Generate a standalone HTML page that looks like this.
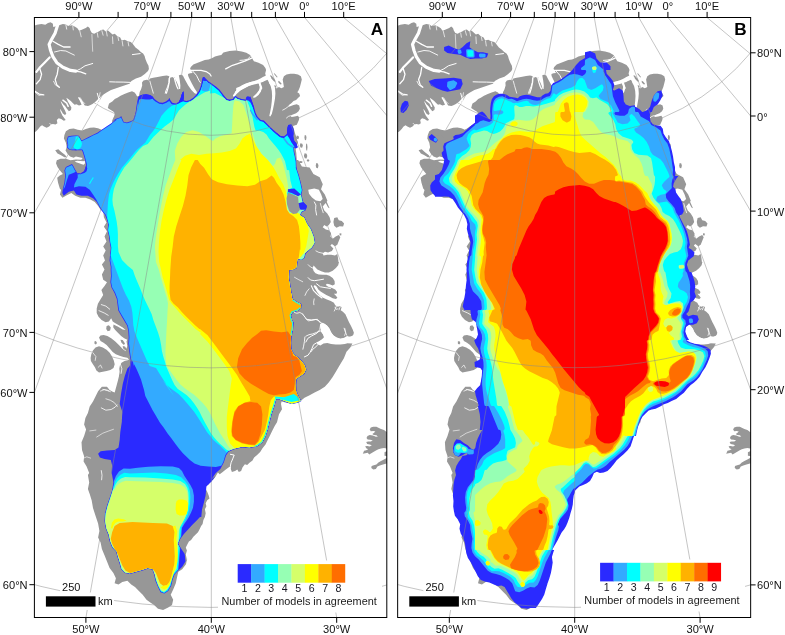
<!DOCTYPE html><html><head><meta charset="utf-8"><title>Number of models in agreement</title>
<style>html,body{margin:0;padding:0;background:#fff}svg{display:block}text{font-family:"Liberation Sans",Arial,sans-serif}</style></head><body>
<svg width="785" height="635" viewBox="0 0 785 635">
<rect width="785" height="635" fill="#fff"/>
<clipPath id="clipA"><rect x="34.4" y="17.5" width="352.40000000000003" height="600.0"/></clipPath>
<g clip-path="url(#clipA)">
<path d="M209.1,-93.2L-990.0,118.2M209.2,-92.8L-935.0,323.6M209.3,-92.5L-845.1,516.3M209.6,-92.1L-723.2,690.5M209.8,-91.9L-572.8,840.9M210.2,-91.6L-398.6,962.8M210.5,-91.5L-205.9,1052.7M210.9,-91.4L-0.5,1107.7M211.3,-91.3L211.3,1126.3M211.7,-91.4L423.1,1107.7M212.1,-91.5L628.5,1052.7M212.4,-91.6L821.2,962.8M212.8,-91.9L995.4,840.9M213.0,-92.1L1145.8,690.5M213.3,-92.5L1267.7,516.3M213.4,-92.8L1357.6,323.6M213.5,-93.2L1412.6,118.2M-740.8,-93.6A952.1,952.1 0 1 0 1163.4,-93.6M-489.7,-93.6A701.0,701.0 0 1 0 912.3,-93.6M-250.0,-93.6A461.3,461.3 0 1 0 672.6,-93.6M-17.6,-93.6A228.9,228.9 0 1 0 440.2,-93.6" fill="none" stroke="#8a8a8a" stroke-width="0.5"/>
<path d="M275,73.8 273.8,72.9 274.4,74.6 276.9,77.6 277.6,76.9ZM40.2,126.5 42.1,125.2 44,126.5 46.6,127.8 49.1,126.5 51,124.6 52.9,123.9 55.5,124.6 57.4,123.3 56.8,120.1 58.7,118.2 61.2,118.9 63.8,120.8 65.7,120.1 64.4,118.2 62.5,115.7 60.6,111.8 59.9,108.7 61.2,110.6 62.9,113.4 65,115 66.3,113.8 65,110.6 63.4,107.4 61.8,104.2 60.6,101 61.8,102.3 63.1,104.2 65,106.1 66.9,108.7 68.9,111.2 71,109.9 71.4,107.4 69.5,104.2 67.6,101 66.3,97.8 68.2,99.1 70.8,101 72.7,102.9 74.6,104.8 76.5,104.2 79,105.5 81.6,104.8 80.3,101.7 79,98.5 81,99.7 82.9,102.9 84.8,105.5 88,106.1 90,105.3 92.5,104 95.7,101.5 98.9,98.3 102.7,95.1 106.6,92.6 111,90 115.5,88.4 120.6,86.8 125.7,84.9 129.5,83.7 130.5,82.4 131.4,81.1 135.9,78.6 141,76.7 144.8,74.1 148,70.9 148.9,68.9 148.5,65.8 146.9,62.7 145.4,58.9 144.6,55.9 143.1,53.6 140.8,52 138.5,49.7 135.5,47.5 133.2,44.4 130.9,42.1 127.8,41.3 124.8,39.8 121.7,40.6 120.2,37.5 117.1,36 114.8,33.7 112.5,34.5 110.3,32.6 108,30.6 105.7,31.4 103.4,29.6 101.1,29.9 98.8,31.4 96.5,32.6 94.2,33.7 91.9,32.9 90.4,30.6 89.6,28 87.8,26.5 85.8,28 83.5,29.1 81.2,29.9 78.9,30.6 77.4,28.3 75.1,26.8 72,25.3 68.2,26.1 65.9,24.5 62.9,24.1 59,25.3 55.2,26.5 53.2,27.1 52.9,23.8 50.6,22.2 48,23 45.3,24.7 41.5,24.1 36.9,24.7 33.1,26.2 28.5,26.5 26.2,133.5 35.1,132 36.4,131 38.3,129ZM274.4,78.9 271.8,75.9 270.3,75 270.3,76.9 271.8,78.9 274.1,81.4 275.7,81.4ZM278.2,80.8 278.5,82.7 280.5,84.6 281.8,83.9 279.7,81.4ZM273.9,86.5 269.6,83.9 268.3,81 266.5,78.2 265.2,73.4 266.1,69.9 265.4,68 263.1,65 258.5,62.7 253.9,61.2 251.7,57.4 250.1,55.1 246.3,52.8 241.7,51.6 235.6,50.5 229.5,51 223.4,52.5 221.3,55 218.8,55.6 215,56.5 211.8,58.2 208.6,59.5 204.8,60.1 201,61.4 197.1,62.9 193.3,64.6 190.8,67.1 190.1,68.8 191.4,70.9 192.7,73.1 190.1,73.2 188,74.1 188.2,76 189.7,79.2 192,83.7 194.6,88.4 196.9,91.9 196.5,93.9 194.6,93.2 191.4,90 188.2,85.6 185.7,81.1 184.1,77.9 182.9,75.4 180.6,74.7 178.3,75.4 176.1,76.7 173.9,77.9 172.3,77 170.4,77.7 168.7,76 166.6,75.4 162.7,76 157.6,76.9 153.2,77.7 150,78.6 148.6,80.5 146.7,79.8 143.5,80.5 142,82.4 142.2,85.6 141,89.4 139.7,91.9 139,95.8 137.1,96.4 136.1,94.5 134.6,92.6 132,91.3 128.2,92.6 124.4,93.9 120.6,95.8 117.4,97.7 114.8,98.9 112.3,101.5 109.1,103.4 108.5,105.3 107.8,107.9 110.4,109.8 113.6,111.7 114.8,113.6 114.2,116.1 112.9,118.7 111.9,121.2 112.5,122.8 106.4,127.4 101.5,129.7 98,128.3 93.9,127.4 89.9,127.7 85.8,128.9 82,130.5 77.7,129.7 73.6,128.5 69.4,128.9 65.9,131.2 64.4,135 63.9,138.4 65.9,142.7 66.7,147.3 65.5,150.6 67.5,153.7 70.1,156.4 73.6,157.7 75.9,156.4 82.7,158 81.2,159.8 75.9,159.5 70.5,160.3 65.9,158.7 60.6,158.7 56.8,160.3 56,163.3 57.5,167.1 59.8,170.2 62.9,174 59.8,175.6 57.2,177.8 58,182.4 59.8,188.5 61.1,190.1 59.9,194.4 62.4,197.7 66.8,195.2 71.3,193.1 75.2,195.7 80.3,197.7 85.4,197.7 90.4,199.5 94.8,202 98.1,205.9 100.6,209.7 103.2,211 103.9,217.3 106.5,222.4 103.9,226.8 107,231.3 104.5,236.4 106.5,241.5 103.2,246.6 105.7,250.4 103.2,255.5 105,260.6 101.9,264.5 104.5,269.6 101.9,274.6 103.2,279.7 107,282.3 104.5,286.1 101.4,289.9 103.2,295 100.1,300 97.9,303.8 96.7,308.4 96.7,313 98.5,316.8 101.6,319.9 105.6,322.2 108.9,321.4 111.2,318.3 112.7,321.4 115,322.9 118.9,325.2 122.7,327.5 125.7,330.1 122.7,329.4 118.1,326.8 113.5,324.5 113.2,327.2 115,329.8 118.1,332.9 121.1,335.9 124.2,338.2 127.3,339.7 126.5,341.3 127.3,345.9 126.4,348.8 125,346.6 122.7,345.9 123,348.2 125.4,350.4 126,350.1 125.7,351.2 122.7,348.9 118.9,345.1 115,341.3 111.2,338.2 107.4,335.9 103.6,334.9 100.5,335.5 99,337.5 100.5,341 103.6,342.8 106.6,345.1 109.7,348.6 112.7,352 115.8,354.3 119.6,355.8 123.4,356.9 127.3,357.8 129.1,359.6 127.3,360.4 124.5,361.1 121.5,362.7 119.9,365.4 119.3,368.8 119.6,371.8 118.9,376.4 117.8,381 116.6,385.6 115.3,390.2 114.7,392.6 112.7,391.7 109.6,390.1 107,386.8 101.9,386.8 98.1,391.3 95.5,396.4 93,401.5 89.7,406.6 87.9,413 85.4,418.1 84.1,424.5 86.1,429.6 84.1,435.9 81.5,442.3 82,449.9 84.1,456.3 83.6,461.4 86.6,466.5 89.2,472.9 87.9,475 89.2,482.6 87.9,489 89.7,494.1 91.7,500.5 93,508.1 95.5,515.8 98.1,523.4 99.4,531.1 98.1,537.4 100.6,542.5 101.9,548.9 104.5,555.3 107,561.6 109.6,568 113.4,573.1 115.9,578.2 114.6,583.3 118.5,584.6 122.3,582 127.4,580.7 131.2,584.6 135,587.1 138.9,590.9 142.7,594.7 146.5,599.8 150.3,602.4 154.1,604.9 158,608.8 163.1,610 168.2,607.5 172,604.9 173.2,599.8 170.7,594.7 173.2,589.6 175.8,583.3 177.1,576.9 178.3,571.8 182.2,569.3 186,564.2 186.8,560.2 186.6,558.2 185.8,554.4 186.9,550.6 185.8,547.5 187.3,544.5 188.9,541.4 191.1,539.9 193.4,536.8 195.7,534.6 198,532.3 199.6,529.2 201.1,526.1 202.6,523.9 203.4,520 204.9,517 205.7,513.2 204.9,509.3 206.4,506.3 205.7,503.2 207.2,500.2 209.5,498.6 208.7,495.6 207.2,491.8 205.2,487.9 203.1,484.9 205.7,484.1 208,484.9 210.3,481.8 213.3,479.5 215.6,476.5 217.9,472.6 219.7,474.2 222.7,471.9 225.8,469.6 228.9,467.3 231.1,465.8 230.8,468.9 231.9,471.9 235,471.1 237.3,469.6 238.8,471.9 241.1,471.1 242.6,467.3 244.9,464.3 247.2,465 249.5,462.7 252.5,460.4 254.1,457.4 257.1,455.1 260.2,452 262.5,448.2 265.5,444.4 267.8,439.8 270.1,435.2 272.4,430.6 274.7,426.1 277,422.2 279,414.3 282,409.2 281,404.1 281.5,401.5 286.6,402.8 291.7,404.1 296.8,402.8 300.6,401 304.5,397.7 309.6,395.2 314.6,392.6 319.7,390.1 324.8,386.8 328.7,382.4 332.5,377.3 336.3,371 340.1,364.6 343.9,358.2 346.5,351.8 350.3,347.5 352.4,343.4 319,342 321.8,340.3 324.1,338.2 323.4,334.9 321.6,331.4 320.3,327.6 320.6,324.4 323.1,323.4 326.3,325.1 328.9,328 330.8,331.8 333.3,335.2 336.5,337.4 340.3,338.7 344.1,337.8 347.1,336.1 350.1,336.9 353.1,335.6 353.9,332.7 352.7,329.5 350.9,325.7 348.9,321.9 347.1,318.1 345.4,314.2 342.9,311.7 340.7,310.2 341.6,307.2 340.3,305.9 337.8,306.8 335.2,305.3 333.9,302.8 330.8,300.9 326.9,299.6 323.1,297.7 319.9,295.4 317.4,292.6 315.5,289.4 313.6,286.2 314.8,284.9 316.8,286.8 318.3,289.4 320.6,291.6 323.4,293.2 326.3,294.9 329.5,296.6 332.7,298.3 335.9,298.9 337.4,297.7 335.9,295.8 333.9,293.8 336.5,293.8 337.1,291.9 335.2,289.4 332,288.1 328.2,286.8 325.7,284.9 326.9,283.7 329.5,284.3 332.7,285.6 334.8,284.3 334.6,281.1 332.7,277.9 329.5,275.8 326.3,274.7 322.5,274.7 318.7,274.5 315.5,273.2 313.6,270.9 312.7,267.7 313.6,265.6 314.8,266.8 317.4,269.4 321.2,271.2 325,272.4 328.9,272.4 332.7,270.7 335.9,268.1 338.2,265.2 339,262 338.5,261.9 338,257.8 337.3,254 335,255.5 331.1,254.7 327.3,254.7 323.5,255.5 322.7,253.2 325,251.7 328.1,252.4 331.9,250.9 333.4,248.6 330.4,245.6 331.9,244 335,246.3 337.3,244.8 338.8,241 340.3,237.2 338.8,234.9 335.7,236.4 332.7,238.7 330.4,236.4 331.1,233.3 328.9,230.3 325.8,229.5 322.7,227.2 324.3,224.9 326.6,226.5 328.9,224.9 330.8,221.9 329.6,217.3 327.3,213.5 324.3,210.4 322.7,206.6 325.7,202.9 328.1,207.4 329.6,208.2 326.7,201.7 327.4,200.8 324.8,194.4 321,189.3 322.8,184.2 319.7,177.3 313.4,174 309.6,167.6 301.9,166.4 299.7,162.7 300,163 301.8,163.1 302.7,162 302,161.2 299.8,161 299.2,161.8 298.1,160 296.8,160 296.3,152.9 295.5,147.8 298.1,142.7 296.8,138.9 296.4,137.7 297,139.1 298.4,139.2 299,137.4 298.5,135.9 296.8,135.6 296.3,137.3 294.8,132.5 293,126.1 296.8,124.8 298.9,120 299.2,117.7 298,115.8 294.8,116.4 291.6,117.1 290.3,115.8 292.9,114.5 296.1,113.2 298.6,111.3 299.9,108.8 299.2,105.6 296.7,104.3 293.5,105 290.3,106.2 287.8,106.9 289,105 291.6,103.1 293.5,101.1 296.1,99.9 298,98 300.1,96.1 299.2,93.5 297.3,92.2 298.6,90.3 299.9,87.1 300.9,83.3 301.8,79.5 300.9,76.3 298,74.4 294.1,73.8 290.3,73.8 286.5,74.6 283.9,76.3 282.7,79.5 283.3,83.3 283.9,87.1 281.4,88.2 278.9,87.1 276.9,88.4 275,87.2 276.3,87.4 275.7,85.6 273.4,85.2ZM65.2,154.9 61.3,151.9 58.3,149.3 55.2,150.3 57.5,153.4 60.6,154.9 64.4,157.2 66.7,157.2ZM110.8,327.5 108.9,325.2 106.6,326 106.2,329 107.7,331.3 110.1,330.6ZM120.4,339.7 121.5,342.8 123.9,345.1 125,343.6 122.7,340.1ZM94.4,341.6 94.5,343.7 95.9,344.6 97,343.1 95.9,341ZM99,372.6 102.8,371.8 106.6,371.1 110.4,370 113.5,368 114.7,364.2 113.8,360.4 112,356.6 109.7,352.7 106.6,349.7 102.8,347.4 99,346.2 95.5,347.4 92.9,350.4 91.3,354.3 90.6,358.1 90.9,361.1 92.9,364.2 94.9,367.3 96.4,370.6ZM186.9,561 187.3,557.8 186.8,560.2ZM306.1,135.5 304.8,135 304.4,137.6 304.9,139.9 306,140.2 306.5,137.6ZM300.4,143.2 299.8,145.5 300.6,147.6 302.1,147.8 302.9,145.5 302.3,143.7ZM306.2,143.4 305.9,147 306.3,150.3 307.1,150.7 307.5,147 307.1,144.1ZM304.6,153.3 303.9,155.9 304.8,158.2 306.5,158.5 307.3,155.9 306.6,153.8ZM307.2,159.4 306.7,160.5 307.4,161.5 308.8,161.6 309.4,160.5 308.9,159.6ZM316.3,163.1 315.7,165.7 316.4,168 317.8,168.3 318.5,165.7 317.9,163.6ZM344.1,223.4 341.8,221.1 338.8,220.3 337.3,217.3 334.2,218.1 333.4,221.9 334.2,225.7 336.5,227.7 339.6,226.2 343.1,226.5ZM339.6,235.3 341.2,235.6 341.5,233.6 339.6,233.3ZM376.4,426.8 373.3,426.8 370.8,427.5 369.7,429.4 370.8,431.2 373.3,430.9 375.4,431.4 373.8,432.9 372.3,433.9 373.8,435 376.4,435.3 377.9,436.5 375.9,436.7 372.8,435.5 369.7,435 367.5,436 366.5,438 367.7,439.6 370.3,439.8 372.8,440.4 370.8,441.6 368.2,441.4 366.2,442.1 367.2,444.1 369.7,444.6 371.8,445.2 369.7,446.5 367.2,445.9 365.2,446.2 366.2,448.2 368.2,449.2 366.2,450.3 364.1,450.8 362.8,453.8 365.2,453.3 367.7,452.8 369.2,454.6 371.3,453.3 373.8,451.8 376.4,450.3 378.4,449.2 381,448.5 384,447.9 386.6,448.5 391.1,448.5 391.1,431.9 386.6,431.9 384,429.9 381,428.9 378.4,427.8ZM386.6,451.3 384.5,452.3 384.5,455.7 386.6,455.9 391.1,455.9 391.1,451.3ZM376.4,464.5 373.8,465.2 371.6,466.1 371.3,468.1 373.3,469.6 375.9,468.9 377.4,466.6 379.9,465.5 383,464.5 386.6,463.5 391.1,463.5 391.1,457.9 386.6,457.9 384,459.4 381,461 378.4,462.5Z" fill="#979797"/>
<path d="M57.8,24.5 55.2,32.9 51.4,39.8 49.1,44.4 50.6,50.5 52.9,56.6 56.8,62.7 62.9,67.3 70.5,70.4 75.9,71.1" fill="none" stroke="#fff" stroke-width="3.2" stroke-linecap="round" stroke-linejoin="round"/>
<path d="M75.9,71.1 80.4,68.9 85,65.8 92.7,63.5" fill="none" stroke="#fff" stroke-width="1.0" stroke-linecap="round" stroke-linejoin="round"/>
<path d="M74.3,71.1 80.4,71.9 85.8,73.9" fill="none" stroke="#fff" stroke-width="1.2" stroke-linecap="round" stroke-linejoin="round"/>
<path d="M52.9,41.3 58.3,44.4 63.6,47 70.1,47" fill="none" stroke="#fff" stroke-width="1.3" stroke-linecap="round" stroke-linejoin="round"/>
<path d="M54.5,52 60.6,50.5 65.9,51 74.3,55.1" fill="none" stroke="#fff" stroke-width="0.9" stroke-linecap="round" stroke-linejoin="round"/>
<path d="M58.3,67.3 57.2,74.2 55.2,79.6 56.8,84.9 59.4,87.2" fill="none" stroke="#fff" stroke-width="1.3" stroke-linecap="round" stroke-linejoin="round"/>
<path d="M49.6,57.4 44.5,62.7 39.5,67.8 36.4,71.9" fill="none" stroke="#fff" stroke-width="2.2" stroke-linecap="round" stroke-linejoin="round"/>
<path d="M39.5,67.8 41.6,74.2 40.1,79.6 36.4,83.7" fill="none" stroke="#fff" stroke-width="1.3" stroke-linecap="round" stroke-linejoin="round"/>
<path d="M112.5,36.8 112.9,43.6" fill="none" stroke="#fff" stroke-width="0.7" stroke-linecap="round" stroke-linejoin="round"/>
<path d="M91.9,34.5 92.7,51.3" fill="none" stroke="#fff" stroke-width="0.6" stroke-linecap="round" stroke-linejoin="round"/>
<path d="M132.4,54.6 140.1,53.6" fill="none" stroke="#fff" stroke-width="1.0" stroke-linecap="round" stroke-linejoin="round"/>
<path d="M130.8,82.4 123.1,82.1 115.5,82 109.7,81.8" fill="none" stroke="#fff" stroke-width="1.0" stroke-linecap="round" stroke-linejoin="round"/>
<path d="M34.6,91 39.2,94.1 43.8,94.8" fill="none" stroke="#fff" stroke-width="1.2" stroke-linecap="round" stroke-linejoin="round"/>
<path d="M62.9,100.2 66.7,103.2 68.2,106.3" fill="none" stroke="#fff" stroke-width="1.5" stroke-linecap="round" stroke-linejoin="round"/>
<path d="M78.9,97.9 82.7,103.2 83.5,106.3" fill="none" stroke="#fff" stroke-width="1.5" stroke-linecap="round" stroke-linejoin="round"/>
<path d="M97.3,93.3 99.6,101.7 95.7,104.8" fill="none" stroke="#fff" stroke-width="1.0" stroke-linecap="round" stroke-linejoin="round"/>
<path d="M149.9,81.1 151.1,85.6 152.4,90 153.3,93.2" fill="none" stroke="#fff" stroke-width="0.8" stroke-linecap="round" stroke-linejoin="round"/>
<path d="M169.6,77.3 169.2,82.4 168,88.1 166.4,93.2" fill="none" stroke="#fff" stroke-width="1.2" stroke-linecap="round" stroke-linejoin="round"/>
<path d="M169.1,78.3 168.9,82.4 167.6,86.8 165.9,90.7 165.3,93.2" fill="none" stroke="#fff" stroke-width="1.0" stroke-linecap="round" stroke-linejoin="round"/>
<path d="M174.5,78.3 175.5,82.4 176.8,86.2 178,88.8" fill="none" stroke="#fff" stroke-width="1.3" stroke-linecap="round" stroke-linejoin="round"/>
<path d="M192.9,71.3 196.5,75.4 199,80.5 200.3,82.4" fill="none" stroke="#fff" stroke-width="1.0" stroke-linecap="round" stroke-linejoin="round"/>
<path d="M186.9,70.3 193.3,70.3 201,70.3 206.1,71.6 209.9,74.1 211.1,76" fill="none" stroke="#fff" stroke-width="1.2" stroke-linecap="round" stroke-linejoin="round"/>
<path d="M251.7,58.2 244.8,61.2 237.1,63.8 232.5,65.3 225.7,68.9" fill="none" stroke="#fff" stroke-width="1.3" stroke-linecap="round" stroke-linejoin="round"/>
<path d="M270,77.6 263.1,80.6 257,82.6 247.8,84.9 241.7,88 235.6,93.3 234.1,95.6" fill="none" stroke="#fff" stroke-width="2.2" stroke-linecap="round" stroke-linejoin="round"/>
<path d="M259.3,83.4 261.6,88 257,94.1 253.9,97.1" fill="none" stroke="#fff" stroke-width="1.5" stroke-linecap="round" stroke-linejoin="round"/>
<path d="M266.8,76.4 261.1,81 251,82.8 242,86.6 235.7,92.2" fill="none" stroke="#fff" stroke-width="1.6" stroke-linecap="round" stroke-linejoin="round"/>
<path d="M316.3,343.1 313.6,344.6 312,348.4 310.1,352.3 307.9,355.3 304.4,356.9" fill="none" stroke="#fff" stroke-width="1.0" stroke-linecap="round" stroke-linejoin="round"/>
<path d="M317.8,344.6 315.9,346.9 312.8,349.2 311.3,351.5" fill="none" stroke="#fff" stroke-width="0.9" stroke-linecap="round" stroke-linejoin="round"/>
<path d="M305.9,318.6 308.2,320.9 312,320.2 315.9,319.4 318.9,320.9 321.2,322.8" fill="none" stroke="#fff" stroke-width="0.9" stroke-linecap="round" stroke-linejoin="round"/>
<path d="M302.9,314.1 299.8,312.5 296.8,313.3 294.5,312.5" fill="none" stroke="#fff" stroke-width="0.8" stroke-linecap="round" stroke-linejoin="round"/>
<path d="M304.9,337 304.4,341.6 303.6,346.2 302.9,349.2" fill="none" stroke="#fff" stroke-width="0.9" stroke-linecap="round" stroke-linejoin="round"/>
<path d="M320.4,330.9 316.6,332.4 312.8,333.9 309,334.7 305.9,336.2" fill="none" stroke="#fff" stroke-width="0.9" stroke-linecap="round" stroke-linejoin="round"/>
<path d="M335,307.2 336.5,309.5 338,308.7" fill="none" stroke="#fff" stroke-width="0.8" stroke-linecap="round" stroke-linejoin="round"/>
<path d="M344.9,328.6 345.7,332.4 344.6,335.5" fill="none" stroke="#fff" stroke-width="0.7" stroke-linecap="round" stroke-linejoin="round"/>
<path d="M309.1,288.8 306.6,291.9 305,295.4" fill="none" stroke="#fff" stroke-width="0.8" stroke-linecap="round" stroke-linejoin="round"/>
<path d="M314.2,298.9 313.6,302.1 313.9,304.7" fill="none" stroke="#fff" stroke-width="0.8" stroke-linecap="round" stroke-linejoin="round"/>
<path d="M294.5,277.3 298.9,279.8 302.7,281.7" fill="none" stroke="#fff" stroke-width="0.7" stroke-linecap="round" stroke-linejoin="round"/>
<path d="M302.7,314.2 306.6,319.3 311.7,320 317.4,319.3 320.6,323.1" fill="none" stroke="#fff" stroke-width="1.0" stroke-linecap="round" stroke-linejoin="round"/>
<path d="M320.6,324.4 319.9,329.5 316.8,333.3 311.7,335.9 307.8,338.4 305.9,342" fill="none" stroke="#fff" stroke-width="1.0" stroke-linecap="round" stroke-linejoin="round"/>
<path d="M336.5,305.9 335.2,309.1 334.3,311" fill="none" stroke="#fff" stroke-width="0.8" stroke-linecap="round" stroke-linejoin="round"/>
<path d="M340.3,306.6 339,309.8" fill="none" stroke="#fff" stroke-width="0.8" stroke-linecap="round" stroke-linejoin="round"/>
<path d="M344.1,328.2 345.4,332.1 346.7,335.2" fill="none" stroke="#fff" stroke-width="0.8" stroke-linecap="round" stroke-linejoin="round"/>
<path d="M311.3,285.8 313.6,290.7 317.4,294.5 322,298" fill="none" stroke="#fff" stroke-width="1.1" stroke-linecap="round" stroke-linejoin="round"/>
<path d="M315.9,271.6 320.4,272.3 325,273.8" fill="none" stroke="#fff" stroke-width="1.0" stroke-linecap="round" stroke-linejoin="round"/>
<path d="M308.2,277.7 310.5,280 314.3,280.7 318.9,280 323.5,279.2" fill="none" stroke="#fff" stroke-width="1.0" stroke-linecap="round" stroke-linejoin="round"/>
<path d="M316.6,283.8 320.4,286.8 325,287.6 330.4,288.4" fill="none" stroke="#fff" stroke-width="1.0" stroke-linecap="round" stroke-linejoin="round"/>
<path d="M314.3,202 315.9,205.1 315.6,209.6 316.6,215" fill="none" stroke="#fff" stroke-width="0.9" stroke-linecap="round" stroke-linejoin="round"/>
<path d="M320.4,203.5 321.7,208.1 323.2,212.7" fill="none" stroke="#fff" stroke-width="0.8" stroke-linecap="round" stroke-linejoin="round"/>
<path d="M322.7,253.2 318.9,252.4 315.9,250.9" fill="none" stroke="#fff" stroke-width="0.8" stroke-linecap="round" stroke-linejoin="round"/>
<path d="M313.6,268.5 310.5,267 308.2,264.7" fill="none" stroke="#fff" stroke-width="0.8" stroke-linecap="round" stroke-linejoin="round"/>
<path d="M250.2,56.6 247.6,59.1 243.8,60.1 240,60.4" fill="none" stroke="#fff" stroke-width="0.9" stroke-linecap="round" stroke-linejoin="round"/>
<path d="M287.8,106.9 285.2,108.8 282.7,110.1" fill="none" stroke="#fff" stroke-width="0.8" stroke-linecap="round" stroke-linejoin="round"/>
<path d="M290.3,115.8 288.4,116.4 286.5,118" fill="none" stroke="#fff" stroke-width="0.8" stroke-linecap="round" stroke-linejoin="round"/>
<path d="M230.4,454.3 234.2,455.1 232.7,458.9 231.1,462.7 230.4,465.8" fill="none" stroke="#fff" stroke-width="1.0" stroke-linecap="round" stroke-linejoin="round"/>
<path d="M101.3,304.6 105.9,306.1 109.7,309.2" fill="none" stroke="#fff" stroke-width="0.8" stroke-linecap="round" stroke-linejoin="round"/>
<path d="M99,310.7 104.3,313 108.2,315.3" fill="none" stroke="#fff" stroke-width="0.8" stroke-linecap="round" stroke-linejoin="round"/>
<path d="M92.9,352.7 95.9,356.6 95.2,360.4" fill="none" stroke="#fff" stroke-width="0.7" stroke-linecap="round" stroke-linejoin="round"/>
<path d="M98.2,367.3 100.5,365 102,368" fill="none" stroke="#fff" stroke-width="0.7" stroke-linecap="round" stroke-linejoin="round"/>
<path d="M120.4,364.2 121.9,368.8 121.1,373.4" fill="none" stroke="#fff" stroke-width="0.8" stroke-linecap="round" stroke-linejoin="round"/>
<path d="M102.8,389.4 107.4,390.2 110.4,391.7" fill="none" stroke="#fff" stroke-width="0.8" stroke-linecap="round" stroke-linejoin="round"/>
<path d="M79.7,30.6 81.2,36.8" fill="none" stroke="#fff" stroke-width="0.7" stroke-linecap="round" stroke-linejoin="round"/>
<path d="M97.3,32.9 98,37.2" fill="none" stroke="#fff" stroke-width="0.7" stroke-linecap="round" stroke-linejoin="round"/>
<path d="M101.8,30.6 103.1,35.2" fill="none" stroke="#fff" stroke-width="0.7" stroke-linecap="round" stroke-linejoin="round"/>
<path d="M106.4,31.4 107.2,36" fill="none" stroke="#fff" stroke-width="0.7" stroke-linecap="round" stroke-linejoin="round"/>
<path d="M117.9,36.8 118.7,40.6" fill="none" stroke="#fff" stroke-width="0.7" stroke-linecap="round" stroke-linejoin="round"/>
<path d="M122.2,41.3 122.9,45.9" fill="none" stroke="#fff" stroke-width="0.7" stroke-linecap="round" stroke-linejoin="round"/>
<path d="M128.1,42.1 128.8,45.9" fill="none" stroke="#fff" stroke-width="0.7" stroke-linecap="round" stroke-linejoin="round"/>
<path d="M65.9,25 66.7,29.1" fill="none" stroke="#fff" stroke-width="0.8" stroke-linecap="round" stroke-linejoin="round"/>
<path d="M72.8,26.1 73.3,29.9" fill="none" stroke="#fff" stroke-width="0.7" stroke-linecap="round" stroke-linejoin="round"/>
<path d="M53.6,81.3 55.5,85.1 58.7,87" fill="none" stroke="#fff" stroke-width="0.8" stroke-linecap="round" stroke-linejoin="round"/>
<path d="M35.1,92.1 38.9,95.3 42.7,94.6" fill="none" stroke="#fff" stroke-width="0.8" stroke-linecap="round" stroke-linejoin="round"/>
<path d="M80.3,97.8 82.2,101 84.8,103.6" fill="none" stroke="#fff" stroke-width="0.7" stroke-linecap="round" stroke-linejoin="round"/>
<path d="M100.1,92.7 99.4,96.6" fill="none" stroke="#fff" stroke-width="0.7" stroke-linecap="round" stroke-linejoin="round"/>
<path d="M49.7,123.3 52.3,125.9" fill="none" stroke="#fff" stroke-width="0.7" stroke-linecap="round" stroke-linejoin="round"/>
<path d="M101.3,407.9 105.9,410.2 111.2,409.5 115,407.2 117.3,404.9" fill="none" stroke="#fff" stroke-width="0.8" stroke-linecap="round" stroke-linejoin="round"/>
<path d="M105.9,398.8 110.4,400.3 114.3,402.6 117.3,406.4" fill="none" stroke="#fff" stroke-width="0.7" stroke-linecap="round" stroke-linejoin="round"/>
<path d="M89.8,430.9 95.9,430.1" fill="none" stroke="#fff" stroke-width="0.6" stroke-linecap="round" stroke-linejoin="round"/>
<path d="M96.7,437 102.8,433.2 108.9,430.9 113.5,429.3" fill="none" stroke="#fff" stroke-width="0.6" stroke-linecap="round" stroke-linejoin="round"/>
<path d="M100.5,391.1 104.3,389.6 108.9,391.1" fill="none" stroke="#fff" stroke-width="0.7" stroke-linecap="round" stroke-linejoin="round"/>
<path d="M101.3,470.6 102,475.2 101.6,479.8" fill="none" stroke="#fff" stroke-width="0.8" stroke-linecap="round" stroke-linejoin="round"/>
<path d="M82.9,458.4 86.8,456.8 90.6,458.1" fill="none" stroke="#fff" stroke-width="0.6" stroke-linecap="round" stroke-linejoin="round"/>
<path d="M174.7,78.6 175.6,74.1 177.9,72.8 178.9,75.4 179.8,80.5 180.4,85.6 180.2,89.1 179.2,89.1 178.2,85.6 176.6,81.8ZM353.8,334.7 351.8,336.2 348,337.1 344.1,338.2 340.3,338.7 336.5,337.6 333.4,335.6 331.1,332.5 329.6,328.7 327.3,325.7 324.3,323.4 321.5,322.5 320.4,326.3 322,329.3 320.4,330.9 322.7,333.9 324.3,337 322,339.3 318.9,341.3 316.3,342.6 317.8,344.6 320.4,345.4 323.5,343.6 327.3,343.1 331.1,343.9 335.7,344.6 340.3,344.6 344.9,343.9 348.7,342.6 352.5,341.9 355.6,339.3ZM266.1,75.4 262.9,76.9 260.4,78.5 257.2,80 253.4,81.3 249.6,82.3 245.7,83.6 242.5,85.1 240,86.4 236.2,88 236.2,91 240,90.4 241.9,89.7 245.1,87.9 248.9,85.9 252.7,84.3 256.6,83.1 260.4,81.5 263.6,79.9 267,78.6ZM258.5,82.7 260.4,82 261.9,87.1 261,91.6 258.5,95 255.3,97.6 254.3,96.7 256.8,94.1 259.1,91 259.7,87.1ZM268.3,78.2 270.6,78 273.4,82.7 275,87.8 275.4,93.5 275,98.6 274.1,103.7 273.1,108.8 271.8,113.9 270.3,116.4 269.3,115.9 270.3,111.3 271.2,106.2 271.8,101.1 272.1,96.1 271.8,91 270.8,86.5 269,82.3ZM74.6,161.6 77.2,160.8 80.3,161 83.3,161.3 84.8,160.8 85,163.3 83.8,164.8 81.8,164.3 79.2,163.3 76.2,162.3ZM308.2,189.8 314.3,188.6 318.9,189.8 321.2,194.4 322.7,199 320.4,201.3 315.9,200.5 312,197.5 309,193.7Z" fill="#fff"/>
<path d="M296.4,166.4 296.2,161.3 295.2,156.2 294.1,151.1 293.9,147.3 295.8,148.6 297.7,147.3 296.4,143.5 293.9,140.3 293.2,135.9 293.9,132 293.2,128.2 291.3,124.4 288.2,125 287.3,128.2 286.9,133.9 283.7,136.5 280.5,135.9 277.3,133.3 273.5,130.1 270.3,126.9 267.1,123.8 263.9,120.6 260.8,119.9 257.6,116.8 255.7,112.9 254.4,108.5 253.8,106.6 252.5,102.7 251.2,98.9 249.9,96.1 250,97 247.5,96.4 246.6,97 245.5,99.6 241.7,98.9 237.9,97.7 235.4,95.8 234.1,97 232.8,98.9 229.6,99.6 227.1,98.9 225.2,97 223.2,94.5 221.3,91.9 219.4,89.4 216.2,86.8 213.7,84.9 211.1,83 208.6,81.5 206.1,79.2 204.1,76.9 202.9,77.3 202,80.5 201,85.6 199,90.7 196.5,94.5 193.3,97.7 189.5,100.2 186.3,100.9 183.4,100.2 183.8,95.8 183.4,91.3 182.1,93.2 180.6,98.3 178.7,102.1 175.5,103.4 172.3,102.8 170.4,100.2 169.4,97.7 168.5,99.6 165.9,101.5 162.7,102.8 159.6,102.4 157,100.9 154.5,98.9 152.5,96.4 150,95.1 149.9,95.1 146.1,94.2 142.2,94.7 140.3,95.5 138.4,97 137.4,100.9 136.5,106 135.9,111.1 134.6,116.1 133.3,120 130.8,121.2 126.9,122.5 123.8,121.9 122.5,119.3 121.2,116.1 119.9,117.4 116.1,118.7 112.3,121.2 115.6,119.8 111,123.6 106.4,126.6 101.1,130.2 97.3,132.8 92.7,135 88.1,137.3 84.3,139.2 81.7,140.4 78.9,135.8 75.9,135.4 71.3,135.8 67.9,136.6 66.7,140.4 67.5,145 66.7,147.3 69,149.6 72,150.3 75.9,150.3 82,150.3 83.2,153.4 84.3,157.2 85.3,161 86.3,164.9 85,168.7 83.5,171.7 80.4,173.6 77.4,173.3 75.1,169.4 73.6,166.4 72,164.1 69,165.6 65.9,167.1 64.4,170.2 65.2,175.6 64.4,182.4 62.9,188.5 62.1,194.7 62.4,193.1 63.7,195.7 68.8,191.8 73.9,190.6 76.4,194.4 81.5,195.7 87.9,195.7 93,198.2 96.8,202 99.4,207.1 101.9,211 105,214.8 107,219.9 108.3,225 107.5,230.1 109,236.4 109.6,241.5 110.8,247.9 110.1,254.3 109.6,260.6 110.8,267 110.7,270 111,276.1 110.4,282.2 111.5,287.6 114.5,292.9 116.8,299 117.6,305.2 118.3,310.5 121.4,315.9 124.5,321.2 127.2,325.8 128.3,331.1 128.7,337.3 128.3,343.4 129,349.5 129.8,355.6 130.6,360.2 129.8,366 127.4,368.4 124.8,376.1 122.8,383.7 121,393.9 119.7,404.1 122.3,411.7 121.8,421.9 120.3,432.1 119.7,439.7 118.5,447.4 114.6,449.9 107,450.4 100.6,451.2 98.1,453.8 99.9,457.6 104.5,458.9 110.8,460.1 112.1,465.2 111.6,472.9 112.1,475 113.4,482.6 112.1,490.3 109.6,497.9 107,505.6 105,513.2 104.5,520.9 105.7,528.5 108.3,534.9 109.6,541.2 112.1,547.6 115.9,551.4 117.7,557.8 119.7,564.2 121,569.3 124.8,573.1 129.9,573.9 136.3,572.3 142.7,570.5 147.8,568.8 152.4,569.8 154.1,574.4 155.4,580.7 158,587.1 160.5,592.2 164.3,593.5 168.2,590.9 171.2,585.8 172.7,579.5 174.5,574.4 178.3,570.5 182.2,566.7 185.5,561.6 184.7,554 181.4,548.9 178.3,543.8 180.4,538.7 183.9,534.1 188.5,529 192.4,524.7 196.2,520.9 200,517 201.3,517 202,509.4 203.8,503 205.6,495.4 206.4,486.5 211.5,481.4 215.3,476.3 211.5,479.2 215.8,472.9 220.4,469 223.9,462.2 226,455.5 228.5,451.7 234.4,449.2 242,447.4 249.7,447.9 257.3,446.6 262.4,442.8 265.5,437.2 268,429.6 269.8,421.9 271.8,414.3 274.4,406.6 276.4,399.5 279.5,399.5 285.4,402 291.7,404.1 298.1,402.8 301.4,401 298.9,396.4 296.8,391.3 296.3,385 296.8,379.1 300.6,376.6 304.5,374 306.5,369.7 305,364.6 301.9,360.8 298.1,356.9 294.3,354.4 291.7,349.3 291.2,342.9 291.7,336.6 293,330.2 293.8,322.5 292.2,320 291.2,315.4 293,312.4 298.1,310.8 301.9,307.8 301.4,303.9 296.8,301.4 293,298.9 291.7,292.5 290.4,284.8 289.2,277.2 289.7,270.6 293,270.1 296.8,268.3 298.1,259.4 301.4,260.1 304.5,258.1 305.7,253.5 308.3,251 312.1,247.9 315.2,242.8 314.1,236.4 311.1,228.8 307.5,223.7 304.5,217.3 300.6,214.8 301.9,212.2 305.7,210.2 307,205.9 303.2,202 301.4,194.4 302.4,190.1 300.9,182.9 298.9,175.3 297.1,169.9ZM297.1,170 296.3,167.6 297.1,169.9Z" fill="#2a2aff"/>
<path d="M97.3,201.5 97.3,201.6 97.4,201.6 97.4,201.7 100,206.8 102.5,210.6 105.5,214.4 105.6,214.4 105.6,214.5 105.7,214.5 107.7,219.6 107.7,219.7 109,224.8 109,224.9 109,225 109,225 109,225.1 108.2,230.1 109.7,236.2 109.7,236.3 110.3,241.4 111.5,247.8 111.5,247.8 111.5,247.9 111.5,248 110.8,254.4 110.3,260.6 111.5,266.9 111.5,266.9 111.5,267 111.4,270 111.7,276.1 111.7,276.2 111.1,282.2 112.2,287.4 115.1,292.6 115.1,292.6 115.2,292.7 117.5,298.8 117.5,298.8 117.5,298.9 118.3,305.1 119,310.3 122,315.5 125.1,320.8 127.8,325.4 127.8,325.5 127.9,325.6 127.9,325.7 129,331 129,331.1 129.4,337.3 129.4,337.3 129,343.4 129.7,349.4 130.5,355.5 131.2,359.5 132.9,361.7 133.9,366 134.1,364.2 136.4,368.8 138.7,374.1 141,379.5 142.5,384.8 144.1,390.2 145.3,396 152.5,410 160,422.7 163.8,427.8 167.6,433.5 171.5,438.6 175.3,443.7 179.1,448.8 182.9,453.2 186.8,457.1 189.9,460 194.5,463.5 200.6,465.8 208.2,466.6 215.9,466.9 221.2,465.8 221.3,465.7 223.3,461.9 225.3,455.3 225.4,455.2 225.4,455.2 225.4,455.1 227.9,451.3 228,451.3 228,451.2 228.1,451.2 228.1,451.1 228.2,451.1 228.2,451.1 234.1,448.6 234.2,448.5 234.2,448.5 241.8,446.7 241.9,446.7 242,446.7 242,446.7 249.7,447.2 257,445.9 261.9,442.3 264.9,436.9 267.3,429.4 269.1,421.7 269.1,421.7 271.1,414.1 271.1,414.1 273.7,406.4 275.7,399.3 275.7,399.2 275.8,399.2 275.8,399.1 275.9,399.1 275.9,399 276,399 276,398.9 276.1,398.9 276.1,398.9 276.2,398.8 276.3,398.8 276.3,398.8 276.4,398.8 279.5,398.8 279.6,398.8 279.6,398.8 279.7,398.8 279.8,398.9 285.6,401.3 291.7,403.4 297.9,402.1 300.5,400.7 298.3,396.7 298.3,396.7 296.2,391.6 296.1,391.5 296.1,391.4 296.1,391.4 295.6,385.1 295.6,385 295.6,384.9 296.1,379 296.1,379 296.1,378.9 296.2,378.8 296.2,378.8 296.2,378.7 296.3,378.7 296.3,378.6 296.4,378.6 296.4,378.5 300.2,376 303.9,373.5 305.8,369.6 304.4,364.9 301.4,361.3 297.7,357.4 293.9,355 293.9,354.9 293.8,354.9 293.8,354.8 293.7,354.8 293.7,354.7 291.1,349.6 291,349.6 291,349.5 291,349.4 291,349.4 290.5,343 290.5,342.9 290.5,342.8 291,336.5 291,336.5 292.3,330.1 293.1,322.7 291.6,320.4 291.6,320.3 291.6,320.3 291.5,320.2 291.5,320.1 290.5,315.5 290.5,315.5 290.5,315.4 290.5,315.4 290.5,315.3 290.5,315.2 290.5,315.2 290.6,315.1 290.6,315 292.4,312 292.4,312 292.5,311.9 292.5,311.9 292.6,311.8 292.7,311.8 292.7,311.8 292.8,311.7 297.8,310.2 301.2,307.5 300.8,304.3 296.5,302 296.4,302 292.6,299.5 292.6,299.4 292.5,299.4 292.5,299.3 292.4,299.3 292.4,299.2 292.4,299.2 292.3,299.1 292.3,299 291,292.6 291,292.6 289.7,284.9 289.7,284.9 288.5,277.3 288.5,277.2 288.5,277.1 289,270.5 289,270.5 289,270.4 289,270.4 289.1,270.3 289.1,270.2 289.1,270.2 289.2,270.1 289.2,270.1 289.3,270 289.3,270 289.4,270 289.5,269.9 289.5,269.9 289.6,269.9 292.8,269.4 296.2,267.8 297.4,259.3 297.4,259.2 297.4,259.2 297.5,259.1 297.5,259 297.5,259 297.6,258.9 297.6,258.9 297.7,258.8 297.7,258.8 297.8,258.8 297.8,258.7 297.9,258.7 298,258.7 298,258.7 298.1,258.7 298.2,258.7 298.2,258.7 301.3,259.4 303.9,257.7 305,253.3 305,253.3 305.1,253.2 305.1,253.1 305.1,253.1 305.2,253 305.2,253 307.8,250.5 307.9,250.5 311.6,247.4 314.5,242.7 313.4,236.6 310.5,229.1 306.9,224.1 306.9,224.1 306.9,224 304,217.8 300.2,215.4 300.2,215.3 300.1,215.3 300.1,215.3 300,215.2 300,215.1 300,215.1 299.9,215 299.9,215 299.9,214.9 299.9,214.8 299.9,214.7 299.9,214.7 299.9,214.6 299.9,214.5 300,214.5 301.3,211.9 301.3,211.8 301.4,211.8 301.4,211.7 301.5,211.7 301.5,211.6 301.6,211.6 305.1,209.7 306.2,206.1 302.7,202.5 302.6,202.4 302.6,202.4 302.6,202.3 302.5,202.2 302.5,202.2 300.7,194.6 300.7,194.5 300.7,194.4 300.7,194.4 300.7,194.3 300.7,194.2 301.7,190.1 300.2,183.1 298.2,175.5 296.5,170.3 296.5,170.3 296.4,170.2 295.6,167.8 295.6,167.8 295.6,167.7 295.6,167.6 295.6,167.6 295.6,167.5 295.6,167.4 295.6,167.4 295.7,167.3 295.7,167.2 295.7,167.2 295.8,167.1 295.8,167.1 295.7,166.5 295.7,166.5 295.7,166.4 295.5,161.4 294.5,156.3 293.4,151.2 293.4,151.2 293.4,151.1 293.2,147.3 293.2,147.3 293.2,147.2 293.2,147.1 293.2,147.1 293.3,147 293.3,146.9 293.3,146.9 293.4,146.8 293.4,146.8 293.5,146.7 293.5,146.7 293.6,146.7 293.6,146.6 293.7,146.6 293.8,146.6 293.8,146.6 293.9,146.6 294,146.6 294,146.6 294.1,146.6 294.2,146.7 294.2,146.7 294.3,146.7 295.8,147.8 296.9,147 295.8,143.8 293.3,140.7 293.3,140.7 293.3,140.6 293.2,140.5 293.2,140.5 293.2,140.4 293.1,140 292.4,140 291.8,136.1 291.8,136 291.8,135.8 291.8,135.7 292.5,132 291.9,128.6 290.5,126 289.3,126.2 288.7,128.4 288.3,134 288.3,134.1 288.2,134.3 288.2,134.4 288.1,134.5 288.1,134.7 288,134.8 287.9,134.9 287.8,135 284.6,137.6 284.5,137.7 284.4,137.7 284.2,137.8 284.1,137.8 284,137.9 283.8,137.9 283.7,137.9 283.6,137.9 283.4,137.9 280.2,137.3 280.1,137.2 280,137.2 279.8,137.1 279.7,137.1 279.6,137 276.4,134.4 276.4,134.4 272.6,131.2 272.5,131.1 269.3,127.9 266.1,124.8 266.1,124.8 263.2,121.9 260.5,121.3 260.4,121.2 260.2,121.2 260.1,121.1 260,121.1 259.9,121 259.8,120.9 256.6,117.8 256.5,117.7 256.5,117.6 256.4,117.5 256.3,117.4 254.4,113.5 254.4,113.4 254.4,113.3 253.1,108.9 252.5,107 251.2,103.1 249.9,99.4 249.4,98.3 247.8,97.9 247.7,97.9 246.8,100.1 246.7,100.3 246.7,100.4 246.6,100.5 246.5,100.6 246.4,100.7 246.3,100.8 246.2,100.8 246,100.9 245.9,100.9 245.8,101 245.7,101 245.5,101 245.4,101 245.2,101 241.4,100.3 241.3,100.2 237.5,99 237.4,99 237.3,98.9 237.2,98.9 237.1,98.8 235.5,97.6 235.2,97.9 234,99.7 233.9,99.8 233.8,99.9 233.7,100 233.6,100.1 233.5,100.1 233.4,100.2 233.2,100.2 233.1,100.3 229.9,101 229.8,101 229.6,101 229.5,101 229.4,101 229.2,100.9 226.7,100.2 226.6,100.2 226.5,100.1 226.3,100.1 226.2,100 226.1,99.9 224.2,98 224.1,97.9 222.1,95.4 222.1,95.3 220.2,92.7 218.4,90.4 215.3,87.9 212.9,86 210.3,84.2 207.9,82.7 207.8,82.6 207.7,82.5 205.2,80.2 205,80.1 203.9,78.8 203.4,80.8 202.4,85.9 202.3,86 202.3,86.1 200.3,91.2 200.2,91.3 200.2,91.5 197.7,95.3 197.6,95.4 197.5,95.5 194.3,98.7 194.2,98.8 194.1,98.9 190.3,101.4 190.2,101.4 190,101.5 189.9,101.5 189.8,101.6 186.6,102.3 186.5,102.3 186.3,102.3 186.2,102.3 186.1,102.3 186,102.3 183.1,101.6 182.9,101.5 182.8,101.5 182.7,101.4 182.6,101.3 182.5,101.3 182.4,101.2 182.3,101.1 182.2,101 182.2,100.8 182.1,100.7 182.1,100.6 182,100.5 182,100.3 182,100.2 182,100.1 182.2,97.8 181.9,98.7 181.9,98.8 181.9,98.9 180,102.7 179.9,102.9 179.8,103 179.7,103.1 179.6,103.2 179.5,103.3 179.4,103.3 179.2,103.4 176,104.7 175.9,104.7 175.8,104.8 175.6,104.8 175.5,104.8 175.4,104.8 175.2,104.8 172,104.2 171.9,104.1 171.8,104.1 171.7,104 171.6,104 171.4,103.9 171.3,103.8 171.3,103.7 171.2,103.6 169.3,101 169.2,100.9 169.2,100.9 166.7,102.6 166.6,102.7 166.4,102.8 163.2,104.1 163.1,104.1 163,104.2 162.8,104.2 162.7,104.2 162.5,104.2 159.4,103.8 159.3,103.8 159.2,103.7 159,103.7 158.9,103.6 156.3,102.1 156.2,102.1 156.1,102 153.6,100 153.5,99.9 153.4,99.8 151.6,97.5 149.6,96.5 149.6,96.5 146,95.6 142.6,96.1 141,96.7 139.6,97.8 138.8,101.2 138,105.6 138,101.5 137.2,106.1 136.6,111.2 136.6,111.3 135.3,116.3 135.3,116.3 134,120.2 133.9,120.3 133.9,120.3 133.9,120.4 133.8,120.5 133.8,120.5 133.7,120.6 133.7,120.6 133.6,120.6 131.1,121.8 131,121.9 127.1,123.2 127.1,123.2 127,123.2 126.9,123.2 126.8,123.2 126.8,123.2 123.7,122.6 123.6,122.6 123.5,122.5 123.5,122.5 123.4,122.5 123.3,122.4 123.3,122.4 123.3,122.3 123.2,122.3 123.2,122.2 121.9,119.6 121.9,119.6 120.9,117.3 120.4,117.9 120.3,117.9 120.3,118 120.2,118 120.2,118 120.1,118.1 116.4,119.3 116.2,119.5 116.2,119.5 116.2,119.5 116.3,119.6 116.3,119.7 116.3,119.7 116.3,119.8 116.3,119.9 116.3,119.9 116.3,120 116.2,120.1 116.2,120.1 116.2,120.2 116.1,120.2 116.1,120.3 116,120.3 111.4,124.1 111.4,124.2 106.8,127.2 101.5,130.8 97.7,133.4 97.6,133.4 97.6,133.4 93,135.6 88.4,137.9 84.6,139.8 84.6,139.8 82,141 81.9,141.1 81.9,141.1 81.8,141.1 81.7,141.1 81.7,141.1 81.6,141.1 81.5,141.1 81.5,141.1 81.4,141 81.3,141 81.3,141 81.2,140.9 81.2,140.9 81.1,140.8 81.1,140.8 78.5,136.4 75.9,136.1 71.4,136.5 68.4,137.2 67.4,140.4 68.2,144.9 68.2,145 68.2,145 68.2,145.1 68.2,145.2 68.2,145.2 67.5,147.1 69.4,149 72.1,149.6 82,149.6 82.1,149.6 82.1,149.6 82.2,149.6 82.3,149.7 82.3,149.7 82.4,149.7 82.5,149.8 82.5,149.8 82.5,149.9 82.6,149.9 82.6,150 82.7,150 83.9,153.1 83.9,153.2 85,157 85,157 86,160.8 86,160.8 87,164.7 87,164.8 87,164.9 87,164.9 87,165 87,165.1 87,165.1 85.7,168.9 85.6,169 84.1,172 84.1,172.1 84.1,172.1 84,172.2 84,172.2 83.9,172.3 83.9,172.3 80.8,174.2 80.7,174.2 80.6,174.3 80.6,174.3 80.5,174.3 80.5,174.3 80.4,174.3 80.3,174.3 77.7,174 77.7,177.8 74.4,184.2 73.9,187.5 79,186.2 85.4,186.8 89.7,189.8 93,194.4 96.3,199.5 97.2,201.4ZM74.5,169.8 74.5,169.7 73,166.8 71.8,165 69.3,166.2 69.3,166.2 66.4,167.6 65.1,170.3 65.9,175.5 65.9,175.6 65.9,175.6 65.9,175.7 65.1,182.5 65.1,182.6 63.6,188.6 63.4,189.8 65,186.8 66.8,180.4 68.8,174.8 73.9,172.7 75.7,171.8Z" fill="#33aaff"/>
<path d="M164.5,112.3 161.3,116.1 158.8,121.2 156.2,126.3 153.7,130.2 149.9,135 145.2,142.7 136.6,150 133.5,153.8 129.7,158.4 125.9,163 122,167.6 118.5,172.9 115.5,178.3 112.9,183.6 110.6,189 109,194.3 108.3,199.7 107.8,205 107.5,210.4 107.2,215.7 107.4,218.9 107.7,219.6 107.7,219.7 109,224.8 109,224.9 109,225 109,225 109,225.1 108.2,230.1 109.7,236.2 109.7,236.3 110.3,241.4 111.5,247.8 111.5,247.8 111.5,247.9 111.5,248 110.8,254.4 110.7,255.5 113.5,263 116.1,270 118.3,276.1 120.6,282.2 122.9,288.3 125.7,294.5 129,300.6 131.3,306.7 132.4,312.8 132.9,318.9 133.3,325 134.4,331.1 136.7,337.3 139.4,343.4 142,349.5 144.6,355.6 147.4,361.7 149.7,366 156,368 159.4,373.4 162.7,378.7 166.2,384.1 166.6,384.7 169.6,387.6 174,390.8 178.5,394 182.9,398.5 186.8,402.9 190.6,407.4 194.1,411.8 197.6,416.9 200.8,422 203.9,427.1 207.1,432.2 210.3,436.1 213.5,439.9 216.7,443.1 219.9,445.6 223.1,448.8 225.6,451.3 227,452.7 227.9,451.3 228,451.3 228,451.2 228.1,451.2 228.1,451.1 228.2,451.1 228.2,451.1 234.1,448.6 234.2,448.5 234.2,448.5 241.8,446.7 241.9,446.7 242,446.7 242,446.7 249.7,447.2 257,445.9 261.9,442.3 264.9,436.9 267.3,429.4 269.1,421.7 269.1,421.7 271.1,414.1 271.1,414.1 273.7,406.4 275.7,399.3 275.7,399.2 275.8,399.2 275.8,399.1 275.9,399.1 275.9,399 276,399 276,398.9 276.1,398.9 276.1,398.9 276.2,398.8 276.3,398.8 276.3,398.8 276.4,398.8 279.5,398.8 279.6,398.8 279.6,398.8 279.7,398.8 279.8,398.9 285.6,401.3 291.7,403.4 297.9,402.1 300.5,400.7 298.3,396.7 298.3,396.7 296.2,391.6 296.1,391.5 296.1,391.4 296.1,391.4 295.6,385.1 295.6,385 295.6,384.9 296.1,379 296.1,379 296.1,378.9 296.2,378.8 296.2,378.8 296.2,378.7 296.3,378.7 296.3,378.6 296.4,378.6 296.4,378.5 300.2,376 303.9,373.5 305.8,369.6 304.4,364.9 301.4,361.3 297.7,357.4 293.9,355 293.9,354.9 293.8,354.9 293.8,354.8 293.7,354.8 293.7,354.7 291.1,349.6 291,349.6 291,349.5 291,349.4 291,349.4 290.5,343 290.5,342.9 290.5,342.8 291,336.5 291,336.5 292.3,330.1 293.1,322.7 291.6,320.4 291.6,320.3 291.6,320.3 291.5,320.2 291.5,320.1 290.5,315.5 290.5,315.5 290.5,315.4 290.5,315.4 290.5,315.3 290.5,315.2 290.5,315.2 290.6,315.1 290.6,315 292.4,312 292.4,312 292.5,311.9 292.5,311.9 292.6,311.8 292.7,311.8 292.7,311.8 292.8,311.7 297.8,310.2 301.2,307.5 300.8,304.3 296.5,302 296.4,302 292.6,299.5 292.6,299.4 292.5,299.4 292.5,299.3 292.4,299.3 292.4,299.2 292.4,299.2 292.3,299.1 292.3,299 291,292.6 291,292.6 289.7,284.9 289.7,284.9 288.5,277.3 288.5,277.2 288.5,277.1 289,270.5 289,270.5 289,270.4 289,270.4 289.1,270.3 289.1,270.2 289.1,270.2 289.2,270.1 289.2,270.1 289.3,270 289.3,270 289.4,270 289.5,269.9 289.5,269.9 289.6,269.9 292.8,269.4 296.2,267.8 297.4,259.3 297.4,259.2 297.4,259.2 297.5,259.1 297.5,259 297.5,259 297.6,258.9 297.6,258.9 297.7,258.8 297.7,258.8 297.8,258.8 297.8,258.7 297.9,258.7 298,258.7 298,258.7 298.1,258.7 298.2,258.7 298.2,258.7 301.3,259.4 303.9,257.7 305,253.3 305,253.3 305.1,253.2 305.1,253.1 305.1,253.1 305.2,253 305.2,253 307.8,250.5 307.9,250.5 311.6,247.4 314.5,242.7 313.4,236.6 310.5,229.1 306.9,224.1 306.9,224.1 306.9,224 304,217.8 300.2,215.4 300.2,215.3 300.1,215.3 300.1,215.3 300,215.2 300,215.1 300,215.1 299.9,215 299.9,215 299.9,214.9 299.9,214.8 299.9,214.7 299.9,214.7 299.9,214.6 299.9,214.5 300,214.5 301.3,211.9 301.3,211.8 301.4,211.8 301.4,211.7 301.5,211.7 301.5,211.6 301.6,211.6 305.1,209.7 306.2,206.1 302.7,202.5 302.6,202.4 302.6,202.4 302.6,202.3 302.5,202.2 302.5,202.2 300.7,194.6 300.7,194.5 300.7,194.4 300.7,194.4 300.7,194.3 300.7,194.2 301.7,190.1 300.2,183.1 298.2,175.5 296.5,170.3 296.5,170.3 296.4,170.2 295.6,167.8 295.6,167.8 295.6,167.7 295.6,167.6 295.6,167.6 295.6,167.5 295.6,167.4 295.6,167.4 295.7,167.3 295.7,167.2 295.7,167.2 295.8,167.1 295.8,167.1 295.7,166.5 295.7,166.5 295.7,166.4 295.5,161.4 294.5,156.3 293.4,151.2 293.4,151.2 293.4,151.1 293.2,147.3 293.2,147.3 293.2,147.2 293.2,147.1 293.2,147.1 293.3,147 293.3,146.9 293.3,146.9 293.4,146.8 293.4,146.8 293.5,146.7 293.5,146.7 293.6,146.7 293.6,146.6 293.7,146.6 293.8,146.6 293.8,146.6 293.9,146.6 294,146.6 294,146.6 294.1,146.6 294.2,146.7 294.2,146.7 294.3,146.7 295.8,147.8 296.9,147 295.8,143.8 293.3,140.7 293.3,140.7 293.3,140.6 293.2,140.5 293.2,140.5 293.2,140.4 293.1,140 292.4,140 291.8,136.1 291.8,136 291.8,135.8 291.8,135.7 292.5,132 291.9,128.6 290.5,126 289.3,126.2 288.7,128.4 288.3,134 288.3,134.1 288.2,134.3 288.2,134.4 288.1,134.5 288.1,134.7 288,134.8 287.9,134.9 287.8,135 284.6,137.6 284.5,137.7 284.4,137.7 284.2,137.8 284.1,137.8 284,137.9 283.8,137.9 283.7,137.9 283.6,137.9 283.4,137.9 280.2,137.3 280.1,137.2 280,137.2 279.8,137.1 279.7,137.1 279.6,137 276.4,134.4 276.4,134.4 272.6,131.2 272.5,131.1 269.3,127.9 266.1,124.8 266.1,124.8 263.2,121.9 260.5,121.3 260.4,121.2 260.2,121.2 260.1,121.1 260,121.1 259.9,121 259.8,120.9 256.6,117.8 256.5,117.7 256.5,117.6 256.4,117.5 256.3,117.4 254.4,113.5 254.4,113.4 254.4,113.3 253.1,108.9 252.5,107 251.2,103.1 249.9,99.4 249.4,98.3 247.8,97.9 247.7,97.9 246.8,100.1 246.7,100.3 246.7,100.4 246.6,100.5 246.5,100.6 246.4,100.7 246.3,100.8 246.2,100.8 246,100.9 245.9,100.9 245.8,101 245.7,101 245.5,101 245.4,101 245.2,101 241.4,100.3 241.3,100.2 237.5,99 237.4,99 237.3,98.9 237.2,98.9 237.1,98.8 235.5,97.6 235.2,97.9 234,99.7 233.9,99.8 233.8,99.9 233.7,100 233.6,100.1 233.5,100.1 233.4,100.2 233.2,100.2 233.1,100.3 229.9,101 229.8,101 229.6,101 229.5,101 229.4,101 229.2,100.9 226.7,100.2 226.6,100.2 226.5,100.1 226.3,100.1 226.2,100 226.1,99.9 224.2,98 224.1,97.9 222.1,95.4 222.1,95.3 220.2,92.7 218.4,90.4 215.3,87.9 212.9,86 210.3,84.2 207.9,82.7 207.8,82.6 207.7,82.5 205.2,80.2 205,80.1 203.9,78.8 203.4,80.8 202.4,85.9 202.3,86 202.3,86.1 200.3,91.2 200.2,91.3 200.2,91.5 197.7,95.3 197.6,95.4 197.5,95.5 194.3,98.7 194.2,98.8 194.1,98.9 190.3,101.4 190.2,101.4 190,101.5 189.9,101.5 189.8,101.6 186.6,102.3 186.5,102.3 186.3,102.3 186.2,102.3 186.1,102.3 186,102.3 183.1,101.6 182.9,101.5 182.8,101.5 182.7,101.4 182.6,101.3 182.5,101.3 182.4,101.2 182.3,101.1 182.2,101 182.2,100.8 182.1,100.7 182.1,100.6 182,100.5 182,100.3 182,100.2 182,100.1 182.2,97.8 181.9,98.7 181.9,98.8 181.9,98.9 180,102.7 179.9,102.9 179.8,103 179.7,103.1 179.6,103.2 179.5,103.3 179.4,103.3 179.2,103.4 176,104.7 175.9,104.7 175.8,104.8 175.6,104.8 175.5,104.8 175.4,104.8 175.2,104.8 174.7,104.7 174.7,104.7 171.5,106 167.7,109.1ZM173.9,396 169.8,389.4 166.6,384.7 165.7,383.8 162.5,380Z" fill="#00ffff"/>
<path d="M189.1,101.9 185.5,104.5 182,107.5 178.9,110.6 176.4,114.6 173.8,119.2 169.7,122.8 164.6,126.4 159.6,131 153.4,137.1 147.8,144 143,146 138.9,150 135.8,153.8 132,158.4 128.2,163 124.3,167.6 121,172.9 118.2,178.3 115.9,183.6 113.9,189 112.9,194.3 112.4,199.7 112.9,205 114.4,210.4 115.5,215.7 116.7,221.8 117.5,228 117.9,234.1 117.9,240.2 117.9,246 118.5,252 122,260 128,266 132.9,270 134.9,276.1 137.5,282.2 140.1,288.3 142,292.9 145.1,300.6 148.9,308.2 151.7,314.3 153.5,320.4 155.8,326.6 158.1,332.7 159.9,338.8 161.1,344.9 161.9,351 163.4,357.1 165.4,363.2 166,366 172.1,380 174.6,385.1 177.8,388.9 182.3,392.1 186.8,395.3 190.6,399.1 193.8,402.9 196.9,407.4 199.5,411.8 202,416.9 204.6,422 207.4,427.1 210.3,432.2 213.5,436.7 216.7,440.5 219.9,443.7 223.1,446.5 226.2,449.4 228.8,450.7 228.9,450.8 234.1,448.6 234.2,448.5 234.2,448.5 241.8,446.7 241.9,446.7 242,446.7 242,446.7 249.7,447.2 257,445.9 261.9,442.3 264.9,436.9 267.3,429.4 269.1,421.7 269.1,421.7 271.1,414.1 271.1,414.1 273.7,406.4 275.7,399.3 275.7,399.2 275.8,399.2 275.8,399.1 275.9,399.1 275.9,399 276,399 276,398.9 276.1,398.9 276.1,398.9 276.2,398.8 276.3,398.8 276.3,398.8 276.4,398.8 279.5,398.8 279.6,398.8 279.6,398.8 279.7,398.8 279.8,398.9 285.6,401.3 291.7,403.4 297.9,402.1 300.5,400.7 298.3,396.7 298.3,396.7 296.2,391.6 296.1,391.5 296.1,391.4 296.1,391.4 295.6,385.1 295.6,385 295.6,384.9 296.1,379 296.1,379 296.1,378.9 296.2,378.8 296.2,378.8 296.2,378.7 296.3,378.7 296.3,378.6 296.4,378.6 296.4,378.5 300.2,376 303.9,373.5 305.8,369.6 304.4,364.9 301.4,361.3 297.7,357.4 293.9,355 293.9,354.9 293.8,354.9 293.8,354.8 293.7,354.8 293.7,354.7 291.1,349.6 291,349.6 291,349.5 291,349.4 291,349.4 290.5,343 290.5,342.9 290.5,342.8 291,336.5 291,336.5 292.3,330.1 293.1,322.7 291.6,320.4 291.6,320.3 291.6,320.3 291.5,320.2 291.5,320.1 290.5,315.5 290.5,315.5 290.5,315.4 290.5,315.4 290.5,315.3 290.5,315.2 290.5,315.2 290.6,315.1 290.6,315 292.4,312 292.4,312 292.5,311.9 292.5,311.9 292.6,311.8 292.7,311.8 292.7,311.8 292.8,311.7 297.8,310.2 301.2,307.5 300.8,304.3 296.5,302 296.4,302 292.6,299.5 292.6,299.4 292.5,299.4 292.5,299.3 292.4,299.3 292.4,299.2 292.4,299.2 292.3,299.1 292.3,299 291,292.6 291,292.6 289.7,284.9 289.7,284.9 288.5,277.3 288.5,277.2 288.5,277.1 289,270.5 289,270.5 289,270.4 289,270.4 289.1,270.3 289.1,270.2 289.1,270.2 289.2,270.1 289.2,270.1 289.3,270 289.3,270 289.4,270 289.5,269.9 289.5,269.9 289.6,269.9 292.8,269.4 296.2,267.8 297.4,259.3 297.4,259.2 297.4,259.2 297.5,259.1 297.5,259 297.5,259 297.6,258.9 297.6,258.9 297.7,258.8 297.7,258.8 297.8,258.8 297.8,258.7 297.9,258.7 298,258.7 298,258.7 298.1,258.7 298.2,258.7 298.2,258.7 301.3,259.4 303.9,257.7 305,253.3 305,253.3 305.1,253.2 305.1,253.1 305.1,253.1 305.2,253 305.2,253 307.8,250.5 307.9,250.5 311.6,247.4 314.5,242.7 313.4,236.6 310.5,229.1 306.9,224.1 306.9,224.1 306.9,224 304,217.8 300.2,215.4 300.2,215.3 300.1,215.3 300.1,215.3 300,215.2 300,215.1 300,215.1 299.9,215 299.9,215 299.9,214.9 299.9,214.8 299.9,214.7 299.9,214.7 299.9,214.6 299.9,214.5 300,214.5 301.3,211.9 301.3,211.8 301.4,211.8 301.4,211.7 301.5,211.7 301.5,211.6 301.6,211.6 305.1,209.7 306.2,206.1 302.7,202.5 302.6,202.4 302.6,202.4 302.6,202.3 302.5,202.2 302.5,202.2 300.8,195 286.6,194.4 287.9,190.1 292.2,187.5 290.4,180.4 289.2,170.2 286.9,170 286.2,166.4 285,161.3 283.1,157.5 281.1,153.7 278.6,149.9 275.4,146.1 272.2,142.2 269,138.4 266.5,134.6 263.3,132 259.5,130.8 255.7,130.8 254.4,126.9 253.4,121.8 252.5,116.8 251.2,111.7 249.3,106.6 247.4,101.5 247.2,99.3 246.8,100.1 246.7,100.3 246.7,100.4 246.6,100.5 246.5,100.6 246.4,100.7 246.3,100.8 246.2,100.8 246,100.9 245.9,100.9 245.8,101 245.7,101 245.5,101 245.4,101 245.2,101 241.4,100.3 241.3,100.2 237.5,99 237.4,99 237.3,98.9 237.2,98.9 237.1,98.8 235.5,97.6 235.2,97.9 234,99.7 233.9,99.8 233.8,99.9 233.7,100 233.6,100.1 233.5,100.1 233.4,100.2 233.2,100.2 233.1,100.3 229.9,101 229.8,101 229.6,101 229.5,101 229.4,101 229.2,100.9 226.7,100.2 226.6,100.2 226.5,100.1 226.3,100.1 226.2,100 226.1,99.9 224.6,98.3 222.6,97 218.8,94.9 215,93 209.9,93.6 210,90.7 205.4,92 201.3,94.3 197.3,96.8 195,98 194.3,98.7 194.2,98.8 194.1,98.9 190.3,101.4 190.2,101.4 190,101.5 189.9,101.5 189.8,101.6 189.4,101.6Z" fill="#96ffb4"/>
<path d="M288.2,186.8 286.9,179.2 285.1,171.5 283.1,163.9 280.5,157.5 276.7,158.8 274.9,163.9 272.9,165.9 267.8,160.1 261.4,153.7 256.3,146.1 252.5,132.8 251.2,128.2 248.7,120.6 246.1,112.9 243.6,105.3 239.7,101.5 234.6,100.2 233.4,105.3 232.6,115.5 232.1,125.7 231.6,133.3 227,134.6 220.6,135.9 215.5,138.4 213,141 210.4,139.7 205.4,135.9 199,132 192.6,130.3 186.2,132 181.1,137.1 177.3,143.5 174.8,151.1 175.3,160 173.2,165.1 169.4,175.3 165.6,185.5 163.1,195.7 161,205.9 159.2,216.1 157.5,226.2 155.9,236.4 154.9,246.6 155.9,261.9 158.9,270 160.4,276.1 162.7,283.8 165,291.4 167,298.3 168,303.6 167.6,309.7 167.3,315.9 167,322 166.6,328.1 166.3,334.2 166,340.3 165.7,346.4 165.4,352.5 165.7,358.7 166.6,366 176.6,380 180.4,384.5 184.8,388.3 189.3,391.5 193.8,394.6 198.2,398.5 202.7,402.9 206.5,407.4 209.7,412.5 212.2,417.6 214.5,422.7 217.1,427.8 219.9,432.9 222.7,437.3 225.2,441.1 227.5,445 229.8,448.2 231.1,449.8 234.1,448.6 234.2,448.5 234.2,448.5 241.8,446.7 241.9,446.7 242,446.7 242,446.7 249.7,447.2 257,445.9 261.9,442.3 264.9,436.9 267.3,429.4 269.1,421.7 269.1,421.7 271.1,414.1 271.1,414.1 273.7,406.4 275.7,399.3 275.7,399.2 275.8,399.2 275.8,399.1 275.9,399.1 275.9,399 276,399 276,398.9 276.1,398.9 276.1,398.9 276.2,398.8 276.3,398.8 276.3,398.8 276.4,398.8 279.5,398.8 279.6,398.8 279.6,398.8 279.7,398.8 279.8,398.9 285.6,401.3 291.7,403.4 297.9,402.1 300.5,400.7 298.3,396.7 298.3,396.7 296.2,391.6 296.1,391.5 296.1,391.4 296.1,391.4 295.6,385.1 295.6,385 295.6,384.9 296.1,379 296.1,379 296.1,378.9 296.2,378.8 296.2,378.8 296.2,378.7 296.3,378.7 296.3,378.6 296.4,378.6 296.4,378.5 300.2,376 303.9,373.5 305.8,369.6 304.4,364.9 301.4,361.3 297.7,357.4 293.9,355 293.9,354.9 293.8,354.9 293.8,354.8 293.7,354.8 293.7,354.7 291.1,349.6 291,349.6 291,349.5 291,349.4 291,349.4 290.5,343 290.5,342.9 290.5,342.8 291,336.5 291,336.5 292.3,330.1 293.1,322.7 291.6,320.4 291.6,320.3 291.6,320.3 291.5,320.2 291.5,320.1 290.5,315.5 290.5,315.5 290.5,315.4 290.5,315.4 290.5,315.3 290.5,315.2 290.5,315.2 290.6,315.1 290.6,315 292.4,312 292.4,312 292.5,311.9 292.5,311.9 292.6,311.8 292.7,311.8 292.7,311.8 292.8,311.7 297.8,310.2 301.2,307.5 300.8,304.3 296.5,302 296.4,302 292.6,299.5 292.6,299.4 292.5,299.4 292.5,299.3 292.4,299.3 292.4,299.2 292.4,299.2 292.3,299.1 292.3,299 291,292.6 291,292.6 289.7,284.9 289.7,284.9 288.5,277.3 288.5,277.2 288.5,277.1 289,270.5 289,270.5 289,270.4 289,270.4 289.1,270.3 289.1,270.2 289.1,270.2 289.2,270.1 289.2,270.1 289.3,270 289.3,270 289.4,270 289.5,269.9 289.5,269.9 289.6,269.9 292.8,269.4 296.2,267.8 297.4,259.3 297.4,259.2 297.4,259.2 297.5,259.1 297.5,259 297.5,259 297.6,258.9 297.6,258.9 297.7,258.8 297.7,258.8 297.8,258.8 297.8,258.7 297.9,258.7 298,258.7 298,258.7 298.1,258.7 298.2,258.7 298.2,258.7 300.8,259.3 299.9,258.1 301.9,254.3 304.9,253.7 305,253.3 305,253.3 305.1,253.2 305.1,253.1 305.1,253.1 305.2,253 305.2,253 307.8,250.5 307.9,250.5 311.6,247.4 314.5,242.7 313.4,236.6 310.5,229.1 306.9,224.1 306.9,224.1 306.9,224 304,217.8 300.2,215.4 300.2,215.3 300.1,215.3 300.1,215.3 300,215.2 300,215.1 300,215.1 299.9,215 299.9,215 299.9,214.9 299.9,214.8 299.9,214.8 296.3,217.3 293,215.5 289.2,212.2 286.6,205.9 286.1,198.2 287.2,194.4 286.6,194.4 287.9,190.1Z" fill="#d5ff6a"/>
<path d="M295.8,212.3 289.4,213.6 286.9,209.7 286.1,202.1 286.9,197 285.6,190.6 283.1,184.3 279.2,177.9 275.9,171.5 272.9,166.4 267.8,160.1 261.4,153.7 256.3,146.1 252.5,138.4 249.9,133.8 246.1,135.4 242.3,138.4 239.7,143.5 235.9,148.6 229.6,151.1 221.9,152.4 214.3,153.2 206.6,153.7 199,155 191.3,153.7 185,155.7 179.9,160.1 181.4,160 177.1,170.2 173.2,180.4 169.2,190.6 166.1,200.8 163.6,211 161.5,221.1 160,231.3 159,241.5 158.5,251.7 159.2,261.9 161.1,270 162.7,277.6 165,285.3 167.3,292.9 169.1,299.8 171.1,302.9 175.7,308.2 180.3,313.6 184.8,318.2 190.2,323.5 195.5,328.9 200.9,332.7 200,334 207.6,341.7 215.3,351.8 222.9,362 229.3,371 231.8,378.6 230.6,386.2 229.3,396.4 228,406.6 226.8,416.8 226.8,427 227.5,435.9 230.1,443.6 234.4,447.9 234.7,448.4 241.8,446.7 241.9,446.7 242,446.7 242,446.7 249.7,447.2 257,445.9 261.9,442.3 264.9,436.9 267.3,429.4 269.1,421.7 269.1,421.7 271.1,414.1 271.1,414.1 273.7,406.4 275.7,399.3 275.7,399.2 275.8,399.2 275.8,399.1 275.9,399.1 275.9,399 276,399 276,398.9 276.1,398.9 276.1,398.9 276.2,398.8 276.3,398.8 276.3,398.8 276.4,398.8 279.5,398.8 279.6,398.8 279.6,398.8 279.7,398.8 279.8,398.9 285.6,401.3 291.7,403.4 297.9,402.1 300.5,400.7 298.3,396.7 298.3,396.7 296.2,391.6 296.1,391.5 296.1,391.4 296.1,391.4 295.6,385.1 295.6,385 295.6,384.9 296.1,379 296.1,379 296.1,378.9 296.2,378.8 296.2,378.8 296.2,378.7 296.3,378.7 296.3,378.6 296.4,378.6 296.4,378.5 300.2,376 303.9,373.5 305.8,369.6 304.4,364.9 301.4,361.3 297.7,357.4 293.9,355 293.9,354.9 293.8,354.9 293.8,354.8 293.7,354.8 293.7,354.7 291.1,349.6 291,349.6 291,349.5 291,349.4 291,349.4 290.5,343 290.5,342.9 290.5,342.8 291,336.5 291,336.5 292.3,330.1 293.1,322.7 291.6,320.4 291.6,320.3 291.6,320.3 291.5,320.2 291.5,320.1 290.5,315.5 290.5,315.5 290.5,315.4 290.5,315.4 290.5,315.3 290.5,315.2 290.5,315.2 290.6,315.1 290.6,315 292.4,312 292.4,312 292.5,311.9 292.5,311.9 292.6,311.8 292.7,311.8 292.7,311.8 292.8,311.7 297.8,310.2 301.2,307.5 300.8,304.3 296.5,302 296.4,302 292.6,299.5 292.6,299.4 292.5,299.4 292.5,299.3 292.4,299.3 292.4,299.2 292.4,299.2 292.3,299.1 292.3,299 291,292.6 291,292.6 289.7,284.9 289.7,284.9 288.5,277.3 288.5,277.2 288.5,277.1 289,270.5 289,270.5 289,270.4 289,270.4 289.1,270.3 289.1,270.2 289.1,270.2 289.2,270.1 289.2,270.1 289.3,270 289.3,270 289.4,270 289.5,269.9 289.5,269.9 289.6,269.9 292.8,269.4 296.2,267.8 297.4,259.3 297.4,259.2 297.4,259.2 297.5,259.1 297.5,259 297.5,259 297.6,258.9 297.6,258.9 297.7,258.8 297.7,258.8 297.8,258.8 297.8,258.7 297.9,258.7 298,258.7 298,258.7 298.1,258.7 298.2,258.7 298.2,258.7 298.1,258.6 301.1,256.8 303.7,253 306.2,246.6 307.5,239 308.8,231.3 307.8,225.3 306.9,224.1 306.9,224.1 306.9,224 304,217.8 300.2,215.4 300.2,215.3 300.1,215.3 300.1,215.3 300,215.2 300,215.1 300,215.1 299.9,215 299.9,215 299.9,214.9 299.9,214.8 299.9,214.7 299.9,214.7 299.9,214.6 299.9,214.5 300,214.5 300.2,214.1Z" fill="#ffff00"/>
<path d="M298.9,256.8 299.9,249.2 300.4,250 300.4,242.9 299.9,235.2 298.9,226.3 297.1,219.9 293.2,216.1 289.4,213.6 286.9,209.7 285.6,202.1 283.6,194.5 280.5,188.1 276.7,183 274.1,177.9 271.6,175.4 266.5,179.2 260.1,181.2 255,184.8 247.4,186.3 237.2,185.5 227,184.3 218.1,182.2 211.7,179.2 207.9,174.1 204.1,167.7 200.3,163.9 197.7,160.1 194.9,160 191.1,167.6 188.5,175.3 187.3,185.5 185.5,195.7 182.9,205.9 179.6,216.1 176.3,226.2 173.8,236.4 172.7,246.6 171.2,256.8 170.3,270 170,277.6 169.6,285.3 169.6,292.9 170.6,299.8 173.4,303.6 178,307.5 181.8,312 185.6,315.9 190.2,320.4 194.8,325 199.4,328.9 200,328.9 207.6,335.3 215.3,345.5 222.9,355.7 230.6,365.9 236.9,374.8 241.3,382.4 245.9,390.1 249.7,396.4 250.4,401 244.6,402.8 238.2,406.1 234.4,411.2 232.6,419.4 231.3,429.6 231.8,435.9 235.7,440.3 242,443.6 248.4,444.8 254.8,445.4 258.6,441.8 261.7,435.9 265,429.6 266.8,421.9 268.3,414.3 269.3,406.6 270.8,400.3 273.9,396.4 279,396.4 300,399.9 298.3,396.7 298.3,396.7 296.2,391.6 296.1,391.5 296.1,391.4 296.1,391.4 295.6,385.1 295.6,385 295.6,384.9 296.1,379 296.1,379 296.1,378.9 296.2,378.8 296.2,378.8 296.2,378.7 296.3,378.7 296.3,378.6 296.4,378.6 296.4,378.5 300.2,376 303.9,373.5 305.8,369.6 304.4,364.9 301.4,361.3 297.7,357.4 293.9,355 293.9,354.9 293.8,354.9 293.8,354.8 293.7,354.8 293.7,354.7 291.1,349.6 291,349.6 291,349.5 291,349.4 291,349.4 290.5,343 290.5,342.9 290.5,342.8 291,336.5 291,336.5 292.3,330.1 293.1,322.7 291.6,320.4 291.6,320.3 291.6,320.3 291.5,320.2 291.5,320.1 290.5,315.5 290.5,315.5 290.5,315.4 290.5,315.4 290.5,315.3 290.5,315.2 290.5,315.2 290.6,315.1 290.6,315 292.4,312 292.4,312 292.5,311.9 292.5,311.9 292.6,311.8 292.7,311.8 292.7,311.8 292.8,311.7 297.8,310.2 301.2,307.5 300.8,304.3 296.5,302 296.4,302 292.6,299.5 292.6,299.4 292.5,299.4 292.5,299.3 292.4,299.3 292.4,299.2 292.4,299.2 292.3,299.1 292.3,299 291,292.6 291,292.6 289.7,284.9 289.7,284.9 288.5,277.3 288.5,277.2 288.5,277.1 289,270.5 289,270.5 289,270.4 289,270.4 289.1,270.3 289.1,270.2 289.1,270.2 289.2,270.1 289.2,270.1 289.3,270 289.3,270 289.4,270 289.5,269.9 289.5,269.9 289.6,269.9 292.8,269.4 296.2,267.8 297.4,259.3 297.4,259.2 297.4,259.2 297.5,259.1 297.5,259 297.5,259 297.6,258.9 297.6,258.9 297.7,258.8 297.7,258.8 297.8,258.8 297.8,258.7 297.9,258.7 298,258.7 298,258.7 298.1,258.7 298.2,258.7 298.2,258.7 298.4,258.8Z" fill="#ffb200"/>
<path d="M244.6,379.1 251,383.7 257.3,387.5 263.7,391.3 268.8,393.9 273.9,395.2 279,394.4 285.4,393.9 290.4,392.6 293.8,390.1 294.8,383.7 295.5,377.3 299.4,374.8 301.9,371 300.6,365.9 299.4,360.8 296.8,356.9 293,355.7 292.5,352.4 291.1,349.6 291,349.6 291,349.5 291,349.4 291,349.4 290.5,343 290.5,342.9 290.5,342.8 290.8,339.1 290.4,335.3 287.9,331.5 281.5,332.2 273.9,331.5 266.2,330.2 261.1,330.7 257.3,334 252.2,337.8 247.1,342.9 242,349.3 238.2,358.2 236.9,367.1 239.5,373.5ZM235.7,439.7 242,442.8 248.4,444.3 254.8,444.8 258.1,441 260.6,433.4 261.9,424.5 262.4,414.3 261.1,406.6 257.3,402.8 251,402 244.6,402.8 238.2,406.6 234.4,413 232.6,421.9 231.8,432.1 232.6,435.9Z" fill="#ff6e00"/>
<path d="M182,527.7 184.3,523.9 186.6,520.8 188.9,517 191.1,512.4 193,507.8 193.9,501.7 193.9,495.6 192.7,489.5 190.4,484.9 187.3,480.3 184.3,475.7 182,471.1 178.9,468.1 172.8,466.5 160.6,466.2 148.3,466.8 137.6,467.8 130,468.8 123.6,468.4 119,471.5 115.9,476.1 113.9,481.1 113.9,481.2 114.1,482.5 114.1,482.6 114.1,482.6 114.1,482.7 112.8,490.4 112.8,490.5 112.8,490.5 110.3,498.1 110.3,498.1 107.7,505.8 105.7,513.3 105.2,520.9 106.4,528.3 108.9,534.6 109,534.7 109,534.8 110.3,541 112.7,547.2 116.4,550.9 116.4,551 116.5,551 116.5,551.1 116.6,551.1 116.6,551.2 118.4,557.6 120.4,564 120.4,564 121.6,568.9 125.1,572.4 129.9,573.2 136.1,571.6 142.5,569.8 147.6,568.1 147.7,568.1 147.7,568.1 147.8,568.1 147.9,568.1 147.9,568.1 152.5,569.1 152.6,569.1 152.7,569.2 152.7,569.2 152.8,569.2 152.9,569.3 152.9,569.3 153,569.4 153,569.4 153,569.5 153.1,569.6 154.8,574.2 154.8,574.2 154.8,574.3 156.1,580.5 158.6,586.8 161,591.6 164.2,592.7 167.7,590.4 170.5,585.5 172,579.3 172,579.3 173.8,574.2 173.9,574.1 173.9,574 173.9,574 174,573.9 177.8,570 177.8,570 178.4,569.4 180.2,548.3 177.7,544.2 177.7,544.1 177.6,544 177.6,544 177.6,543.9 177.6,543.9 177.6,543.8 177.6,543.7 177.6,543.7 177.6,543.6 177.7,543.5 179.8,538.4 179.8,538.4 179.8,538.3 179.8,538.3 181.2,536.4Z" fill="#33aaff"/>
<path d="M181.2,527.7 183.5,523.1 185.8,519.3 187.8,514.7 189.3,509.3 190.1,503.2 190.4,497.1 189.9,491 188.1,485.6 185,481.1 181.2,477.2 175.9,474.9 166.7,473.4 154.5,472.6 142.2,472.9 130,473.4 124.3,472.8 120.1,475 117,478.3 114.9,482.6 113.4,487 112.8,490.4 112.8,490.5 112.8,490.5 110.3,498.1 110.3,498.1 107.7,505.8 105.7,513.3 105.2,520.9 106.4,528.3 108.9,534.6 109,534.7 109,534.8 110.3,541 112.7,547.2 116.4,550.9 116.4,551 116.5,551 116.5,551.1 116.6,551.1 116.6,551.2 118.4,557.6 120.4,564 120.4,564 121.6,568.9 125.1,572.4 129.9,573.2 136.1,571.6 142.5,569.8 147.6,568.1 147.7,568.1 147.7,568.1 147.8,568.1 147.9,568.1 147.9,568.1 152.5,569.1 152.6,569.1 152.7,569.2 152.7,569.2 152.8,569.2 152.9,569.3 152.9,569.3 153,569.4 153,569.4 153,569.5 153.1,569.6 154.8,574.2 154.8,574.2 154.8,574.3 156.1,580.5 158.6,586.8 161,591.6 162.8,592.2 164.3,592.7 165.7,591.8 167.6,590.4 168.2,589.4 170.5,585.5 172,579.3 172,579.3 173.8,574.2 173.9,574.1 173.9,574 173.9,574 174,573.9 174,573.9 177.8,569.8 179.6,547.3 177.7,544.2 177.7,544.1 177.6,544 177.6,544 177.6,543.9 177.6,543.9 177.6,543.8 177.6,543.7 177.6,543.7 177.6,543.6 177.7,543.5 179.8,538.4 179.8,538.4 179.8,538.3 179.8,538.3 180.4,537.5Z" fill="#00ffff"/>
<path d="M179.7,527.7 182,523.1 184.4,518.8 186.3,514.7 187.8,510.1 188.4,504.7 188.7,498.6 188.4,492.5 187.3,487.9 185,484.1 180.4,481.1 172.8,479.5 160.6,478.5 145.3,477.5 130,477.2 125.1,477.1 121,478.6 117.9,481.1 115.5,484.5 113.9,488.7 113.1,488.7 112.8,490.4 112.8,490.5 112.8,490.5 110.3,498.1 110.3,498.1 107.7,505.8 105.7,513.3 105.2,520.9 106.4,528.3 108.9,534.6 109,534.7 109,534.8 110.3,541 111.3,543.6 112.6,546.8 113.9,548.4 116.4,550.9 116.4,551 116.5,551 116.5,551.1 116.6,551.1 116.6,551.2 118.4,557.6 120.4,564 120.4,564 121.5,568.6 122.1,569.4 125.1,572.4 129.9,573.2 136.1,571.6 142.5,569.8 147.6,568.1 147.7,568.1 147.7,568.1 147.8,568.1 147.9,568.1 147.9,568.1 152.5,569.1 152.6,569.1 152.7,569.2 152.7,569.2 152.8,569.2 152.9,569.3 152.9,569.3 153,569.4 153,569.4 153,569.5 153.1,569.6 154.5,573.4 154.9,573.9 156.4,580.2 159,586.6 161.3,590.7 164.1,591.7 167.1,589.6 169.9,585.3 171.5,579.5 173.2,573.9 176.8,568.8 178.5,545.4 177.7,544.2 177.7,544.1 177.6,544 177.6,544 177.6,543.9 177.6,543.9 177.6,543.8 177.6,543.7 177.6,543.7 177.6,543.6 177.7,543.5 178.8,540.8Z" fill="#96ffb4"/>
<path d="M178.6,530.7 180.4,526.1 182.7,522.3 185,517.7 186.6,513.2 187.8,507.8 188.1,501.7 187.8,495.6 186.9,491 184.7,487.2 180.4,484.6 172.8,483 160.6,482.1 145.3,481.5 130,481.1 125.9,480.8 122.5,481.7 119,483.5 116.4,486.3 114.4,490.3 112.8,490.3 112.8,490.4 112.8,490.5 112.8,490.5 112.4,491.7 112.9,490.8 110.6,498.4 108,506.1 106,513.7 105.2,521.1 105.8,524.9 106.5,528.5 106.6,528.9 108.9,534.6 109,534.7 109,534.8 110.3,541 110.5,541.7 112.6,546.3 114.7,549.2 116.4,550.9 116.4,551 116.5,551 116.5,551.1 116.6,551.1 116.6,551.2 117.8,555.4 118,556 119.7,561.6 121.8,567.2 124.1,571.4 124.7,572 125.9,572.6 129.9,573.2 136.1,571.6 142.5,569.8 147.6,568.1 147.7,568.1 147.7,568.1 147.8,568.1 147.9,568.1 147.9,568.1 152.5,569.1 152.6,569.1 152.7,569.2 152.7,569.2 152.8,569.2 152.9,569.3 152.9,569.3 153,569.4 153,569.4 153,569.5 153.1,569.6 154.8,574.2 154.8,574.2 154.8,574.3 155.2,576.1 155.9,578.2 158,584.6 160.5,589.6 163.6,591.7 166.9,589.6 169.4,584.6 171.2,578.2 173.2,571.8 176.3,565.4 177.7,544.2 177.7,544.2 177.7,544.1 177.6,544 177.6,544 177.6,543.9 177.6,543.9 177.6,543.8 177.6,543.7 177.6,543.7 177.6,543.6 177.7,543.5 177.8,543.3Z" fill="#d5ff6a"/>
<path d="M112.4,528.8 113.3,525.7 115.2,523 118.2,521.5 122.8,521.5 126.6,520.8 123.6,519.3 118.2,518.5 114.4,519.6 111.8,522.7 111,528Z" fill="#ffff00"/>
<path d="M175.6,509.3 176.6,513.9 179.7,515.4 183.5,515.4 186.6,513.9 187.8,509.3 188.1,503.2 186.6,500.5 182.7,499.4 178.9,499.4 176.6,500.9 175.9,503.2Z" fill="#ffff00"/>
<path d="M174.5,532.3 173.8,540 174.3,547.6 174.8,556.5 174.3,564.2 172.7,570.5 171.2,576.9 169.4,582 166.9,585.1 163.1,585.8 160.5,587.6 164.3,589.6 168.4,587.1 171,581.2 173,574.9 175.5,568.5 177.3,562.1 177.8,554.5 177.1,546.8 176.3,539.2 177.3,531.6 175.3,525.4 171.2,527.2Z" fill="#ffff00"/>
<path d="M152.9,569.3 155.9,573.1 158,578.2 160,583.3 163.1,585.8 166.9,585.1 169.4,582 171.2,576.9 172.7,570.5 174.3,564.2 174.8,556.5 174.3,547.6 173.8,540 174.5,532.3 172.7,526 166.9,523.4 152.9,522.9 132.5,522.1 119.7,522.9 114.6,526 112.1,532.3 110.8,538.7 112.1,543.8 114.6,548.9 114.9,549.4 116.4,550.9 116.4,551 116.5,551 116.5,551.1 116.6,551.1 116.6,551.2 117.1,553 117.7,554 119.7,559.1 122.3,565.4 125.4,570.5 129.9,573.1 130.5,573 136.1,571.6 142.5,569.8 147.6,568.1 147.7,568.1 147.7,568.1 147.8,568.1 147.9,568.1 147.9,568.1 152.5,569.1 152.6,569.1 152.7,569.2 152.7,569.2 152.8,569.2 152.9,569.3 152.9,569.3Z" fill="#ffb200"/>
<path d="M202.2,90.7 204.8,91.6 208.6,90.9 209.9,87.1 210.1,84 207.9,82.7 207.8,82.6 207.7,82.5 206.1,81.1 204.8,81.1 203.3,81.1 202.4,85.9 202.3,86 202.3,86.1 201.2,89Z" fill="#33aaff"/>
<path d="M253.4,113.9 250.3,109.1 249.9,110.4 251.8,114.2 254.4,117.4 256.9,120.6 258.2,119.9 257.1,118.2 256.6,117.8 256.5,117.7 256.5,117.6 256.4,117.5 256.3,117.4 256.1,116.8Z" fill="#33aaff"/>
<path d="M293.2,146.1 288.8,143.5 284.4,137.7 284.4,137.7 284.2,137.8 284.1,137.8 284,137.9 283.8,137.9 283.7,137.9 283.6,137.9 283.4,137.9 282.4,137.7 282.4,137.8 286.9,144.1 291.3,147.3 293.2,147.8 293.2,147.3 293.2,147.3 293.2,147.2 293.2,147.1 293.2,147.1 293.3,147 293.3,146.9 293.3,146.9 293.4,146.8 293.4,146.8 293.4,146.8Z" fill="#33aaff"/>
<path d="M257,445.9 261.9,442.3 264.9,436.9 267.3,429.4 269.1,421.7 269.1,421.7 271.1,414.1 271.1,414.1 273.7,406.4 275.7,399.3 275.7,399.2 275.8,399.2 275.8,399.1 275.9,399.1 275.9,399 276,399 276,398.9 276.1,398.9 276.1,398.9 276.2,398.8 276.3,398.8 276.3,398.8 276.4,398.8 279.5,398.8 279.6,398.8 279.6,398.8 279.7,398.8 279.8,398.9 283,400.2 283,399.2 280.1,398 280,398 279.8,397.9 279.7,397.9 279.5,397.9 276.4,397.9 276.2,397.9 276.1,397.9 275.9,398 275.8,398 275.6,398.1 275.5,398.2 275.4,398.3 275.3,398.4 275.1,398.5 275.1,398.6 275,398.8 274.9,398.9 274.9,399.1 272.9,406.1 270.3,413.8 270.3,413.9 268.3,421.5 268.2,421.5 266.5,429.2 264,436.6 261.2,441.7 256.7,445.1 255,445.4 255,446.3Z" fill="#00ffff"/>
<path d="M292.3,330.1 293.1,322.7 291.6,320.4 291.6,320.3 291.6,320.3 291.5,320.2 291.5,320.1 290.5,315.5 290.5,315.5 290.5,315.4 290.5,315.4 290.5,315.3 290.5,315.2 290.5,315.2 290.6,315.1 290.6,315 292.4,312 292.4,312 292.5,311.9 292.5,311.9 292.6,311.8 292.7,311.8 292.7,311.8 292.8,311.7 297.8,310.2 300,308.4 300,307.3 297.3,309.4 292.5,310.9 292.4,310.9 292.2,311 292.1,311.1 291.9,311.2 291.8,311.3 291.7,311.4 291.6,311.6 289.8,314.6 289.8,314.7 289.7,314.8 289.7,315 289.6,315.1 289.6,315.3 289.6,315.4 289.6,315.6 289.6,315.7 290.6,320.3 290.7,320.5 290.7,320.6 290.8,320.7 290.9,320.9 292.2,322.9 291.4,330 290.4,335 291.3,335ZM296.5,302 296.4,302 293.4,300 291.8,300 291.9,300 292,300.1 292.1,300.2 295.9,302.7 296,302.8 299.9,304.9 300,305.6 300,303.9Z" fill="#00ffff"/>
<path d="M75.7,137.3 75.2,140.4 74.4,143.2 73.4,146.5 74.1,148 76.7,149.4 79.2,149 81.3,146.7 82,143.4 80.8,140.4 80.6,140 78.5,136.4 76.9,136.2Z" fill="#00ffff"/>
<path d="M90.1,184 91.7,181.1 93.7,177.9 93,177.1 91,180.1 88.9,183.4Z" fill="#00ffff"/>
<path d="M275.4,398 279.5,398.5 285.4,400.5 291.7,402 296.3,401 299.9,400.5 298.3,397.5 293.8,393.9 284.1,397.2 274.4,396.4Z" fill="#00ffff"/>
<path d="M180.1,101.9 183.6,101.1 183.7,100.3 183.4,100.2 183.8,95.8 183.4,91.4 183.3,91.5 182.2,93 181.6,94.9 181.2,96.2Z" fill="#2a2aff"/>
<path d="M204.8,81.1 207.6,81 206.7,79.8 206.1,79.2 204.1,76.9 202.9,77.3 202,80.5 202,80.6Z" fill="#2a2aff"/>
<path d="M183.3,91.4 182.1,93.2 180.6,98.3 178.8,102 180.7,102.4 183.1,101.1 183.5,99 183.8,95.8 183.4,91.5Z" fill="#2a2aff"/>
<path d="M138.8,97 139,99.6 141.6,98.9 146.1,99.6 149.9,99.6 153.3,98.6 153.2,97.2 152.5,96.4 150.4,95.3 149.9,95.1 146.1,94.2 142.2,94.7 140.3,95.5Z" fill="#2a2aff"/>
<path d="M287.9,192.1 291.7,193.1 298.1,196.2 300.9,194.4 294.3,188.5 287.9,189.3Z" fill="#2a2aff"/>
<path d="M298.1,203.3 298.1,207.1 300.6,209.7 305.7,209.7 307,205.9 303.2,202Z" fill="#2a2aff"/>
<path d="M246.9,96.8 246.6,97 246.3,97.8 246.8,100.2 248.7,100.8 250.6,102.7 252.5,106.6 254.3,108.2 253.8,106.6 252.5,102.7 251.2,98.9 249.9,96.1 250,97 248,96.5Z" fill="#2a2aff"/>
<path d="M286.6,134.2 289.4,138.4 291.3,142.2 293.9,146.1 295.4,148.3 295.8,148.6 297.7,147.3 296.4,143.5 293.9,140.3 293.2,135.9 293.9,132 293.2,128.2 291.3,124.4 288.2,125 287.3,128.2 286.9,133.9 286.6,134.1Z" fill="#2a2aff"/>
<path d="M276.1,132.4 278,135.2 281.1,137.4 284.6,137.8 283.8,136.4 283.7,136.5 280.5,135.9 277.3,133.3 276.8,132.9Z" fill="#2a2aff"/>
<path d="M76.7,149.8 74.6,149.6 74.7,150.3 75.9,150.3 76.8,150.3Z" fill="#2a2aff"/>
<path d="M82.8,173.4 84.8,172.7 86.5,171.2 87.3,168.4 86.5,165.9 86.1,165.6 85.3,167.9 85.5,168.7 84.6,171 82.8,172.2 82.6,172.2 80.4,173.6ZM77.9,173.4 78.2,174.4 80.3,173.6 80.4,173.6 78,173.4Z" fill="#2a2aff"/>
<clipPath id="iceA"><path d="M296.4,166.4 296.2,161.3 295.2,156.2 294.1,151.1 293.9,147.3 295.8,148.6 297.7,147.3 296.4,143.5 293.9,140.3 293.2,135.9 293.9,132 293.2,128.2 291.3,124.4 288.2,125 287.3,128.2 286.9,133.9 283.7,136.5 280.5,135.9 277.3,133.3 273.5,130.1 270.3,126.9 267.1,123.8 263.9,120.6 260.8,119.9 257.6,116.8 255.7,112.9 254.4,108.5 253.8,106.6 252.5,102.7 251.2,98.9 249.9,96.1 250,97 247.5,96.4 246.6,97 245.5,99.6 241.7,98.9 237.9,97.7 235.4,95.8 234.1,97 232.8,98.9 229.6,99.6 227.1,98.9 225.2,97 223.2,94.5 221.3,91.9 219.4,89.4 216.2,86.8 213.7,84.9 211.1,83 208.6,81.5 206.1,79.2 204.1,76.9 202.9,77.3 202,80.5 201,85.6 199,90.7 196.5,94.5 193.3,97.7 189.5,100.2 186.3,100.9 183.4,100.2 183.8,95.8 183.4,91.3 182.1,93.2 180.6,98.3 178.7,102.1 175.5,103.4 172.3,102.8 170.4,100.2 169.4,97.7 168.5,99.6 165.9,101.5 162.7,102.8 159.6,102.4 157,100.9 154.5,98.9 152.5,96.4 150,95.1 149.9,95.1 146.1,94.2 142.2,94.7 140.3,95.5 138.4,97 137.4,100.9 136.5,106 135.9,111.1 134.6,116.1 133.3,120 130.8,121.2 126.9,122.5 123.8,121.9 122.5,119.3 121.2,116.1 119.9,117.4 116.1,118.7 112.3,121.2 115.6,119.8 111,123.6 106.4,126.6 101.1,130.2 97.3,132.8 92.7,135 88.1,137.3 84.3,139.2 81.7,140.4 78.9,135.8 75.9,135.4 71.3,135.8 67.9,136.6 66.7,140.4 67.5,145 66.7,147.3 69,149.6 72,150.3 75.9,150.3 82,150.3 83.2,153.4 84.3,157.2 85.3,161 86.3,164.9 85,168.7 83.5,171.7 80.4,173.6 77.4,173.3 75.1,169.4 73.6,166.4 72,164.1 69,165.6 65.9,167.1 64.4,170.2 65.2,175.6 64.4,182.4 62.9,188.5 62.1,194.7 62.4,193.1 63.7,195.7 68.8,191.8 73.9,190.6 76.4,194.4 81.5,195.7 87.9,195.7 93,198.2 96.8,202 99.4,207.1 101.9,211 105,214.8 107,219.9 108.3,225 107.5,230.1 109,236.4 109.6,241.5 110.8,247.9 110.1,254.3 109.6,260.6 110.8,267 110.7,270 111,276.1 110.4,282.2 111.5,287.6 114.5,292.9 116.8,299 117.6,305.2 118.3,310.5 121.4,315.9 124.5,321.2 127.2,325.8 128.3,331.1 128.7,337.3 128.3,343.4 129,349.5 129.8,355.6 130.6,360.2 129.8,366 127.4,368.4 124.8,376.1 122.8,383.7 121,393.9 119.7,404.1 122.3,411.7 121.8,421.9 120.3,432.1 119.7,439.7 118.5,447.4 114.6,449.9 107,450.4 100.6,451.2 98.1,453.8 99.9,457.6 104.5,458.9 110.8,460.1 112.1,465.2 111.6,472.9 112.1,475 113.4,482.6 112.1,490.3 109.6,497.9 107,505.6 105,513.2 104.5,520.9 105.7,528.5 108.3,534.9 109.6,541.2 112.1,547.6 115.9,551.4 117.7,557.8 119.7,564.2 121,569.3 124.8,573.1 129.9,573.9 136.3,572.3 142.7,570.5 147.8,568.8 152.4,569.8 154.1,574.4 155.4,580.7 158,587.1 160.5,592.2 164.3,593.5 168.2,590.9 171.2,585.8 172.7,579.5 174.5,574.4 178.3,570.5 182.2,566.7 185.5,561.6 184.7,554 181.4,548.9 178.3,543.8 180.4,538.7 183.9,534.1 188.5,529 192.4,524.7 196.2,520.9 200,517 201.3,517 202,509.4 203.8,503 205.6,495.4 206.4,486.5 211.5,481.4 215.3,476.3 211.5,479.2 215.8,472.9 220.4,469 223.9,462.2 226,455.5 228.5,451.7 234.4,449.2 242,447.4 249.7,447.9 257.3,446.6 262.4,442.8 265.5,437.2 268,429.6 269.8,421.9 271.8,414.3 274.4,406.6 276.4,399.5 279.5,399.5 285.4,402 291.7,404.1 298.1,402.8 301.4,401 298.9,396.4 296.8,391.3 296.3,385 296.8,379.1 300.6,376.6 304.5,374 306.5,369.7 305,364.6 301.9,360.8 298.1,356.9 294.3,354.4 291.7,349.3 291.2,342.9 291.7,336.6 293,330.2 293.8,322.5 292.2,320 291.2,315.4 293,312.4 298.1,310.8 301.9,307.8 301.4,303.9 296.8,301.4 293,298.9 291.7,292.5 290.4,284.8 289.2,277.2 289.7,270.6 293,270.1 296.8,268.3 298.1,259.4 301.4,260.1 304.5,258.1 305.7,253.5 308.3,251 312.1,247.9 315.2,242.8 314.1,236.4 311.1,228.8 307.5,223.7 304.5,217.3 300.6,214.8 301.9,212.2 305.7,210.2 307,205.9 303.2,202 301.4,194.4 302.4,190.1 300.9,182.9 298.9,175.3 297.1,169.9ZM297.1,170 296.3,167.6 297.1,169.9Z"/></clipPath>
<path d="M209.1,-93.2L-990.0,118.2M209.2,-92.8L-935.0,323.6M209.3,-92.5L-845.1,516.3M209.6,-92.1L-723.2,690.5M209.8,-91.9L-572.8,840.9M210.2,-91.6L-398.6,962.8M210.5,-91.5L-205.9,1052.7M210.9,-91.4L-0.5,1107.7M211.3,-91.3L211.3,1126.3M211.7,-91.4L423.1,1107.7M212.1,-91.5L628.5,1052.7M212.4,-91.6L821.2,962.8M212.8,-91.9L995.4,840.9M213.0,-92.1L1145.8,690.5M213.3,-92.5L1267.7,516.3M213.4,-92.8L1357.6,323.6M213.5,-93.2L1412.6,118.2M-740.8,-93.6A952.1,952.1 0 1 0 1163.4,-93.6M-489.7,-93.6A701.0,701.0 0 1 0 912.3,-93.6M-250.0,-93.6A461.3,461.3 0 1 0 672.6,-93.6M-17.6,-93.6A228.9,228.9 0 1 0 440.2,-93.6" fill="none" stroke="#8a8a8a" stroke-width="0.5" clip-path="url(#iceA)"/>
<path d="M287.9,192.4 293,194.4 298.1,196.9 298.6,203.3 299.9,209.7 296.8,213.5 293,214 289.2,211 287.1,204.6 286.6,198.2Z" fill="#979797"/>
</g>
<clipPath id="clipB"><rect x="397.65" y="17.5" width="352.95000000000005" height="600.0"/></clipPath>
<g clip-path="url(#clipB)">
<path d="M572.5,-93.2L-626.6,118.2M572.6,-92.8L-571.6,323.6M572.7,-92.5L-481.7,516.3M573.0,-92.1L-359.8,690.5M573.2,-91.9L-209.4,840.9M573.6,-91.6L-35.2,962.8M573.9,-91.5L157.5,1052.7M574.3,-91.4L362.9,1107.7M574.7,-91.3L574.7,1126.3M575.1,-91.4L786.5,1107.7M575.5,-91.5L991.9,1052.7M575.8,-91.6L1184.6,962.8M576.2,-91.9L1358.8,840.9M576.4,-92.1L1509.2,690.5M576.7,-92.5L1631.1,516.3M576.8,-92.8L1721.0,323.6M576.9,-93.2L1776.0,118.2M-377.4,-93.6A952.1,952.1 0 1 0 1526.8,-93.6M-126.3,-93.6A701.0,701.0 0 1 0 1275.7,-93.6M113.4,-93.6A461.3,461.3 0 1 0 1036.0,-93.6M345.8,-93.6A228.9,228.9 0 1 0 803.6,-93.6" fill="none" stroke="#8a8a8a" stroke-width="0.5"/>
<path d="M638.4,73.8 637.2,72.9 637.8,74.6 640.3,77.6 641,76.9ZM403.6,126.5 405.5,125.2 407.4,126.5 410,127.8 412.5,126.5 414.4,124.6 416.3,123.9 418.9,124.6 420.8,123.3 420.2,120.1 422.1,118.2 424.6,118.9 427.2,120.8 429.1,120.1 427.8,118.2 425.9,115.7 424,111.8 423.3,108.7 424.6,110.6 426.3,113.4 428.4,115 429.7,113.8 428.4,110.6 426.8,107.4 425.2,104.2 424,101 425.2,102.3 426.5,104.2 428.4,106.1 430.3,108.7 432.3,111.2 434.4,109.9 434.8,107.4 432.9,104.2 431,101 429.7,97.8 431.6,99.1 434.2,101 436.1,102.9 438,104.8 439.9,104.2 442.4,105.5 445,104.8 443.7,101.7 442.4,98.5 444.4,99.7 446.3,102.9 448.2,105.5 451.4,106.1 453.4,105.3 455.9,104 459.1,101.5 462.3,98.3 466.1,95.1 470,92.6 474.4,90 478.9,88.4 484,86.8 489.1,84.9 492.9,83.7 493.9,82.4 494.8,81.1 499.3,78.6 504.4,76.7 508.2,74.1 511.4,70.9 512.3,68.9 511.9,65.8 510.3,62.7 508.8,58.9 508,55.9 506.5,53.6 504.2,52 501.9,49.7 498.9,47.5 496.6,44.4 494.3,42.1 491.2,41.3 488.2,39.8 485.1,40.6 483.6,37.5 480.5,36 478.2,33.7 475.9,34.5 473.7,32.6 471.4,30.6 469.1,31.4 466.8,29.6 464.5,29.9 462.2,31.4 459.9,32.6 457.6,33.7 455.3,32.9 453.8,30.6 453,28 451.2,26.5 449.2,28 446.9,29.1 444.6,29.9 442.3,30.6 440.8,28.3 438.5,26.8 435.4,25.3 431.6,26.1 429.3,24.5 426.3,24.1 422.4,25.3 418.6,26.5 416.6,27.1 416.3,23.8 414,22.2 411.4,23 408.7,24.7 404.9,24.1 400.3,24.7 396.5,26.2 391.9,26.5 389.6,133.5 398.5,132 399.8,131 401.7,129ZM637.8,78.9 635.2,75.9 633.7,75 633.7,76.9 635.2,78.9 637.5,81.4 639.1,81.4ZM641.6,80.8 641.9,82.7 643.9,84.6 645.2,83.9 643.1,81.4ZM637.3,86.5 633,83.9 631.7,81 629.9,78.2 628.6,73.4 629.5,69.9 628.8,68 626.5,65 621.9,62.7 617.3,61.2 615.1,57.4 613.5,55.1 609.7,52.8 605.1,51.6 599,50.5 592.9,51 586.8,52.5 584.7,55 582.2,55.6 578.4,56.5 575.2,58.2 572,59.5 568.2,60.1 564.4,61.4 560.5,62.9 556.7,64.6 554.2,67.1 553.5,68.8 554.8,70.9 556.1,73.1 553.5,73.2 551.4,74.1 551.6,76 553.1,79.2 555.4,83.7 558,88.4 560.3,91.9 559.9,93.9 558,93.2 554.8,90 551.6,85.6 549.1,81.1 547.5,77.9 546.3,75.4 544,74.7 541.7,75.4 539.5,76.7 537.3,77.9 535.7,77 533.8,77.7 532.1,76 530,75.4 526.1,76 521,76.9 516.6,77.7 513.4,78.6 512,80.5 510.1,79.8 506.9,80.5 505.4,82.4 505.6,85.6 504.4,89.4 503.1,91.9 502.4,95.8 500.5,96.4 499.5,94.5 498,92.6 495.4,91.3 491.6,92.6 487.8,93.9 484,95.8 480.8,97.7 478.2,98.9 475.7,101.5 472.5,103.4 471.9,105.3 471.2,107.9 473.8,109.8 477,111.7 478.2,113.6 477.6,116.1 476.3,118.7 475.3,121.2 475.9,122.8 469.8,127.4 464.9,129.7 461.4,128.3 457.3,127.4 453.3,127.7 449.2,128.9 445.4,130.5 441.1,129.7 437,128.5 432.8,128.9 429.3,131.2 427.8,135 427.3,138.4 429.3,142.7 430.1,147.3 428.9,150.6 430.9,153.7 433.5,156.4 437,157.7 439.3,156.4 446.1,158 444.6,159.8 439.3,159.5 433.9,160.3 429.3,158.7 424,158.7 420.2,160.3 419.4,163.3 420.9,167.1 423.2,170.2 426.3,174 423.2,175.6 420.6,177.8 421.4,182.4 423.2,188.5 424.5,190.1 423.3,194.4 425.8,197.7 430.2,195.2 434.7,193.1 438.6,195.7 443.7,197.7 448.8,197.7 453.8,199.5 458.2,202 461.5,205.9 464,209.7 466.6,211 467.3,217.3 469.9,222.4 467.3,226.8 470.4,231.3 467.9,236.4 469.9,241.5 466.6,246.6 469.1,250.4 466.6,255.5 468.4,260.6 465.3,264.5 467.9,269.6 465.3,274.6 466.6,279.7 470.4,282.3 467.9,286.1 464.8,289.9 466.6,295 463.5,300 461.3,303.8 460.1,308.4 460.1,313 461.9,316.8 465,319.9 469,322.2 472.3,321.4 474.6,318.3 476.1,321.4 478.4,322.9 482.3,325.2 486.1,327.5 489.1,330.1 486.1,329.4 481.5,326.8 476.9,324.5 476.6,327.2 478.4,329.8 481.5,332.9 484.5,335.9 487.6,338.2 490.7,339.7 489.9,341.3 490.7,345.9 489.8,348.8 488.4,346.6 486.1,345.9 486.4,348.2 488.8,350.4 489.4,350.1 489.1,351.2 486.1,348.9 482.3,345.1 478.4,341.3 474.6,338.2 470.8,335.9 467,334.9 463.9,335.5 462.4,337.5 463.9,341 467,342.8 470,345.1 473.1,348.6 476.1,352 479.2,354.3 483,355.8 486.8,356.9 490.7,357.8 492.5,359.6 490.7,360.4 487.9,361.1 484.9,362.7 483.3,365.4 482.7,368.8 483,371.8 482.3,376.4 481.2,381 480,385.6 478.7,390.2 478.1,392.6 476.1,391.7 473,390.1 470.4,386.8 465.3,386.8 461.5,391.3 458.9,396.4 456.4,401.5 453.1,406.6 451.3,413 448.8,418.1 447.5,424.5 449.5,429.6 447.5,435.9 444.9,442.3 445.4,449.9 447.5,456.3 447,461.4 450,466.5 452.6,472.9 451.3,475 452.6,482.6 451.3,489 453.1,494.1 455.1,500.5 456.4,508.1 458.9,515.8 461.5,523.4 462.8,531.1 461.5,537.4 464,542.5 465.3,548.9 467.9,555.3 470.4,561.6 473,568 476.8,573.1 479.3,578.2 478,583.3 481.9,584.6 485.7,582 490.8,580.7 494.6,584.6 498.4,587.1 502.3,590.9 506.1,594.7 509.9,599.8 513.7,602.4 517.5,604.9 521.4,608.8 526.5,610 531.6,607.5 535.4,604.9 536.6,599.8 534.1,594.7 536.6,589.6 539.2,583.3 540.5,576.9 541.7,571.8 545.6,569.3 549.4,564.2 550.2,560.2 550,558.2 549.2,554.4 550.3,550.6 549.2,547.5 550.7,544.5 552.3,541.4 554.5,539.9 556.8,536.8 559.1,534.6 561.4,532.3 563,529.2 564.5,526.1 566,523.9 566.8,520 568.3,517 569.1,513.2 568.3,509.3 569.8,506.3 569.1,503.2 570.6,500.2 572.9,498.6 572.1,495.6 570.6,491.8 568.6,487.9 566.5,484.9 569.1,484.1 571.4,484.9 573.7,481.8 576.7,479.5 579,476.5 581.3,472.6 583.1,474.2 586.1,471.9 589.2,469.6 592.3,467.3 594.5,465.8 594.2,468.9 595.3,471.9 598.4,471.1 600.7,469.6 602.2,471.9 604.5,471.1 606,467.3 608.3,464.3 610.6,465 612.9,462.7 615.9,460.4 617.5,457.4 620.5,455.1 623.6,452 625.9,448.2 628.9,444.4 631.2,439.8 633.5,435.2 635.8,430.6 638.1,426.1 640.4,422.2 642.4,414.3 645.4,409.2 644.4,404.1 644.9,401.5 650,402.8 655.1,404.1 660.2,402.8 664,401 667.9,397.7 673,395.2 678,392.6 683.1,390.1 688.2,386.8 692.1,382.4 695.9,377.3 699.7,371 703.5,364.6 707.3,358.2 709.9,351.8 713.7,347.5 715.8,343.4 682.4,342 685.2,340.3 687.5,338.2 686.8,334.9 685,331.4 683.7,327.6 684,324.4 686.5,323.4 689.7,325.1 692.3,328 694.2,331.8 696.7,335.2 699.9,337.4 703.7,338.7 707.5,337.8 710.5,336.1 713.5,336.9 716.5,335.6 717.3,332.7 716.1,329.5 714.3,325.7 712.3,321.9 710.5,318.1 708.8,314.2 706.3,311.7 704.1,310.2 705,307.2 703.7,305.9 701.2,306.8 698.6,305.3 697.3,302.8 694.2,300.9 690.3,299.6 686.5,297.7 683.3,295.4 680.8,292.6 678.9,289.4 677,286.2 678.2,284.9 680.2,286.8 681.7,289.4 684,291.6 686.8,293.2 689.7,294.9 692.9,296.6 696.1,298.3 699.3,298.9 700.8,297.7 699.3,295.8 697.3,293.8 699.9,293.8 700.5,291.9 698.6,289.4 695.4,288.1 691.6,286.8 689.1,284.9 690.3,283.7 692.9,284.3 696.1,285.6 698.2,284.3 698,281.1 696.1,277.9 692.9,275.8 689.7,274.7 685.9,274.7 682.1,274.5 678.9,273.2 677,270.9 676.1,267.7 677,265.6 678.2,266.8 680.8,269.4 684.6,271.2 688.4,272.4 692.3,272.4 696.1,270.7 699.3,268.1 701.6,265.2 702.4,262 701.9,261.9 701.4,257.8 700.7,254 698.4,255.5 694.5,254.7 690.7,254.7 686.9,255.5 686.1,253.2 688.4,251.7 691.5,252.4 695.3,250.9 696.8,248.6 693.8,245.6 695.3,244 698.4,246.3 700.7,244.8 702.2,241 703.7,237.2 702.2,234.9 699.1,236.4 696.1,238.7 693.8,236.4 694.5,233.3 692.3,230.3 689.2,229.5 686.1,227.2 687.7,224.9 690,226.5 692.3,224.9 694.2,221.9 693,217.3 690.7,213.5 687.7,210.4 686.1,206.6 689.1,202.9 691.5,207.4 693,208.2 690.1,201.7 690.8,200.8 688.2,194.4 684.4,189.3 686.2,184.2 683.1,177.3 676.8,174 673,167.6 665.3,166.4 663.1,162.7 663.4,163 665.2,163.1 666.1,162 665.4,161.2 663.2,161 662.6,161.8 661.5,160 660.2,160 659.7,152.9 658.9,147.8 661.5,142.7 660.2,138.9 659.8,137.7 660.4,139.1 661.8,139.2 662.4,137.4 661.9,135.9 660.2,135.6 659.7,137.3 658.2,132.5 656.4,126.1 660.2,124.8 662.3,120 662.6,117.7 661.4,115.8 658.2,116.4 655,117.1 653.7,115.8 656.3,114.5 659.5,113.2 662,111.3 663.3,108.8 662.6,105.6 660.1,104.3 656.9,105 653.7,106.2 651.2,106.9 652.4,105 655,103.1 656.9,101.1 659.5,99.9 661.4,98 663.5,96.1 662.6,93.5 660.7,92.2 662,90.3 663.3,87.1 664.3,83.3 665.2,79.5 664.3,76.3 661.4,74.4 657.5,73.8 653.7,73.8 649.9,74.6 647.3,76.3 646.1,79.5 646.7,83.3 647.3,87.1 644.8,88.2 642.3,87.1 640.3,88.4 638.4,87.2 639.7,87.4 639.1,85.6 636.8,85.2ZM428.6,154.9 424.7,151.9 421.7,149.3 418.6,150.3 420.9,153.4 424,154.9 427.8,157.2 430.1,157.2ZM474.2,327.5 472.3,325.2 470,326 469.6,329 471.1,331.3 473.5,330.6ZM483.8,339.7 484.9,342.8 487.3,345.1 488.4,343.6 486.1,340.1ZM457.8,341.6 457.9,343.7 459.3,344.6 460.4,343.1 459.3,341ZM462.4,372.6 466.2,371.8 470,371.1 473.8,370 476.9,368 478.1,364.2 477.2,360.4 475.4,356.6 473.1,352.7 470,349.7 466.2,347.4 462.4,346.2 458.9,347.4 456.3,350.4 454.7,354.3 454,358.1 454.3,361.1 456.3,364.2 458.3,367.3 459.8,370.6ZM550.3,561 550.7,557.8 550.2,560.2ZM669.5,135.5 668.2,135 667.8,137.6 668.3,139.9 669.4,140.2 669.9,137.6ZM663.8,143.2 663.2,145.5 664,147.6 665.5,147.8 666.3,145.5 665.7,143.7ZM669.6,143.4 669.3,147 669.7,150.3 670.5,150.7 670.9,147 670.5,144.1ZM668,153.3 667.3,155.9 668.2,158.2 669.9,158.5 670.7,155.9 670,153.8ZM670.6,159.4 670.1,160.5 670.8,161.5 672.2,161.6 672.8,160.5 672.3,159.6ZM679.7,163.1 679.1,165.7 679.8,168 681.2,168.3 681.9,165.7 681.3,163.6ZM707.5,223.4 705.2,221.1 702.2,220.3 700.7,217.3 697.6,218.1 696.8,221.9 697.6,225.7 699.9,227.7 703,226.2 706.5,226.5ZM703,235.3 704.6,235.6 704.9,233.6 703,233.3ZM739.8,426.8 736.7,426.8 734.2,427.5 733.1,429.4 734.2,431.2 736.7,430.9 738.8,431.4 737.2,432.9 735.7,433.9 737.2,435 739.8,435.3 741.3,436.5 739.3,436.7 736.2,435.5 733.1,435 730.9,436 729.9,438 731.1,439.6 733.7,439.8 736.2,440.4 734.2,441.6 731.6,441.4 729.6,442.1 730.6,444.1 733.1,444.6 735.2,445.2 733.1,446.5 730.6,445.9 728.6,446.2 729.6,448.2 731.6,449.2 729.6,450.3 727.5,450.8 726.2,453.8 728.6,453.3 731.1,452.8 732.6,454.6 734.7,453.3 737.2,451.8 739.8,450.3 741.8,449.2 744.4,448.5 747.4,447.9 750,448.5 754.5,448.5 754.5,431.9 750,431.9 747.4,429.9 744.4,428.9 741.8,427.8ZM750,451.3 747.9,452.3 747.9,455.7 750,455.9 754.5,455.9 754.5,451.3ZM739.8,464.5 737.2,465.2 735,466.1 734.7,468.1 736.7,469.6 739.3,468.9 740.8,466.6 743.3,465.5 746.4,464.5 750,463.5 754.5,463.5 754.5,457.9 750,457.9 747.4,459.4 744.4,461 741.8,462.5Z" fill="#979797"/>
<path d="M421.2,24.5 418.6,32.9 414.8,39.8 412.5,44.4 414,50.5 416.3,56.6 420.2,62.7 426.3,67.3 433.9,70.4 439.3,71.1" fill="none" stroke="#fff" stroke-width="3.2" stroke-linecap="round" stroke-linejoin="round"/>
<path d="M439.3,71.1 443.8,68.9 448.4,65.8 456.1,63.5" fill="none" stroke="#fff" stroke-width="1.0" stroke-linecap="round" stroke-linejoin="round"/>
<path d="M437.7,71.1 443.8,71.9 449.2,73.9" fill="none" stroke="#fff" stroke-width="1.2" stroke-linecap="round" stroke-linejoin="round"/>
<path d="M416.3,41.3 421.7,44.4 427,47 433.5,47" fill="none" stroke="#fff" stroke-width="1.3" stroke-linecap="round" stroke-linejoin="round"/>
<path d="M417.9,52 424,50.5 429.3,51 437.7,55.1" fill="none" stroke="#fff" stroke-width="0.9" stroke-linecap="round" stroke-linejoin="round"/>
<path d="M421.7,67.3 420.6,74.2 418.6,79.6 420.2,84.9 422.8,87.2" fill="none" stroke="#fff" stroke-width="1.3" stroke-linecap="round" stroke-linejoin="round"/>
<path d="M413,57.4 407.9,62.7 402.9,67.8 399.8,71.9" fill="none" stroke="#fff" stroke-width="2.2" stroke-linecap="round" stroke-linejoin="round"/>
<path d="M402.9,67.8 405,74.2 403.5,79.6 399.8,83.7" fill="none" stroke="#fff" stroke-width="1.3" stroke-linecap="round" stroke-linejoin="round"/>
<path d="M475.9,36.8 476.3,43.6" fill="none" stroke="#fff" stroke-width="0.7" stroke-linecap="round" stroke-linejoin="round"/>
<path d="M455.3,34.5 456.1,51.3" fill="none" stroke="#fff" stroke-width="0.6" stroke-linecap="round" stroke-linejoin="round"/>
<path d="M495.8,54.6 503.5,53.6" fill="none" stroke="#fff" stroke-width="1.0" stroke-linecap="round" stroke-linejoin="round"/>
<path d="M494.2,82.4 486.5,82.1 478.9,82 473.1,81.8" fill="none" stroke="#fff" stroke-width="1.0" stroke-linecap="round" stroke-linejoin="round"/>
<path d="M398,91 402.6,94.1 407.2,94.8" fill="none" stroke="#fff" stroke-width="1.2" stroke-linecap="round" stroke-linejoin="round"/>
<path d="M426.3,100.2 430.1,103.2 431.6,106.3" fill="none" stroke="#fff" stroke-width="1.5" stroke-linecap="round" stroke-linejoin="round"/>
<path d="M442.3,97.9 446.1,103.2 446.9,106.3" fill="none" stroke="#fff" stroke-width="1.5" stroke-linecap="round" stroke-linejoin="round"/>
<path d="M460.7,93.3 463,101.7 459.1,104.8" fill="none" stroke="#fff" stroke-width="1.0" stroke-linecap="round" stroke-linejoin="round"/>
<path d="M513.3,81.1 514.5,85.6 515.8,90 516.7,93.2" fill="none" stroke="#fff" stroke-width="0.8" stroke-linecap="round" stroke-linejoin="round"/>
<path d="M533,77.3 532.6,82.4 531.4,88.1 529.8,93.2" fill="none" stroke="#fff" stroke-width="1.2" stroke-linecap="round" stroke-linejoin="round"/>
<path d="M532.5,78.3 532.3,82.4 531,86.8 529.3,90.7 528.7,93.2" fill="none" stroke="#fff" stroke-width="1.0" stroke-linecap="round" stroke-linejoin="round"/>
<path d="M537.9,78.3 538.9,82.4 540.2,86.2 541.4,88.8" fill="none" stroke="#fff" stroke-width="1.3" stroke-linecap="round" stroke-linejoin="round"/>
<path d="M556.3,71.3 559.9,75.4 562.4,80.5 563.7,82.4" fill="none" stroke="#fff" stroke-width="1.0" stroke-linecap="round" stroke-linejoin="round"/>
<path d="M550.3,70.3 556.7,70.3 564.4,70.3 569.5,71.6 573.3,74.1 574.5,76" fill="none" stroke="#fff" stroke-width="1.2" stroke-linecap="round" stroke-linejoin="round"/>
<path d="M615.1,58.2 608.2,61.2 600.5,63.8 595.9,65.3 589.1,68.9" fill="none" stroke="#fff" stroke-width="1.3" stroke-linecap="round" stroke-linejoin="round"/>
<path d="M633.4,77.6 626.5,80.6 620.4,82.6 611.2,84.9 605.1,88 599,93.3 597.5,95.6" fill="none" stroke="#fff" stroke-width="2.2" stroke-linecap="round" stroke-linejoin="round"/>
<path d="M622.7,83.4 625,88 620.4,94.1 617.3,97.1" fill="none" stroke="#fff" stroke-width="1.5" stroke-linecap="round" stroke-linejoin="round"/>
<path d="M630.2,76.4 624.5,81 614.4,82.8 605.4,86.6 599.1,92.2" fill="none" stroke="#fff" stroke-width="1.6" stroke-linecap="round" stroke-linejoin="round"/>
<path d="M679.7,343.1 677,344.6 675.4,348.4 673.5,352.3 671.3,355.3 667.8,356.9" fill="none" stroke="#fff" stroke-width="1.0" stroke-linecap="round" stroke-linejoin="round"/>
<path d="M681.2,344.6 679.3,346.9 676.2,349.2 674.7,351.5" fill="none" stroke="#fff" stroke-width="0.9" stroke-linecap="round" stroke-linejoin="round"/>
<path d="M669.3,318.6 671.6,320.9 675.4,320.2 679.3,319.4 682.3,320.9 684.6,322.8" fill="none" stroke="#fff" stroke-width="0.9" stroke-linecap="round" stroke-linejoin="round"/>
<path d="M666.3,314.1 663.2,312.5 660.2,313.3 657.9,312.5" fill="none" stroke="#fff" stroke-width="0.8" stroke-linecap="round" stroke-linejoin="round"/>
<path d="M668.3,337 667.8,341.6 667,346.2 666.3,349.2" fill="none" stroke="#fff" stroke-width="0.9" stroke-linecap="round" stroke-linejoin="round"/>
<path d="M683.8,330.9 680,332.4 676.2,333.9 672.4,334.7 669.3,336.2" fill="none" stroke="#fff" stroke-width="0.9" stroke-linecap="round" stroke-linejoin="round"/>
<path d="M698.4,307.2 699.9,309.5 701.4,308.7" fill="none" stroke="#fff" stroke-width="0.8" stroke-linecap="round" stroke-linejoin="round"/>
<path d="M708.3,328.6 709.1,332.4 708,335.5" fill="none" stroke="#fff" stroke-width="0.7" stroke-linecap="round" stroke-linejoin="round"/>
<path d="M672.5,288.8 670,291.9 668.4,295.4" fill="none" stroke="#fff" stroke-width="0.8" stroke-linecap="round" stroke-linejoin="round"/>
<path d="M677.6,298.9 677,302.1 677.3,304.7" fill="none" stroke="#fff" stroke-width="0.8" stroke-linecap="round" stroke-linejoin="round"/>
<path d="M657.9,277.3 662.3,279.8 666.1,281.7" fill="none" stroke="#fff" stroke-width="0.7" stroke-linecap="round" stroke-linejoin="round"/>
<path d="M666.1,314.2 670,319.3 675.1,320 680.8,319.3 684,323.1" fill="none" stroke="#fff" stroke-width="1.0" stroke-linecap="round" stroke-linejoin="round"/>
<path d="M684,324.4 683.3,329.5 680.2,333.3 675.1,335.9 671.2,338.4 669.3,342" fill="none" stroke="#fff" stroke-width="1.0" stroke-linecap="round" stroke-linejoin="round"/>
<path d="M699.9,305.9 698.6,309.1 697.7,311" fill="none" stroke="#fff" stroke-width="0.8" stroke-linecap="round" stroke-linejoin="round"/>
<path d="M703.7,306.6 702.4,309.8" fill="none" stroke="#fff" stroke-width="0.8" stroke-linecap="round" stroke-linejoin="round"/>
<path d="M707.5,328.2 708.8,332.1 710.1,335.2" fill="none" stroke="#fff" stroke-width="0.8" stroke-linecap="round" stroke-linejoin="round"/>
<path d="M674.7,285.8 677,290.7 680.8,294.5 685.4,298" fill="none" stroke="#fff" stroke-width="1.1" stroke-linecap="round" stroke-linejoin="round"/>
<path d="M679.3,271.6 683.8,272.3 688.4,273.8" fill="none" stroke="#fff" stroke-width="1.0" stroke-linecap="round" stroke-linejoin="round"/>
<path d="M671.6,277.7 673.9,280 677.7,280.7 682.3,280 686.9,279.2" fill="none" stroke="#fff" stroke-width="1.0" stroke-linecap="round" stroke-linejoin="round"/>
<path d="M680,283.8 683.8,286.8 688.4,287.6 693.8,288.4" fill="none" stroke="#fff" stroke-width="1.0" stroke-linecap="round" stroke-linejoin="round"/>
<path d="M677.7,202 679.3,205.1 679,209.6 680,215" fill="none" stroke="#fff" stroke-width="0.9" stroke-linecap="round" stroke-linejoin="round"/>
<path d="M683.8,203.5 685.1,208.1 686.6,212.7" fill="none" stroke="#fff" stroke-width="0.8" stroke-linecap="round" stroke-linejoin="round"/>
<path d="M686.1,253.2 682.3,252.4 679.3,250.9" fill="none" stroke="#fff" stroke-width="0.8" stroke-linecap="round" stroke-linejoin="round"/>
<path d="M677,268.5 673.9,267 671.6,264.7" fill="none" stroke="#fff" stroke-width="0.8" stroke-linecap="round" stroke-linejoin="round"/>
<path d="M613.6,56.6 611,59.1 607.2,60.1 603.4,60.4" fill="none" stroke="#fff" stroke-width="0.9" stroke-linecap="round" stroke-linejoin="round"/>
<path d="M651.2,106.9 648.6,108.8 646.1,110.1" fill="none" stroke="#fff" stroke-width="0.8" stroke-linecap="round" stroke-linejoin="round"/>
<path d="M653.7,115.8 651.8,116.4 649.9,118" fill="none" stroke="#fff" stroke-width="0.8" stroke-linecap="round" stroke-linejoin="round"/>
<path d="M593.8,454.3 597.6,455.1 596.1,458.9 594.5,462.7 593.8,465.8" fill="none" stroke="#fff" stroke-width="1.0" stroke-linecap="round" stroke-linejoin="round"/>
<path d="M464.7,304.6 469.3,306.1 473.1,309.2" fill="none" stroke="#fff" stroke-width="0.8" stroke-linecap="round" stroke-linejoin="round"/>
<path d="M462.4,310.7 467.7,313 471.6,315.3" fill="none" stroke="#fff" stroke-width="0.8" stroke-linecap="round" stroke-linejoin="round"/>
<path d="M456.3,352.7 459.3,356.6 458.6,360.4" fill="none" stroke="#fff" stroke-width="0.7" stroke-linecap="round" stroke-linejoin="round"/>
<path d="M461.6,367.3 463.9,365 465.4,368" fill="none" stroke="#fff" stroke-width="0.7" stroke-linecap="round" stroke-linejoin="round"/>
<path d="M483.8,364.2 485.3,368.8 484.5,373.4" fill="none" stroke="#fff" stroke-width="0.8" stroke-linecap="round" stroke-linejoin="round"/>
<path d="M466.2,389.4 470.8,390.2 473.8,391.7" fill="none" stroke="#fff" stroke-width="0.8" stroke-linecap="round" stroke-linejoin="round"/>
<path d="M443.1,30.6 444.6,36.8" fill="none" stroke="#fff" stroke-width="0.7" stroke-linecap="round" stroke-linejoin="round"/>
<path d="M460.7,32.9 461.4,37.2" fill="none" stroke="#fff" stroke-width="0.7" stroke-linecap="round" stroke-linejoin="round"/>
<path d="M465.2,30.6 466.5,35.2" fill="none" stroke="#fff" stroke-width="0.7" stroke-linecap="round" stroke-linejoin="round"/>
<path d="M469.8,31.4 470.6,36" fill="none" stroke="#fff" stroke-width="0.7" stroke-linecap="round" stroke-linejoin="round"/>
<path d="M481.3,36.8 482.1,40.6" fill="none" stroke="#fff" stroke-width="0.7" stroke-linecap="round" stroke-linejoin="round"/>
<path d="M485.6,41.3 486.3,45.9" fill="none" stroke="#fff" stroke-width="0.7" stroke-linecap="round" stroke-linejoin="round"/>
<path d="M491.5,42.1 492.2,45.9" fill="none" stroke="#fff" stroke-width="0.7" stroke-linecap="round" stroke-linejoin="round"/>
<path d="M429.3,25 430.1,29.1" fill="none" stroke="#fff" stroke-width="0.8" stroke-linecap="round" stroke-linejoin="round"/>
<path d="M436.2,26.1 436.7,29.9" fill="none" stroke="#fff" stroke-width="0.7" stroke-linecap="round" stroke-linejoin="round"/>
<path d="M417,81.3 418.9,85.1 422.1,87" fill="none" stroke="#fff" stroke-width="0.8" stroke-linecap="round" stroke-linejoin="round"/>
<path d="M398.5,92.1 402.3,95.3 406.1,94.6" fill="none" stroke="#fff" stroke-width="0.8" stroke-linecap="round" stroke-linejoin="round"/>
<path d="M443.7,97.8 445.6,101 448.2,103.6" fill="none" stroke="#fff" stroke-width="0.7" stroke-linecap="round" stroke-linejoin="round"/>
<path d="M463.5,92.7 462.8,96.6" fill="none" stroke="#fff" stroke-width="0.7" stroke-linecap="round" stroke-linejoin="round"/>
<path d="M413.1,123.3 415.7,125.9" fill="none" stroke="#fff" stroke-width="0.7" stroke-linecap="round" stroke-linejoin="round"/>
<path d="M464.7,407.9 469.3,410.2 474.6,409.5 478.4,407.2 480.7,404.9" fill="none" stroke="#fff" stroke-width="0.8" stroke-linecap="round" stroke-linejoin="round"/>
<path d="M469.3,398.8 473.8,400.3 477.7,402.6 480.7,406.4" fill="none" stroke="#fff" stroke-width="0.7" stroke-linecap="round" stroke-linejoin="round"/>
<path d="M453.2,430.9 459.3,430.1" fill="none" stroke="#fff" stroke-width="0.6" stroke-linecap="round" stroke-linejoin="round"/>
<path d="M460.1,437 466.2,433.2 472.3,430.9 476.9,429.3" fill="none" stroke="#fff" stroke-width="0.6" stroke-linecap="round" stroke-linejoin="round"/>
<path d="M463.9,391.1 467.7,389.6 472.3,391.1" fill="none" stroke="#fff" stroke-width="0.7" stroke-linecap="round" stroke-linejoin="round"/>
<path d="M464.7,470.6 465.4,475.2 465,479.8" fill="none" stroke="#fff" stroke-width="0.8" stroke-linecap="round" stroke-linejoin="round"/>
<path d="M446.3,458.4 450.2,456.8 454,458.1" fill="none" stroke="#fff" stroke-width="0.6" stroke-linecap="round" stroke-linejoin="round"/>
<path d="M538.1,78.6 539,74.1 541.3,72.8 542.3,75.4 543.2,80.5 543.8,85.6 543.6,89.1 542.6,89.1 541.6,85.6 540,81.8ZM717.2,334.7 715.2,336.2 711.4,337.1 707.5,338.2 703.7,338.7 699.9,337.6 696.8,335.6 694.5,332.5 693,328.7 690.7,325.7 687.7,323.4 684.9,322.5 683.8,326.3 685.4,329.3 683.8,330.9 686.1,333.9 687.7,337 685.4,339.3 682.3,341.3 679.7,342.6 681.2,344.6 683.8,345.4 686.9,343.6 690.7,343.1 694.5,343.9 699.1,344.6 703.7,344.6 708.3,343.9 712.1,342.6 715.9,341.9 719,339.3ZM629.5,75.4 626.3,76.9 623.8,78.5 620.6,80 616.8,81.3 613,82.3 609.1,83.6 605.9,85.1 603.4,86.4 599.6,88 599.6,91 603.4,90.4 605.3,89.7 608.5,87.9 612.3,85.9 616.1,84.3 620,83.1 623.8,81.5 627,79.9 630.4,78.6ZM621.9,82.7 623.8,82 625.3,87.1 624.4,91.6 621.9,95 618.7,97.6 617.7,96.7 620.2,94.1 622.5,91 623.1,87.1ZM631.7,78.2 634,78 636.8,82.7 638.4,87.8 638.8,93.5 638.4,98.6 637.5,103.7 636.5,108.8 635.2,113.9 633.7,116.4 632.7,115.9 633.7,111.3 634.6,106.2 635.2,101.1 635.5,96.1 635.2,91 634.2,86.5 632.4,82.3ZM438,161.6 440.6,160.8 443.7,161 446.7,161.3 448.2,160.8 448.4,163.3 447.2,164.8 445.2,164.3 442.6,163.3 439.6,162.3ZM671.6,189.8 677.7,188.6 682.3,189.8 684.6,194.4 686.1,199 683.8,201.3 679.3,200.5 675.4,197.5 672.4,193.7Z" fill="#fff"/>
<path d="M659.8,166.4 659.6,161.3 658.6,156.2 657.5,151.1 657.3,147.3 659.2,148.6 661.1,147.3 659.8,143.5 657.3,140.3 656.6,135.9 657.3,132 656.6,128.2 654.7,124.4 651.6,125 650.7,128.2 650.3,133.9 647.1,136.5 643.9,135.9 640.7,133.3 636.9,130.1 633.7,126.9 630.5,123.8 627.3,120.6 624.2,119.9 621,116.8 619.1,112.9 617.8,108.5 617.2,106.6 615.9,102.7 614.6,98.9 613.3,96.1 613.4,97 610.9,96.4 610,97 608.9,99.6 605.1,98.9 601.3,97.7 598.8,95.8 597.5,97 596.2,98.9 593,99.6 590.5,98.9 588.6,97 586.6,94.5 584.7,91.9 582.8,89.4 579.6,86.8 577.1,84.9 574.5,83 572,81.5 569.5,79.2 567.5,76.9 566.3,77.3 565.4,80.5 564.4,85.6 562.4,90.7 559.9,94.5 556.7,97.7 552.9,100.2 549.7,100.9 546.8,100.2 547.2,95.8 546.8,91.3 545.5,93.2 544,98.3 542.1,102.1 538.9,103.4 535.7,102.8 533.8,100.2 532.8,97.7 531.9,99.6 529.3,101.5 526.1,102.8 523,102.4 520.4,100.9 517.9,98.9 515.9,96.4 513.4,95.1 513.3,95.1 509.5,94.2 505.6,94.7 503.7,95.5 501.8,97 500.8,100.9 499.9,106 499.3,111.1 498,116.1 496.7,120 494.2,121.2 490.3,122.5 487.2,121.9 485.9,119.3 484.6,116.1 483.3,117.4 479.5,118.7 475.7,121.2 479,119.8 474.4,123.6 469.8,126.6 464.5,130.2 460.7,132.8 456.1,135 451.5,137.3 447.7,139.2 445.1,140.4 442.3,135.8 439.3,135.4 434.7,135.8 431.3,136.6 430.1,140.4 430.9,145 430.1,147.3 432.4,149.6 435.4,150.3 439.3,150.3 445.4,150.3 446.6,153.4 447.7,157.2 448.7,161 449.7,164.9 448.4,168.7 446.9,171.7 443.8,173.6 440.8,173.3 438.5,169.4 437,166.4 435.4,164.1 432.4,165.6 429.3,167.1 427.8,170.2 428.6,175.6 427.8,182.4 426.3,188.5 425.5,194.7 425.8,193.1 427.1,195.7 432.2,191.8 437.3,190.6 439.8,194.4 444.9,195.7 451.3,195.7 456.4,198.2 460.2,202 462.8,207.1 465.3,211 468.4,214.8 470.4,219.9 471.7,225 470.9,230.1 472.4,236.4 473,241.5 474.2,247.9 473.5,254.3 473,260.6 474.2,267 474.1,270 474.4,276.1 473.8,282.2 474.9,287.6 477.9,292.9 480.2,299 481,305.2 481.7,310.5 484.8,315.9 487.9,321.2 490.6,325.8 491.7,331.1 492.1,337.3 491.7,343.4 492.4,349.5 493.2,355.6 494,360.2 493.2,366 490.8,368.4 488.2,376.1 486.2,383.7 484.4,393.9 483.1,404.1 485.7,411.7 485.2,421.9 483.7,432.1 483.1,439.7 481.9,447.4 478,449.9 470.4,450.4 464,451.2 461.5,453.8 463.3,457.6 467.9,458.9 474.2,460.1 475.5,465.2 475,472.9 475.5,475 476.8,482.6 475.5,490.3 473,497.9 470.4,505.6 468.4,513.2 467.9,520.9 469.1,528.5 471.7,534.9 473,541.2 475.5,547.6 479.3,551.4 481.1,557.8 483.1,564.2 484.4,569.3 488.2,573.1 493.3,573.9 499.7,572.3 506.1,570.5 511.2,568.8 515.8,569.8 517.5,574.4 518.8,580.7 521.4,587.1 523.9,592.2 527.7,593.5 531.6,590.9 534.6,585.8 536.1,579.5 537.9,574.4 541.7,570.5 545.6,566.7 548.9,561.6 548.1,554 544.8,548.9 541.7,543.8 543.8,538.7 547.3,534.1 551.9,529 555.8,524.7 559.6,520.9 563.4,517 564.7,517 565.4,509.4 567.2,503 569,495.4 569.8,486.5 574.9,481.4 578.7,476.3 574.9,479.2 579.2,472.9 583.8,469 587.3,462.2 589.4,455.5 591.9,451.7 597.8,449.2 605.4,447.4 613.1,447.9 620.7,446.6 625.8,442.8 628.9,437.2 631.4,429.6 633.2,421.9 635.2,414.3 637.8,406.6 639.8,399.5 642.9,399.5 648.8,402 655.1,404.1 661.5,402.8 664.8,401 662.3,396.4 660.2,391.3 659.7,385 660.2,379.1 664,376.6 667.9,374 669.9,369.7 668.4,364.6 665.3,360.8 661.5,356.9 657.7,354.4 655.1,349.3 654.6,342.9 655.1,336.6 656.4,330.2 657.2,322.5 655.6,320 654.6,315.4 656.4,312.4 661.5,310.8 665.3,307.8 664.8,303.9 660.2,301.4 656.4,298.9 655.1,292.5 653.8,284.8 652.6,277.2 653.1,270.6 656.4,270.1 660.2,268.3 661.5,259.4 664.8,260.1 667.9,258.1 669.1,253.5 671.7,251 675.5,247.9 678.6,242.8 677.5,236.4 674.5,228.8 670.9,223.7 667.9,217.3 664,214.8 665.3,212.2 669.1,210.2 670.4,205.9 666.6,202 664.8,194.4 665.8,190.1 664.3,182.9 662.3,175.3 660.5,169.9ZM660.5,170 659.7,167.6 660.5,169.9Z" fill="#979797"/>
<path d="M430.2,185.6 430.2,185.6 430.5,190.2 430.5,190.2 430.5,190.2 432.5,193.2 432.5,193.2 432.5,193.2 435,195.9 435,195.9 435,195.9 435,195.9 435,195.9 435,196 435,196 435,196 435,196 435,196.7 435,196.7 435,196.7 439.6,196.7 439.6,196.7 444.2,196.4 444.2,196.4 448.7,196.7 448.7,196.7 448.8,196.7 448.8,196.7 448.8,196.7 448.8,196.7 452.6,199 452.6,199 452.6,199 452.6,199 452.6,199 452.6,199 455.6,203.6 455.6,203.6 457.9,207.4 457.9,207.4 461,211.2 464,215 464,215 464,215 466.3,219.6 466.3,219.6 466.3,219.6 467.4,224.2 467.4,224.2 467.4,224.2 467.4,224.2 467.4,224.2 466.8,228.8 466.8,228.8 466.8,228.8 467.9,233.4 467.9,233.4 469.4,238 469.4,238 470.5,242.5 470.5,242.5 470.5,242.5 470.5,242.6 470.5,242.6 469.9,247.1 469.9,247.1 468.9,251.7 468.9,251.7 468.6,255.9 468.6,255.9 468.6,255.9 468.6,255.9 468.6,255.9 468.6,256 468.6,256 468.6,256 468.6,256 468.6,256 468.6,256 468.6,256 468.6,256 468.6,256 468.5,256 468.5,256 468.2,256 468.2,256 468.2,256 467,261.9 467,261.9 466.5,269.6 466.5,269.6 467,277.2 467,277.2 467,277.2 466,284.8 466,284.8 465.3,292.5 465.3,292.5 464,300.1 464,300.1 462.7,306.5 462.7,306.5 462.7,306.5 465,311.1 465,311.1 465,311.1 465,310.1 465,310.1 465,310.1 465,310.1 465,310.1 465,310.1 465,310 465,310 465,310 465,310 465,310 465.1,310 465.1,310 465.1,310 465.1,310 465.1,310 465.1,310 470.3,310 470.3,310 470.3,310 470.3,310 470.3,310 470.3,310 470.3,310 470.3,310 470.3,310 470.3,310 470.3,310 470.3,310.1 470.4,310.1 470.4,310.1 470.4,310.1 470.4,310.1 470.8,314.6 470.8,314.6 471.9,319.2 471.9,319.2 471.9,319.2 475.7,321.9 475.7,321.9 475.7,321.9 475.7,321.9 475.7,321.9 475.7,321.9 475.7,322 475.7,322 476.5,325.3 476.5,325.3 478,334.4 478,334.4 478,334.4 478,334.5 478,334.5 478,334.5 478,334.5 476.5,338.3 476.5,338.3 476.5,338.3 476.5,338.3 476.5,338.3 474.2,340.6 474.2,340.6 474.2,340.6 475.7,344.4 475.7,344.4 475.7,344.4 478,348.2 478,348.2 478,348.2 479.5,352.8 479.5,352.8 479.5,352.8 480.3,357.4 480.3,357.4 480.3,357.4 480.3,357.4 480.3,357.4 480.3,357.4 479.5,359.6 479.5,359.6 479.5,359.7 479.5,359.7 479.5,359.7 479.5,359.7 479.5,359.7 479.5,359.7 479.5,359.7 474.5,362 474.5,362 474.5,362 474.9,366.9 474.9,366.9 474.9,366.9 480.3,368.1 480.3,368.1 480.3,368.1 480.3,368.1 480.3,368.1 480.3,368.1 480.3,368.1 480.3,368.1 482.1,370.4 482.1,370.4 482.1,370.4 482.1,370.4 482.1,370.4 482.1,370.4 482.1,370.4 482.1,370.4 481.8,375.7 481.8,375.7 480.3,384.9 480.3,384.9 480.3,384.9 480.3,384.9 480.3,384.9 480.3,384.9 480.3,384.9 477.2,388 477.2,388 474.9,391 474.9,391 474.9,391 475.7,395.6 475.7,395.6 475.7,395.6 477.2,400.2 477.2,400.2 478.7,405.9 478.7,405.9 478.7,405.9 478.7,405.9 478.7,405.9 478.7,405.9 478.7,405.9 478.7,405.9 478.7,405.9 478.7,406 478.7,406 478.7,406 478.7,406 478.7,406 478.7,406 478.7,406 478.7,406 478.6,406 478.6,406 478.6,406 477.9,406 477.8,406 477.8,406 478,406.6 479.8,414.3 479.8,414.3 480.5,421.9 480.5,421.9 480.5,421.9 479.8,429.6 479.8,429.6 479.7,430 479.7,430 479.7,430 482.1,430 482.1,430 482.1,430 482.1,430 482.1,430 482.1,430 482.1,430 482.1,430 482.2,430 482.2,430 482.2,430 482.2,430.1 482.2,430.1 482.2,430.1 482.2,430.1 482.2,430.1 482.2,430.1 482.2,430.1 482.2,430.1 482.2,430.1 482.2,430.1 482.2,430.1 482.2,430.2 480,433.8 480,433.8 477.7,438.4 477.7,438.4 476.1,443 476.1,443 476.1,443 475.4,447.6 475.4,447.6 475.4,447.6 475.4,447.6 475.4,447.6 473.9,449.8 473.9,449.8 473.9,449.8 473.9,449.8 473.9,449.8 473.9,449.8 473.9,449.8 473.8,449.8 473.8,449.8 473.8,449.8 473.8,449.8 473.8,449.8 473.8,449.8 473.8,449.8 473.8,449.8 473.8,449.8 470.8,448.4 470.8,448.3 470.8,448.3 470.8,448.3 467.7,445.3 467.7,445.3 467.7,445.3 463.9,443 463.9,443 460.1,439.9 460.1,439.9 460.1,439.9 456.3,439.2 456.3,439.2 456.3,439.2 454,443 454,443 454,443 452.9,448.3 452.9,448.3 452.9,448.3 453.2,452.2 453.2,452.2 453.2,452.2 455,455.2 455.1,455.2 455.1,455.2 458.6,456.8 458.6,456.8 458.6,456.8 462.4,455.2 462.4,455.2 462.4,455.2 466.2,453 466.2,453 466.2,452.9 466.2,452.9 466.2,452.9 466.2,452.9 466.2,452.9 466.2,452.9 466.2,452.9 466.2,453 466.3,453 467.9,453.8 467.9,453.8 467.9,453.8 467.9,453.8 467.9,453.8 467.9,453.8 467.9,453.8 467.9,453.8 467.9,453.8 468,453.8 468,453.9 468,453.9 468,453.9 468,453.9 468,453.9 467.9,453.9 467.9,453.9 467.9,453.9 467.9,453.9 467.9,453.9 467.9,453.9 467.9,453.9 466.2,455.2 466.2,455.2 466.2,455.2 466.2,455.2 466.2,455.2 466.2,455.2 462.4,456 462.4,456 462.4,456 460.9,459 460.9,459 460.9,459.1 458.6,462.1 458.6,462.1 456.3,465.9 456.3,465.9 456.3,465.9 455.1,470.5 455.1,470.5 455.1,470.5 456,475.1 456,475.1 456,475.1 456,475.1 456,475.1 456,475.1 454.4,479.7 454.4,479.7 454.4,479.7 453.5,485 453.5,485 453.2,490.4 452.9,495.7 452.9,495.7 452.9,495.7 453.5,501.1 453.5,501.1 453.5,501.1 453.2,506.4 453.2,506.4 453.2,506.4 454,511.8 454,511.8 454,512 454,512 454,512 454,512 454,512 454.1,512 454.1,512 454.1,512 454.1,512 454.1,512 454.1,512 454.1,512 454.1,512 454.1,512.1 454.1,512.1 454.1,512.1 454.1,512.1 454.9,515.8 454.9,515.8 454.9,515.8 457.9,519.6 457.9,519.6 457.9,519.7 460.2,524.2 460.2,524.2 460.2,524.2 460.2,524.2 460.2,524.2 460.2,524.3 460.2,524.3 459.5,528.8 459.5,528.8 459.5,528.8 460.7,533.4 460.7,533.4 460.7,533.4 463.3,538 463.3,538 463.3,538 464.8,542.6 464.8,542.6 464.8,542.6 465.6,547.9 466.3,553.3 466.3,553.3 466.3,553.3 467.9,557.9 467.9,557.9 467.9,557.9 470.9,562.4 470.9,562.5 473.2,567 475.5,571.6 477.8,576.2 477.8,576.2 477.8,576.2 480.9,580 480.9,580 480.9,580 484.7,581.6 484.7,581.6 484.7,581.6 489.3,582.6 489.3,582.6 489.3,582.6 493.9,584.6 493.9,584.6 497.7,586.1 497.7,586.1 497.7,586.1 501.5,585.4 501.5,585.4 501.5,585.4 501.5,585.4 501.5,585.4 501.5,585.4 501.5,585.4 501.5,585.4 504.5,586.9 504.5,586.9 504.5,586.9 504.6,586.9 504.6,586.9 504.6,586.9 504.6,586.9 506.8,590.7 509.1,594.5 511.4,598.4 511.4,598.4 514.5,602.2 514.5,602.2 514.5,602.2 518.3,605.2 518.3,605.2 521.4,608 521.4,608 521.4,608 522.6,608 522.6,608 522.6,608 527.7,608.8 527.7,608.8 527.7,608.8 529.8,608 529.8,608 529.8,608 529.9,608 535.9,608 535.9,608 535.9,608 538.9,603.7 538.9,603.7 542,599.1 542,599.1 544.3,594.5 544.3,594.5 544.3,594.5 545.8,589.2 547.4,583.9 547.4,583.8 549.3,578.5 549.3,578.5 550.9,573.1 550.9,573.1 551.9,567.8 551.9,567.8 552.7,562.4 552.7,562.4 552.7,562.4 551.9,557.1 551.9,557.1 551.9,557.1 551.9,557.1 551.9,557.1 553.5,551.7 553.5,551.7 554.2,550 554.2,550 554.2,550 552.2,550 552.2,550 552.2,550 552.2,550 552.2,550 552.2,550 552.2,550 552.2,550 552.2,550 552.2,550 552.2,550 552.2,549.9 552.1,549.9 552.1,549.9 552.1,549.9 552.1,549.9 552.1,549.9 552.1,549.9 552.1,549.9 552.1,549.9 552.1,549.9 552.2,549.9 553.3,547.7 553.3,547.7 555.5,543.9 555.5,543.9 557.8,540.1 557.8,540.1 561.6,532.4 561.6,532.4 561.6,532.4 564.2,529.2 564.2,529.2 566.1,526.1 566.1,526 567.7,522.2 567.7,522.2 569.3,517.8 569.3,517.8 570.5,513.3 571.8,508.9 571.8,508.9 572.8,504.4 572.8,504.4 572.8,504.4 573.1,499.9 573.1,499.9 573.7,495.5 573.7,495.5 573.7,495.5 575,491.7 575,491.7 575,491.7 575,490.8 575,490.8 575,490.8 575,490.8 575,490.8 575,490.8 575,490.8 575,490.8 576.2,489.4 576.2,489.4 579.3,486.6 579.3,486.6 579.3,486.6 579.3,486.6 579.3,486.6 583.1,485.1 583.1,485.1 586.9,483.3 586.9,483.3 586.9,483.3 590,481 590,481 590,481 592.3,477.1 592.3,477.1 592.3,477.1 593.8,473.4 593.8,473.4 593.8,473.3 593.8,473.3 593.8,473.3 593.8,473.3 593.8,473.3 593.8,473.3 596.8,471.8 596.8,471.8 596.8,471.8 596.8,471.8 596.8,471.8 596.9,471.8 596.9,471.8 596.9,471.8 596.9,471.8 599.9,472.9 599.9,472.9 599.9,472.9 603.7,472.6 603.7,472.6 603.7,472.6 607.5,471 607.5,471 607.5,471 610.6,468 610.6,468 613.7,464.2 616.7,460.3 616.7,460.3 616.7,460.3 619.8,457.6 619.8,457.6 623.6,454.2 623.6,454.2 627.4,450.4 627.4,450.4 630.5,446.6 630.5,446.6 630.5,446.6 633.5,437.4 633.5,437.4 634.1,436.1 634.1,436.1 634.1,436 634.1,436 634.1,436 634.1,436 634.1,436 634.1,436 634.1,436 634.1,436 634.1,436 634.2,436 634.2,436 636,436 636,436 636,436 636.5,433.3 636.5,433.2 637.5,428.7 637.5,428.7 638.8,424.1 638.8,424.1 640.3,420.3 640.3,420.3 640.3,420.2 642.6,416.4 642.6,416.4 642.6,416.4 645.6,413.4 645.6,413.4 648.7,410.6 648.7,410.6 648.7,410.6 648.7,410.6 648.7,410.6 651.7,409.6 651.8,409.6 655.6,408.8 655.6,408.8 655.6,408.8 660.2,406.5 660.2,406.5 664,404.2 664,404.2 664,404.2 667.8,403 667.8,403 671.6,401.1 671.6,401.1 676.2,398.9 676.2,398.9 676.2,398.9 680,395.8 683.9,392.7 683.9,392.7 683.9,392.7 686.9,388.9 686.9,388.9 690.7,385.1 690.7,385.1 693.8,382.8 693.8,382.8 696.8,380.1 696.8,380.1 696.8,380 699.6,376.7 699.6,376.7 699.6,376.7 702.2,372.1 702.2,372.1 705.3,367.5 705.3,367.5 707.5,362.9 707.5,362.9 709.4,358.3 709.4,358.3 710.9,353.8 710.9,353.8 710.9,353.8 710.6,349.9 710.6,349.9 710.6,349.9 707.5,347.6 707.5,347.6 707.5,347.6 703.7,345.8 703.7,345.8 703.7,345.8 699.1,344.6 699.1,344.6 694.6,343.8 694.6,343.8 694.5,343.8 690,342.3 690,342.3 690,342.3 686.5,340.2 686.4,340.2 686.4,340.2 686.4,340.2 686.4,340.2 686.4,340.2 686.4,340.1 686.4,340.1 686.4,340.1 686.4,340.1 686.4,340.1 686.4,340.1 686.4,340.1 686.4,340.1 686.4,340.1 686.4,340.1 686.4,340 686.4,340 686.4,340 686.4,340 686.5,340 686.5,340 686.5,340 686.5,340 686.5,340 686.5,340 686.5,340 689.1,340 689.1,340 689.1,340 686.9,336.2 686.8,336.2 686.8,336.2 685.3,331.6 685.3,331.6 685.3,331.6 685.3,331.6 685.3,331.6 685.3,331.6 686.1,327.1 686.1,327.1 686.1,327.1 686.1,327 686.1,327 686.1,327 686.1,327 686.1,327 686.1,327 689.1,324.8 689.1,324.8 689.1,324.7 689.1,324.7 689.1,324.7 689.2,324.7 689.2,324.7 689.2,324.7 693,324.7 693,324.7 693,324.7 696.8,323.2 696.8,323.2 696.8,323.2 698.8,319.4 698.8,319.4 698.8,319.4 697.5,315.6 697.5,315.6 697.5,315.6 693,314.8 693,314.8 693,314.8 688.4,316.3 688.4,316.3 688.4,316.3 688.4,316.3 688.4,316.3 688.4,316.3 688.4,316.3 688.4,316.3 688.4,316.3 688.3,316.3 688.3,316.3 688.3,316.3 686.2,314.1 686.1,314.1 686.1,314.1 686.1,314.1 686.1,314.1 686.1,314.1 686.1,314.1 686.1,314 686.1,314 686.1,314 686.1,314 686.1,314 686.1,314 686.1,314 686.1,314 686.1,314 686.2,314 688.4,311.7 688.4,311.7 688.4,311.7 689.9,307.2 689.9,307.2 689.9,307.2 690.7,302.6 690.7,302.6 690.7,302.6 690.7,302.6 690.7,302.6 690.7,302.6 690.7,302.6 690.7,302.6 690.7,302.5 693.7,300.3 693.7,300.3 693.7,300.3 696,296.5 696,296.5 696,296.5 694.5,291.9 694.5,291.9 694.5,291.9 694.5,291.9 694.5,291.9 694.5,291.8 695.3,286.5 695.3,286.5 695.3,286.5 694.5,281.2 694.5,281.2 694.5,281.2 693,276.6 691.4,272 691.4,272 691.4,272 689.7,272 689.7,272 689.6,272 689.6,272 689.6,272 689.6,272 689.6,272 689.6,272 689.6,272 689.6,272 689.6,272 689.6,271.9 689.6,271.9 688.1,268.5 688.1,268.5 686.9,264.7 686.9,264.7 686.9,264.7 686.9,264.7 686.9,264.7 686.9,264.6 686.9,264.6 688.1,260.9 688.1,260.9 688.1,260.8 688.1,260.8 688.1,260.8 688.1,260.8 690.7,258.5 690.7,258.5 693.7,256.3 693.7,256.3 693.7,256.3 694.5,252.4 694.5,252.4 694.5,252.4 691.4,249.4 691.4,249.4 691.4,249.4 688.8,247.9 688.7,247.9 688.7,247.9 688.7,247.9 688.7,247.9 688.7,247.9 688.7,247.8 688.7,247.8 688.7,247.8 688.7,247.8 688.7,247.8 688.7,247.8 688.7,247.8 688.7,247.8 688.7,247.8 688.7,247.8 689.9,244.8 689.9,244.8 689.9,244.8 689.1,240.2 689.1,240.2 688.1,235.6 688.1,235.6 686.8,231 686.8,231 686.8,231 685,227.2 685,227.2 683,223.4 681,219.6 681,219.6 679.2,215.8 679.2,215.8 679.2,215.8 679.2,215.8 679.2,215.8 679.2,215.8 679.2,215.8 679.2,215.8 679.2,215.8 679.2,215.7 679.2,215.7 679.3,215.7 679.3,215.7 679.3,215.7 679.3,215.7 679.3,215.7 679.3,215.7 682.3,214.2 682.3,214.2 682.3,214.2 683.8,211.2 683.8,211.2 683.8,211.2 683,206.6 683,206.6 682.3,202.8 682.3,202.8 682.3,202.7 680.7,198.9 680.7,198.9 680.7,198.9 678.4,195.9 676.2,192.8 676.2,192.8 676.2,192.8 676.1,192.8 676.1,192.8 676.1,192.8 675.4,189 675.4,189 675.4,189 673.1,186.7 673.1,186.7 673.1,186.7 673.1,186.7 673.1,186.7 673.1,186.7 673.1,186.7 673.1,186.7 673.1,186.7 673.1,186.7 673.1,186.6 673.8,182.9 673.9,182.9 673.9,182.9 673.9,182.9 676.1,179.1 676.1,179.1 678.4,176 678.4,176 678.4,176 675.2,176 675.2,176 675.2,176 675.1,176 675.1,176 675.1,176 675.1,176 675.1,176 675.1,176 675.1,176 675.1,176 675.1,175.9 675.1,175.9 675.1,175.9 675.1,175.9 675.1,175.9 675.1,175.9 675.1,175.9 675.1,175.9 675.4,174 675.4,174 675.4,174 675,169.6 675,169.5 675,167 675,167 675,167 673.9,162.4 673.9,162.4 673,156.3 673,156.3 671.9,151 671.9,151 670.4,145.6 670.4,145.6 668.9,141 668.9,141 668.9,141 665.8,137.2 665.8,137.2 663.5,133.4 663.5,133.4 663.5,133.4 663.5,133.4 663.5,133.4 662.8,128.8 662.8,128.8 662.8,128.8 660.5,125.8 660.5,125.8 660.5,125.8 656.7,125.5 656.7,125.5 656.6,125.4 652.9,124.2 652.9,124.2 652.8,124.2 652.8,124.2 652.8,124.2 652.8,124.2 652.8,124.2 650.6,121.2 650.6,121.2 650.5,121.2 650.5,121.2 650.5,121.2 650.5,121.1 649.8,116.6 649.8,116.6 649.8,116.6 649.8,116.6 650.5,112.1 650.5,112.1 650.5,112.1 650.5,112.1 650.5,112 650.5,112 650.6,112 650.6,112 650.6,112 650.6,112 650.6,112 650.6,112 650.6,112 650.6,112 650.6,112 651.8,112 651.8,112 651.8,112 653.8,107 653.8,107 653.8,107 653.8,107 653.8,107 653.8,107 653.8,107 657.6,104.5 657.6,104.5 657.6,104.5 660.2,100.6 660.2,100.6 662.7,95.5 662.7,95.5 662.7,95.5 661.4,90.4 661.4,90.4 661.4,90.4 657.6,91.2 657.6,91.2 657.6,91.2 653.8,95.5 653.8,95.5 653.8,95.5 651.8,100.6 651.8,100.6 650,107 650,107 650,107 650,107 650,107 649.9,107 646.2,110.8 646.2,110.8 646.1,110.8 646.1,110.8 646.1,110.8 646.1,110.8 642.6,112 642.6,112 642.6,112 642.6,112 642.3,112 642.3,112 642.2,112 642.2,112 642.2,112 642.2,112 642.2,112 642.2,112 642.2,112 639.8,109.6 639.8,109.6 639.8,109.6 636,107 636,107 636,107 635.1,106.7 635.1,106.7 635.1,106.7 635,106.7 635,106.7 635,106.7 635,106.7 635,106.7 635,106.7 635,106.7 635,106.6 635,106.6 635,106.6 635,106.6 635,105.2 635,105.2 635,105.2 629.7,105.9 629.7,105.9 629.7,105.9 629.6,105.9 629.6,105.9 629.6,105.9 625.9,104.4 625.8,104.4 625.8,104.4 625.8,104.4 625.8,104.4 625.8,104.4 625.8,104.4 623.9,101.4 623.8,101.4 623.8,101.3 623.8,101.3 623.8,101.3 623.8,101.3 623.5,96 623.5,96 622.8,90.6 622.8,90.6 622.8,90.6 619,88.3 618.9,88.3 618.9,88.3 614.4,90.6 614.4,90.6 614.4,90.6 614.4,90.6 614.4,90.6 614.4,90.6 614.3,90.6 614.3,90.6 614.3,90.6 614.3,90.6 612.9,89.9 612.9,89.9 612.9,89.9 612.9,89.9 612.9,89.9 612.9,89.9 612.9,89.9 612.9,89.9 612.9,89.9 612.9,89.8 612.9,89.8 612.9,89.8 612.9,89.8 612.9,89.8 612.9,89.8 612.9,89.8 614.4,85.3 614.4,85.3 614.4,85.3 612.8,80.7 612.8,80.7 612.8,80.7 609.8,76.9 609.8,76.9 606.7,73.8 606.7,73.8 606.7,73.8 606.7,73.8 606.7,73.8 606.7,73.8 606.7,73.8 606,70.1 606,70.1 606,70.1 606,70.1 606,70.1 606,70.1 606,70.1 606,70.1 606,70 606,70 606,70 606,70 606,70 606,70 606,70 606,70 606.1,70 606.1,70 606.1,70 610.5,70 610.5,70 610.5,70 610.5,66.2 610.5,66.2 610.5,66.2 606.7,62.4 606.7,62.4 606.7,62.4 600.3,62.4 600.3,62.4 600.3,62.4 600.3,62.4 600.3,62.4 600.3,62.4 600.3,62.4 600.3,62.4 600.3,62.4 596.5,58.6 596.5,58.6 596.5,58.6 596.5,58.6 596.5,58.6 596.5,58.6 596.5,58.6 595.2,53.5 595.2,53.5 595.2,53.5 590.1,51 590.1,51 590.1,51 585,52.2 585,52.2 585,52.2 585,58 585,58 585,58.1 585,58.1 585,58.1 585,58.1 585,58.1 585,58.1 585,58.1 585,58.1 585,58.1 579.9,61.1 579.9,61.1 579.9,61.1 576.1,65 576.1,65 572.3,70 572.3,70 572.3,70 572.3,70 572.3,70 572.3,70 572.3,70 572.3,70 569.3,73.1 569.3,73.1 565.4,76.1 565.4,76.1 560.9,79.2 560.9,79.2 557,81.5 557,81.5 557,81.5 553.2,83 553.2,83 553.2,83 551.7,85 551.7,85 551.7,85 551.7,85 551.7,85 551.7,85 551.7,85 551.7,85 551.7,85 551.7,85 551.4,85 551.4,85 551.4,85 550.9,88.1 550.4,91.1 550.4,91.1 550.4,91.1 550.4,91.1 550.4,91.1 550.4,91.1 550.4,91.1 548.4,93.1 548.4,93.1 548.4,93.1 548.4,93.1 548.4,93.2 548.4,93.2 548.3,93.2 545.3,93.7 545.3,93.7 545.3,93.7 542.8,95.2 542.8,95.2 540.3,97.2 540.2,97.2 540.2,97.2 540.2,97.2 540.2,97.2 540.2,97.2 540.2,97.2 540.2,97.2 537.2,97.2 537.2,97.2 537.2,97.2 537.2,97.2 533.6,96.2 530,95.2 530,95.2 526.5,94.7 526.5,94.7 526.5,94.7 522.9,95.2 522.9,95.2 522.9,95.2 519.8,96.2 519.8,96.2 519.8,96.2 517.8,98.2 517.8,98.2 517.8,98.2 517.8,98.2 517.8,98.2 517.8,98.2 517.8,98.2 517.8,98.2 517.8,98.2 517.8,98.2 517.7,98.2 515.8,97.7 515.8,97.7 512.7,97.2 509.7,96.7 509.7,96.7 509.7,96.7 509.6,96.7 509.6,96.7 506.6,94.7 506.6,94.7 506.6,94.7 503,93.7 503,93.7 503,93.7 499.5,93.7 499.5,93.7 499.5,93.7 496.4,94.7 496.4,94.7 496.4,94.7 493.9,96.2 493.9,96.2 493.9,96.2 491.8,99.3 491.8,99.3 491.8,99.3 490.8,103.3 490.8,103.3 490.3,107.4 490.3,107.4 490.1,111.5 490.1,111.5 490.1,111.5 490.5,115.6 490.5,115.6 490.5,115.6 490.3,119.5 490.3,119.5 490.3,119.5 490.3,119.5 490.3,119.5 490.3,119.5 490.3,119.6 490.3,119.6 490.3,119.6 490.3,119.6 490.2,119.6 490.2,119.6 490.2,119.6 490.2,119.6 490.2,119.6 490.2,119.6 490.2,119.6 490.2,119.6 490.2,119.6 490.2,119.6 490.1,119.6 488.3,118.6 488.3,118.6 488.3,118.6 488.2,118.6 488.2,118.6 488.2,118.6 486.2,115.6 486.2,115.6 484.2,113 484.2,113 484.2,113 482.1,111.5 482.1,111.5 482.1,111.5 479.6,112.5 479.6,112.5 479.6,112.5 477,114.5 477,114.6 477,114.6 475,115.6 475,115.6 475,115.6 475,122.6 475,122.6 475,122.6 475,122.6 475,122.6 475,122.6 475,122.6 475,122.6 475,122.6 475,122.6 475,122.7 474.5,122.9 474.5,122.9 470.7,126 470.7,126 466.9,129.8 466.8,129.8 463,132.9 463,132.9 463,132.9 463,132.9 459.2,134.4 459.2,134.4 459.2,134.4 459.2,134.4 455.4,134.9 455.4,134.9 455.4,134.9 453.1,136.7 453.1,136.7 453.1,136.7 453.8,138.9 453.8,138.9 453.8,138.9 453.8,138.9 453.8,138.9 453.8,138.9 453.8,139 453.8,139 453.8,139 453.8,139 453.8,139 453.8,139 453.8,139 453.8,139 453.8,139 453.8,139 450.8,140.5 450.8,140.5 447,142 447,142 444.2,143.6 444.2,143.6 444.2,143.6 443.2,146.6 443.2,146.6 443.2,146.6 443.6,150.4 443.6,150.4 443.6,150.4 443.6,150.4 443.6,150.4 443.6,150.5 443.6,150.5 443.6,150.5 443.6,150.5 441.6,152.7 441.6,152.7 441.6,152.7 442.4,156.6 442.4,156.6 442.4,156.6 444.4,159.8 444.4,159.9 444.4,159.9 444.4,159.9 444.4,159.9 444.4,159.9 444.4,159.9 444.4,159.9 444.4,159.9 444.4,159.9 444.4,159.9 444.4,159.9 444.4,160 444.4,160 444.3,160 444.3,160 444.3,160 444.3,160 444.3,160 444.3,160 444.3,160 444.3,160 444.3,160 444.2,160 444.2,160 444.2,160 443.4,164.6 443.4,164.6 441.9,169.9 441.9,169.9 441.9,169.9 441.9,169.9 441.9,170 438.8,174 438.8,174 438.8,174.1 438.8,174.1 438.8,174.1 438.8,174.1 438.8,174.1 435,175.3 435,175.3 435,175.3 435,179.5 435,179.5 435,179.5 435,179.5 435,179.5 435,179.5 435,179.6 435,179.6 435,179.6 431.7,182.5 431.7,182.5 431.7,182.5 430.2,185.6ZM444.1,47.1 444.1,47.1 444.1,50.4 444.1,50.4 444.1,50.4 447.4,53 447.4,53 447.4,53 453.8,54 453.8,54 460.1,54.8 460.2,54.8 460.2,54.8 460.2,54.8 460.2,54.8 465.3,57.3 465.3,57.3 470.3,59.1 470.4,59.1 470.4,59.1 475.4,58.6 475.5,58.6 481.8,58.6 481.8,58.6 481.8,58.6 486.9,57.3 486.9,57.3 486.9,57.3 488.2,53.5 488.2,53.5 488.2,53.5 483.1,52.2 483.1,52.2 483.1,52.2 478,52.2 478,52.2 478,52.2 478,52.2 478,52.2 478,52.2 472.9,49.7 472.9,49.7 472.9,49.7 469.6,47.2 469.6,47.2 469.6,47.2 469.6,47.1 469.6,47.1 469.6,47.1 469.6,47.1 469.6,47.1 469.6,47.1 469.6,47.1 469.6,47.1 469.6,47.1 470.3,41.3 470.4,41.3 470.3,41.3 466.5,43.3 466.5,43.3 466.5,43.3 462.7,47.1 462.7,47.1 462.7,47.1 458.9,49.7 458.9,49.7 458.9,49.7 458.9,49.7 458.9,49.7 458.9,49.7 458.9,49.7 458.9,49.7 458.8,49.7 458.8,49.7 453.8,47.9 453.8,47.9 448.7,45.4 448.7,45.4 448.7,45.4 444.1,47.1ZM428.8,81 428.8,81 430.9,85.3 430.9,85.4 430.9,85.4 436,87.9 436,87.9 442.3,90.4 442.3,90.4 447.4,91.7 447.4,91.7 447.4,91.7 453.8,90.4 460.2,89.2 460.2,89.2 460.2,89.2 462.7,84.1 462.7,84.1 462.7,84.1 461.4,79 461.4,79 461.4,79 453.8,77.7 453.8,77.7 453.8,77.7 443.6,78.5 443.6,78.5 434.7,79 434.7,79 434.7,79 428.8,81ZM428.6,136.7 428.6,136.7 429.9,139.4 429.9,139.4 429.9,139.4 432.9,141.3 432.9,141.3 436,142.8 436,142.8 436,142.8 437.8,140.1 437.8,140.1 437.8,140 435.1,136.7 435.1,136.7 435,136.7 431.7,133.9 431.7,133.9 431.7,133.9 428.6,136.7ZM400.4,108.4 400.4,108.4 400.8,112.2 400.8,112.2 400.8,112.2 403.4,113 403.4,113 403.4,113 406.5,109.9 406.5,109.9 406.5,109.9 408.8,105.4 408.8,105.4 408.8,105.3 408,101.5 408,101.5 408,101.5 404.9,100.8 404.9,100.8 404.9,100.8 401.9,103.8 401.9,103.8 401.9,103.8 400.4,108.4Z" fill="#2a2aff"/>
<path d="M439.4,181.2 439.5,181.8 441.2,185.2 450.3,191.3 454.1,195.2 457.1,200.4 459.5,205.9 462.5,210.4 465.6,214.4 468.2,218.7 469.8,223.4 469.9,228.2 470.9,232.7 472.4,237.2 473.2,241.7 471.7,250.9 471.4,255 471.1,255.6 470.2,256.3 469.9,256.9 469.1,262 468.6,269.4 470.3,284.7 472.9,291.2 478,296.3 481.2,301.2 481.8,307.6 481.7,309.1 481.3,309.7 480.6,310 478.4,310.1 477.5,310.9 477.9,314.6 476.5,319.2 476,323.4 476.2,324.1 478,327.6 480.3,330.7 481.8,334.7 482.1,339.1 481,343.7 480.3,348.3 481.1,352.8 482.6,357.4 483.4,362.1 483.6,366.6 482.1,380.3 482.1,384.8 484.1,403.3 484.5,405.2 484.9,405.8 485.5,406 488.1,406 489,406.7 498.2,429.2 498.7,429.8 500,430.1 500.7,430.7 501.3,434.5 500.6,439.2 498.3,443.8 494.4,447.6 490.8,450.6 486.8,453 483,456 480,459.8 477.7,464.3 476.3,469.2 475,470.7 475,476.2 473.9,479.6 467.8,487.3 465.8,492 465.1,497.4 465.4,502.6 466.2,508 465.7,511.1 464.6,512.2 464.3,512.9 464.8,516.3 467.9,520.4 470.1,525 470.5,529.7 472.4,538.7 471.7,543.4 471.4,548 472.5,552.5 475,556.2 478.7,559.5 487.8,570.8 491.6,573.1 496.1,573.9 500.9,575.5 505.3,577.7 509,579.9 512.2,583.2 515.2,591.2 515.9,591.6 519.2,592.2 522.9,590.7 526.7,588.4 530.3,587 534.5,587.5 537.6,585.1 539.7,580.7 545.9,562.3 550.4,553.4 551.3,550.8 552.2,550 552.8,548.7 555.9,537.6 558.4,529.9 559,526.3 557.9,524.8 557.9,523.8 559.7,519.5 565.7,512.7 567.9,509.5 568.6,505.8 567.1,501 567.3,498.9 569.3,496.1 571.2,492.2 573.3,488.9 573.9,488.4 575.3,488.1 576.4,487 582.3,482.6 588.5,476.3 594.5,471.4 597.6,469.5 600.7,468.7 603.6,467.3 606.7,465 609.9,461.8 613.3,459.1 624.4,449.6 627.7,445.8 630.1,441.8 632.2,436.5 632.9,436 634.7,435.9 635.5,435.3 638.4,423.4 640,418.7 642.1,414.9 644.9,411.5 647.8,409.2 651.1,407.2 654.1,405.7 665.5,401.2 669.3,399.3 673.2,397.3 676.9,394.8 680.8,391.7 687.4,384.3 694,380.1 697.1,377.1 699.9,373.3 702.7,369 706.8,359.9 708.2,355.6 707.8,351.4 705.2,348.8 701.4,346.9 687.8,342.4 686.7,341.7 686.2,341 686.1,339.6 684.5,336.9 683.5,332.6 684.6,327.8 686,323.7 685.3,320.3 682.4,317.7 682.3,315 685,311 686.9,306.3 689.1,301.9 690.2,297.2 689.9,291.8 690.2,286.5 689.6,281.2 687,272.7 685.5,271.1 685,267.7 685.4,263.1 688.3,255.4 686.9,246.7 687.6,242.5 686.9,238 685.6,233.3 684.1,228.7 678.5,216.1 676.1,212.6 674.6,208.1 671.6,204.3 668.4,201.1 666.2,198 665.8,194.8 666,194.1 668.4,191.4 671.5,188.6 671.8,188 671.6,183.6 672.3,179.8 673.5,176.8 673.4,176.2 672.6,174.8 673,170 671.5,159.4 669.3,148.7 667.4,143.4 664.3,139.5 662.1,135.1 660.5,130.5 656,127.3 651.4,125 648.8,121.1 645.2,118.9 640.7,116.6 638.4,112.3 637.6,112 635.9,111.9 635.2,111.4 635,110.8 635,107.7 634.6,107.1 634.1,106.7 631.9,106.8 629.2,108.7 628.8,109.4 628.3,112 627.7,113.4 624.6,115.7 620,115.8 615.8,115.1 615.2,114.7 614.4,113.5 614.8,112.4 615.6,112 618.6,111.9 619.2,111.4 619.4,110.5 615.2,102.2 612.9,96.2 611.3,84.5 605.2,75.3 603.5,71.3 603.5,69.8 602.9,68.9 597.8,65 595.1,59.9 590.4,57.5 589.5,57.6 585.3,59.8 585,60.5 584.8,65 581.3,67.7 581,68.3 581,69.3 581.7,69.9 585.2,70 586,70.6 586.2,71.7 585.1,74 582.7,75.8 582.1,76 577.6,74.6 574,73.9 569.8,74.7 566.1,76.9 562.3,80 558.7,82.2 555.3,83.7 554.2,84.8 552.7,85.3 552.3,86.1 551.4,93.1 550.1,95.8 549.4,96.3 546.7,96.8 543.7,98.3 540.8,100.2 537,100.8 533.5,100.3 529.9,99.3 526.4,98.8 522.9,99.3 516.9,101.2 514.2,99.8 511.8,98.8 508.4,99.1 502.4,96.3 499,96.7 495.9,98.3 493.9,100.8 492.8,104.4 492.3,108.4 492.1,112.4 492.3,116.7 491.9,120.2 491.5,120.8 489.2,122.1 483.3,120.2 480.1,121.2 477.6,123.2 475.3,124.2 474.6,125.4 466.1,132.8 462.2,136.7 450,142.1 447.3,143.4 446.8,143.8 445.6,146.3 445.5,147.1 447.7,159.1 448.1,159.8 449.5,160.5 449.8,161.6 448.7,164.7 446.4,169.3 443.5,173.7 440.4,177.6ZM689.8,318.6 689.1,319 688.8,319.7 689.2,322.6 690.2,323.2 692.6,322.7 693,322.2 693.1,321.6 692.6,318.9 691.7,318.4ZM653.3,100.6 653.6,101.2 654.1,101.5 655.8,101.7 658.7,98.3 659.3,94 658.7,92.9 657.1,92.4 656.5,92.5 655.2,94 653.3,96.8ZM480,53.5 479.3,53.9 478.9,54.7 479.2,56.6 479.7,57.3 480.5,57.5 484.5,57.4 485.4,56.8 485.6,56.2 485.6,54.6 485,53.7ZM467.2,49.2 466.4,49.6 466.1,50.4 466.5,56.4 466.7,57.1 467.8,57.6 473.3,57.6 474.1,57.3 474.6,56.3 474.2,50.4 472.2,49.2ZM453.3,451.2 455,455.1 455.9,455.6 457.9,456.1 458.9,455.7 460.5,453.4 461.3,453 465.7,453.2 466.2,452.9 467.9,453.8 467.8,454 469,454.4 472.9,454.2 473.5,453.8 473.8,453.1 473.8,450.5 473.3,449.7 468.6,449 467,447.1 460.3,443.2 457.1,443.4 456.3,443.9 454.5,446.5ZM458.4,49.8 457.8,50.2 457.5,51 458.2,53.5 459.2,54 461.1,53.6 461.5,53.1 461.7,52.5 461,50.1 460.1,49.6ZM448.1,81.4 447.6,81.8 447.3,82.4 447,86.5 449.5,89.8 450.1,90.1 450.8,90 455.1,87.8 457.2,83.6 457.2,83 456.8,82.3 453.6,80.3ZM434.3,138 433.7,138.9 433.9,140.5 435.1,141.5 436.2,141.4 437.1,140.3 437,139.2 436,137.8 435.2,137.7Z" fill="#33aaff"/>
<path d="M442.9,180.2 443,181.1 444.9,183.6 449.5,186 453.2,188.9 456.3,192.7 459.1,198.1 461.3,203.6 464,208.5 469.8,216.7 471.7,221.1 474.8,224 475.2,224.6 475.9,228.1 475,232 474.8,236.3 475,241 474.5,245.5 473.2,250.2 471.6,269.6 474.2,283.6 477.3,288.7 481.3,293.8 483.9,299.9 484.4,306.5 484.2,308.9 483.9,309.5 483.4,309.9 480.7,310.1 479.8,310.9 480.3,314.7 478.8,323.6 480.2,327.5 483.1,330.7 484.8,334.3 485.6,338.9 483.7,348.3 484.1,352.9 486.4,362 486.7,366.4 485.6,380.4 485.6,385 486.1,389.4 487.2,394.1 490.8,405.3 491.6,405.9 493.7,406 494.4,406.4 498.3,412.9 501.7,419.5 504.2,425.7 504.7,428.6 504.5,429.3 503.6,430.2 503.3,431 504.4,434.6 505.2,439.2 505.2,447.5 505,448.3 502.1,449.9 494.5,452.9 486.9,457.5 483.8,460.6 482.2,464.4 479.9,467.5 477.6,469.8 475.8,470.1 475.1,470.8 474.9,479.6 472.4,483.4 469.3,487.3 467.3,492 466.7,497.3 467.7,508 467.3,511.1 466.5,512.6 467.1,516.3 469.8,520.4 471.7,525 474,538.7 473.5,543.4 473.6,548.1 474.5,552 476.9,555.4 480.6,557.9 483.5,560.8 488.4,568.5 491.5,571 492.3,571.2 495.4,570.9 499.1,571.3 503,572.8 506.9,574.7 510.7,577 513.6,579.9 515.3,583.9 517.4,586.7 520.8,587.6 523.8,586.8 526.4,584.6 529.6,582.7 533.6,582.5 535.8,580.1 537.8,576.1 542.3,562.5 544.3,557.8 548.4,550.5 549.1,550 550.8,549.9 551.6,549.3 555,533.2 557.6,524.7 560.3,517.8 562.9,514.5 566.9,508.3 568.1,504.7 568.1,504 567,500.6 563.2,494 563.1,493.1 564.3,490.3 572.4,482.8 574.8,480.9 575,480.2 575,475.7 575.3,475 581.6,468.7 583.9,465.2 585.7,464 586.6,463.9 588.8,464.6 591.5,467.2 593.6,468.5 594.2,468.6 596.8,468 599.9,466.1 607.6,460.3 615.3,454.9 622,448.4 625.1,445 627.4,441.3 629.8,436.4 630.6,436 633.6,436 634.5,435.4 636,428.6 639.1,419.5 641.1,415.6 643.6,411.9 646.4,408.5 649.5,405.7 652.5,403.9 663.2,399.9 670.8,396.3 674.6,393.8 678.1,391.2 681.5,388.2 687.9,381.4 694.5,376.7 697.5,373.7 700.2,369.9 702.6,365.3 705.9,356.2 705.3,352.4 705.1,351.8 702.1,349.4 697.7,348 692.9,346.9 688.3,345.3 683.9,343.1 682.9,342.1 682.6,341.4 682.8,340.7 683.7,339.8 684,339 683,336.9 682,332.2 683,327.8 684.5,323.8 683.5,320.7 681,318 680.9,315.2 683.1,310.1 684.6,305.6 686.9,301.7 688,297.1 686.7,293.3 683.8,291.1 680,289.5 678,286.9 677.8,286.2 678.5,282.7 680.8,279.6 682.9,275.9 682.6,273.1 683.6,271.6 683.4,269.5 684.4,267.8 684.1,264.9 683.7,263.5 686.5,256.3 684.6,247.9 685.6,243.3 685,238.6 684.1,234 682.6,229.5 678.9,220.7 674.3,212.7 672.7,208.1 670.1,204.4 666.9,201.4 658.8,202.7 658.1,202.3 656.2,200.5 656.2,199.8 656.9,197.2 657.3,196.5 660.8,194.7 664.9,194 666.3,192.3 666.5,191.6 666.3,190.9 663.6,188.9 661.9,185.8 661.9,185 664,182 667.6,178.4 669.2,177.2 669.5,176.1 668.1,172.3 663.4,163.1 660.4,159.3 652.8,154.7 650.6,151.7 649,146.4 646.6,141.7 643.6,137.9 639.9,135 636.1,132.6 634.5,130.2 634.3,129.3 634.7,128.5 637.6,127.2 639.7,125.6 640,124.9 639.8,124.1 637.5,121.1 634.5,116.6 632.3,114.4 631.6,114.1 630.6,114.4 629.6,115.4 629.3,115.9 630.4,119.8 630.4,120.5 627.6,123.4 622.3,124.2 617.7,122.6 615.3,118.1 612.7,113.8 612.7,112.9 613.6,111.8 613.7,110.9 611.2,105.8 608.3,102.2 600.7,99.1 598.7,96.4 598.7,95.8 598.9,95.2 602.9,90.4 603.6,86.9 602.7,84.9 602,84.5 601.2,84.5 595.3,88.3 591.8,89.7 590.9,89.7 587.6,88.2 584.6,80 582.2,77.8 579.7,78.3 579,78.7 576.9,81.4 575.5,85 575,85.5 571.6,87.6 562.4,90.6 558.6,92.9 556.8,94.6 555.7,94.5 554.5,93.4 553.5,93.5 552.9,94.1 552.5,95.3 550.5,98.1 547.3,98.8 544.3,100.3 540.9,102.2 540.1,103.2 538.1,104.4 535.1,104.9 532.2,104.4 529.6,102.9 528.3,101.2 526.7,100.8 523.4,101.3 517.6,103 516.2,102.8 514.6,103.3 512.8,103.1 511.4,101.9 508.2,100.8 505.1,99.3 501.7,98.3 497.7,99.4 495.4,101.4 494.2,104.2 493.6,107.9 493.5,110 494,110.7 494.7,110.9 499.5,110.3 502.1,110.5 502.7,110.9 503.2,111.7 503.4,112.3 503.2,112.9 501.9,114.1 501.3,114.3 498.9,114.7 495.5,114.3 494,114.8 493.6,115.7 493.8,119.1 492.9,122.4 490.3,124.7 487.1,126.3 481.2,128.3 476.7,130.3 475.8,130.3 474.6,129.5 473.8,129.5 471.1,131.3 468.2,134.3 466.6,138.4 468.1,142.8 469.5,145.2 469.4,146.3 466.7,149 459.3,153.5 456.9,154.1 456.3,154.5 455.4,158.8 455.3,160.9 453.6,164.7 451,169.2 448,173.7 444.2,177.1ZM593.1,66.7 592.5,67.1 592.2,67.7 592.3,70.3 592.7,72 593.5,72.9 594.9,72.8 595.7,72.2 596,70.7 596.5,69.7 596.3,67.3 595.9,66.8 595.3,66.4ZM468.2,50.2 467.6,50.6 467.2,51.4 467.7,55.4 468,56.1 469,56.6 472.3,56.6 473,56.3 473.5,55.2 473,51.3 472.7,50.7 471.9,50.2ZM454.6,446.6 454.5,447.3 455.1,451.1 455.5,451.6 457.6,452.8 458.2,452.8 460.9,452.2 464.7,452.8 467,451.8 467.5,451.1 467.1,448.1 466.7,447.4 460.2,443.6 456.7,443.8Z" fill="#00ffff"/>
<path d="M448.9,178.2 449.6,182.2 455.6,188.2 458.7,192.2 463.3,202.8 465.6,207.4 468.6,211.6 471.8,215.1 477.1,222.3 477.8,225.7 476.6,234.8 477,239.6 475.1,255.8 475.2,256.8 474.2,269.7 475.4,277.2 476.7,282.7 479.7,287.3 483.9,292.7 486.4,298.9 486.9,305.7 486.9,308.8 486.6,309.5 485.9,310 483.1,310.1 482.5,310.5 482.2,311 483,314.7 482.2,323.7 484.1,326.8 486.4,329.8 487.9,334.5 488.2,339 487.2,348.4 487.9,352.8 489.5,357.4 491.8,366.6 492.5,371.2 493.3,380.4 496.3,398.6 497,405.1 497.4,405.6 497.9,405.9 500.7,406 501.4,406.3 504.7,411.7 507.8,419.5 509.8,426.9 510.3,429.8 512.8,433.8 515.1,438.4 515.9,442.9 515.3,446.8 514.9,447.6 508.1,450.4 507.5,450.9 506.4,455.2 506.7,458.9 506.2,459.9 502.1,461.3 497.5,462.1 493,463.6 489.1,466.7 486.7,469.7 485.1,470.1 484.6,470.4 482.9,476.5 481.4,480.1 478.2,482.7 475.3,484.1 474.8,485.8 472.3,488.9 470.4,493.3 469.3,498.8 470,509.4 469.6,511.1 469,512 468.9,512.7 469.8,516.5 472.5,520.5 474,525.1 474.7,529.5 475,533.3 475,549.1 475.4,549.8 476.5,550.5 477.1,551.8 480,554.7 483.7,556.7 486.3,559.5 486.6,560.6 485.8,561.8 485.6,562.4 486.1,564.3 486.5,564.9 488.4,565.4 490,565.4 491.4,567.1 494.5,568.8 498.5,568.3 502.2,569.7 512.5,575.4 515.7,578.1 517.6,581.6 519.7,584.4 520.5,585 521.1,586.3 521.8,586.7 523.4,586.8 524.3,586.1 525.4,582.8 528,580.3 528.5,580 532,579.2 534.4,576.9 536.2,573.1 538,568 539.1,566.7 540.1,563.5 540,561.9 542,556.3 545.5,550.5 546.4,550 549.6,549.9 550.3,549.3 552.7,537.5 556.6,523.4 558.1,519.7 560.3,516 563.6,512 566.1,508.1 567.3,504.7 567.2,504 566.1,499.9 564.2,495.6 561.5,492.1 560.7,489.8 560.9,488.8 562.9,487.2 571.7,479 574.7,477.1 575,476.4 575,473.1 575.2,472.5 580.7,467.3 583.5,463.6 585.4,462.4 586.3,462.3 588.5,463.2 592.8,467 593.6,467 595.8,466.4 598.7,464.6 613.3,454 620,447.9 622.9,444.2 627.6,436.3 628.3,436 632.5,436 633.3,435.6 633.6,435.1 636,427.2 638,422.6 639.6,417.5 641.5,413.5 644,409.6 647.1,406.1 650.1,403.5 653.2,401.5 656.8,400.5 664.5,397.7 675.6,391.7 679.2,388.6 686.2,381.5 689.1,379 692.7,376.6 695.7,373.6 698.6,369.9 701.1,365.3 703.3,360.6 704.4,355.9 702.9,352.3 699.1,350.4 694.4,349.2 690.1,348.9 685.4,349.1 681.3,347.8 680.6,347.3 678.5,343.8 677.6,341.3 677.8,340.6 678.3,340.2 680.2,340 680.9,339.6 681.9,336.4 681.1,331.6 682.3,327 683,322.7 682.8,322.1 681.1,319.3 680.8,315.7 683.4,308 683,303.6 682.6,303 680.3,301.3 679.7,301.1 675.3,301.8 669.1,303.7 668.2,303.4 667.7,302.6 667.9,301.7 670.8,297.9 671.5,293.5 669.3,289.6 667.7,285.8 665.5,272.6 664.5,271.4 663.7,269.4 662.8,265.1 664,260.7 666.9,257.1 669.9,254.1 673.9,252.4 677.6,251.7 680.8,249.2 682.3,245.5 683,241.1 681.9,236.3 680,231.8 675.4,222.7 672.9,219 669.3,216.1 665.5,214.2 662.6,212 661.5,207.9 659.4,204.3 656,201.2 653.3,197.6 651.9,194.1 651.8,193.2 653.2,189.7 654.5,185.1 655,180.7 655.1,176.9 654.8,176.2 653.9,175 652.1,162.5 651,158 647.4,155.6 638.4,154.8 634.4,153.1 632.2,149.4 631.5,145.3 631.7,144.5 633.2,142.4 633.1,141.3 631.3,139.5 622.3,136.4 618.4,133.3 616.2,128.9 615.3,124.2 613.2,119.8 608.5,113.8 608.4,113 608.8,112.4 609.3,112.1 611,111.8 611.5,111.2 611.6,110.6 610.5,108.2 607.4,104.3 599.9,99.9 596.9,97.7 596.3,97.6 592.9,98.2 590.1,97.5 588,94.4 584.4,91.4 580,89.9 576.1,89.6 572.3,89.9 563.2,92.9 559.2,95.3 555.3,99.3 554.9,100.7 554.4,101.3 546.3,103.8 543.3,104.4 540.2,105.4 533.3,106.4 529.4,105.9 526,105.9 522.3,106.9 519.5,106.9 516.7,105.4 515.7,105.2 515.1,105.3 514.4,106.1 514.2,107.8 514.7,115.6 514.2,118.9 513.6,119.4 505.7,123.2 504.5,126.3 502.6,129.1 500,131.4 496.8,132.9 493.7,133.9 490.4,132.9 487.2,130.9 484,130.4 475.7,132.7 474.7,132.8 471.6,135.1 470.3,138.9 471.1,143.5 470.7,147.1 469.3,150.2 466.1,153.5 462.1,155.9 457.9,160.3 456.3,164.7 454.2,169.1 451.1,173.7ZM679.6,264.9 678.9,265.4 678.6,266.1 678.8,267.8 679.4,268.5 680,268.7 683.3,268.5 684.2,267.9 684.4,267.2 684.2,265.7 683.6,264.9 683,264.7ZM593.1,66.7 592.5,67.1 592.2,67.7 592.3,68.9 592.7,69.6 593.6,70 595.4,70 596,69.6 596.4,68.7 596.3,67.3 595.9,66.8 595.1,66.4ZM463.3,446.8 462.5,446.9 461.9,447.5 461.7,448.3 462.2,449.2 463.2,451 463.7,451.4 464.4,451.5 465.8,451.2 466.5,450.2 466.1,448.3 465.7,447.8ZM455.9,448.6 456.5,449.2 457.8,449.7 458.5,449.7 459,449.4 460.6,448 460.9,447.4 460.8,446.8 460.1,445 459.2,444.5 457.9,444.5 457.2,444.8 455.7,446.6Z" fill="#96ffb4"/>
<path d="M451.6,178.3 452.2,182.1 454.5,184.7 457.6,187.5 460.2,191.3 464.8,202 467.1,206.6 470.1,210.4 476.2,216.8 479,220.6 479.6,225 478.6,234.1 479,238.7 478.6,243.2 477.8,248 477.1,255.5 477.7,257.1 476.7,269.7 477.7,276.6 479.2,282.2 482.3,286.9 484.4,291.3 488.1,297.5 489.8,299.7 490.7,305.2 491.1,308.7 490.9,309.4 490.2,309.9 485.8,310 485.2,310.2 484.8,310.7 484.6,311.6 485.6,314.8 484.2,323.6 484.5,324.1 486.3,326 489.4,328.4 491,332.9 491.3,337.5 490.2,346.7 490.7,351.3 493.7,360.4 495.6,365.1 497.4,368.8 499.4,371.1 500.5,373.6 502.9,382.6 505.9,391.7 507.2,396.4 508.2,400.9 508.8,404.6 508.7,405.3 508,406.2 507.9,407 510.4,414.3 514.4,429.4 515.5,430.5 520.4,436.8 522.4,440.4 522,441.4 517.8,445.3 516.5,449.1 512.8,450.6 509.2,452.8 506.8,456.7 507.6,461.4 510.5,464.3 514.3,467.4 516.3,469.4 516.6,470.2 516.2,471 515.1,471.9 511.2,473.9 507.5,476.3 503.7,479.5 500.1,481.4 495.3,482.1 490.4,483.3 485.2,485.9 481.4,489.1 475.1,495 475,510.8 474.7,511.5 473.7,512.3 473.4,513.1 475,521.1 475,549 475.3,549.5 475.9,549.9 479.4,550.2 481,552.2 484.2,554.5 487.7,556.4 490.5,559.6 490.5,561.3 490.8,561.9 492.4,562.7 495.3,565.6 495.9,565.8 499.2,565.5 502.9,566.7 510.6,570.4 514.3,572.5 517.3,575.1 520.8,581.3 520.9,582.2 520.4,583.6 520.9,586.1 521.6,586.6 523.4,586.8 524.2,586.2 524.9,584.4 524.9,583.7 524,582.4 524.3,581.3 527.9,577.5 531.5,576 533.6,573.9 535.1,570.3 538.9,566.9 540.1,563.2 539,558.3 541.3,553.5 543.8,550.1 547.8,550 548.7,549.3 551.2,537.5 555,522.8 556.6,519 558.4,515.3 561.7,511.9 564.2,508.2 565.6,504.7 565.5,503.9 564.2,500 562.3,495.5 559.7,492.3 556.4,489.6 554.9,487.3 554.8,486.7 555.1,486.1 557.2,484.6 561.1,483.3 564.9,480.8 571.7,475.2 574.6,473.4 575.3,471.8 579.2,468 584.3,461.6 586.5,460.8 587.2,460.8 589.5,461.9 592.1,464.2 593.8,464.8 594.6,464.6 608.3,455.5 613.8,451.3 616.3,448.9 621,443.8 625.4,436.3 626.1,436 631.4,436 632.2,435.6 632.5,435.1 634.9,426.5 640.5,412.7 643.3,408.5 646,405.1 649.1,402.4 652.2,400.4 663,396.5 670.6,392.7 674.3,390.4 677.8,387.6 684.7,380.9 690.5,375.8 692.3,372 695.6,363 696.8,358 696,354.5 692.8,351.9 688.4,351.5 679.4,352.9 676.5,351.6 673.9,347.6 671.5,341.5 671.6,340.7 672.4,340.1 678.8,340 679.5,339.5 679.9,338.8 679.5,333.9 680.7,329.3 681.4,324.8 679.2,321 677.5,318.7 677.3,317.8 677.6,317.2 680,314.7 681.9,311.1 682.5,306.4 681,303.2 680,302.6 676.1,302.6 671.7,303.3 666.9,304.9 665.1,304.8 664.3,304.3 664,303.3 664.7,301.1 667,297.1 667.7,292.7 665.4,288.8 664,285.2 663.1,280.4 660.3,272.6 659,271.5 658.7,270.7 659.6,265.5 661.2,260.7 663.4,256.3 665.7,252.5 670.3,246.4 671.6,242.5 672.1,237.7 671.6,233.3 669.5,224.1 667.3,220.4 663.9,218 661.2,215.1 659.6,211.2 657.4,207.5 654.2,204.2 651.3,200.6 649.5,197.3 649.4,196.6 649.9,195.1 651.7,192 652.4,188.5 651.7,183.7 649.4,179.8 648,176.5 647.2,176 645.5,175.9 644.8,175.3 643.7,172.4 642.9,167.8 641.4,163.3 638.9,158.8 635.2,155.5 632.1,152.3 630.3,148.7 630.6,144.6 630.3,143.8 627.4,141 618.5,138.8 614.6,136.5 610.8,134.9 606.2,134.2 601.7,132.6 598.6,129.6 593.2,122 589.4,119.7 584.9,119.5 582.8,116.9 582.6,116.2 583.2,112.7 583.8,112.2 585,111.8 586,110.6 588.3,106 588.7,101.7 586.9,97.6 583.8,94.5 580,92.9 575.5,92.2 570.8,92.9 566.3,94.4 562.2,96.4 555.4,102.9 554.9,104.4 554.4,105 545.9,107.9 542.7,109.5 540.2,111.5 536.1,116.6 533,119.2 529.6,120.4 526.1,120.7 518.6,119.7 515.2,120.2 512.1,121.6 507.1,125.3 506.1,127.8 505.4,131.4 504.1,134.7 501.7,137.9 494.8,143.1 486.9,150.3 482.9,152 474.4,153.6 466.9,156.9 462.8,159.9 460.3,160 459.5,160.4 457.9,164.7 453,173.8ZM680,265.4 679.3,265.8 679,266.5 679.2,267.6 679.7,268.2 680.3,268.4 682.9,268.2 683.8,267.6 683.9,266.2 683.3,265.4 682.7,265.2ZM593.1,66.7 592.5,67.1 592.2,67.7 592.3,68.9 592.7,69.6 593.6,70 595.4,70 596,69.6 596.4,68.7 596.3,67.3 595.9,66.8 595.1,66.4ZM488.1,561.1 486.3,561.5 485.8,562 485.7,562.8 486,564.2 486.7,565.1 488.5,565.3 489.1,565 490.1,563.5 490.3,562.5 489.6,561.6Z" fill="#d5ff6a"/>
<path d="M454.1,177.5 454.8,181 455.2,181.7 457.7,184.2 464.8,188.3 467.8,191.4 469.8,195.9 471.8,205.2 474,208.9 480,215 481.6,219.5 480.6,228.9 480.6,233.3 481.2,238.1 480.9,242.5 480.1,247.2 479.4,254.9 479.7,255.7 480.9,256.6 481.1,257.3 480.3,263.2 478.8,270.8 478.8,277.2 480.3,283.6 482.4,287 484.4,291.3 488.1,297.5 491.7,302.3 493.3,306.6 493.7,308.7 493.2,309.7 492.5,310 489.5,310 488.9,310.3 488.5,310.8 488.5,311.6 489.4,314.7 488.1,321.8 488.5,322.6 493.9,326.8 495.2,331.2 495.6,336 494.1,345.2 494.4,349.7 495.5,354.2 496.3,358.9 499.4,368 502.9,381.8 506.3,391.1 508.5,400.1 509.2,405.1 509.8,405.8 511.1,406.3 511.6,406.9 515.4,423.1 517.7,429.5 518.4,430 522.2,430 523,430.4 525.1,433.8 528.4,437.6 532.9,444.6 533.8,444.8 534.6,444.4 535,443.7 535.1,442.1 535.5,441.6 536,441.3 536.8,441.4 538.9,442.5 539.5,443.4 539.3,444.3 537.8,445.9 536.6,446.6 535.2,446.4 534.3,446.7 533,448 530.7,451.7 529.2,456.2 529.8,460.7 527.6,464.7 523.7,468.6 523.7,469.6 524.6,471.1 524.6,471.8 524.1,472.4 517.6,479 513.2,480.8 508.1,481.5 503.8,483.4 501.1,487.9 497.9,492.4 494.2,496.7 490.2,500.6 487.3,504.2 486.5,509.7 487.8,514.6 490.2,519 492.2,523.4 492.8,528.5 490.9,531.5 490.2,532.1 489.2,532 488,530.4 485.5,529.4 484.7,529.6 483.4,530.6 482.9,531.5 483.8,534.1 484.3,534.5 487,535.1 487.7,536 487.1,540.6 486.2,545.2 487,549.2 487.7,549.9 489.3,550 490.1,550.5 492.3,555.6 494.9,559.4 498.1,562.5 513.6,570 517.4,572.3 519.8,575.4 521.8,579.1 523,580.1 523.8,580.2 524.6,579.8 528.6,575 531.5,573.2 533.5,570.8 536,569.7 538.9,566.9 540.1,563.1 539,558.8 538.5,557.7 538.5,556.9 542.1,550.3 542.8,550 546.8,550 547.7,549.3 551.5,529.8 551.8,528.9 552.9,528 553.4,526.6 553,525 552.7,520.9 551.4,510.8 551.2,506.4 550.4,501.7 548.8,498 542.5,492.9 540,489.7 538.1,485.9 536.8,481.6 537.5,477 541,470.5 542,469.7 546.4,467.7 551.1,466.4 560.1,465.2 564.7,465.2 569.3,465.7 573.9,465.2 585.1,460.4 587.9,460.6 588.7,459.8 588.6,457.8 589.9,454.3 593,452.1 596.7,452.7 599.9,456 602.8,456.8 603.4,456.7 606,455 609.9,453.4 613.7,451.4 616,449.2 616.2,448.3 615.7,446.9 615.9,446.2 618.3,443.4 620.6,440.1 623.1,435.8 624,435.4 625.4,436 631,436 632.1,435.4 634.6,426.2 640.2,412.3 643,408.1 645.8,404.5 648.8,402 651.9,400 662.5,396.1 670.1,392.3 673.5,390.2 677,387.4 683.9,380.9 687.9,377.6 689.5,375.9 691.7,372 695,363 696,358.1 695.2,354.5 693.3,352.2 692.8,351.9 688.4,351.5 679.4,352.9 675,350.8 672.7,347.6 670,341.4 670.1,340.7 670.6,340.2 673.2,339.9 673.9,339.5 674.1,338.9 673.8,337.7 670.8,335.4 669.4,333.7 669.2,333.1 669.6,332.1 672.2,330 672.7,327.7 672.6,327 671.1,325.5 670.3,325.2 668,325.5 666.6,327 665.5,327.2 664.8,326.7 663.3,324.1 663.3,323.5 664.5,320.2 665.1,319.4 667.8,318 671.6,318.6 675.2,317.6 679.2,314.5 681.4,311.5 681.3,309.6 681.8,307.4 681.7,306.8 680.3,304.4 679.4,303.7 675.3,303.4 670.9,304.1 666.2,305.3 663.1,304.3 662.5,303.3 662.7,300.3 663.5,296.4 661.6,292.6 660.6,289.1 660.8,284.1 660.1,279.6 658.6,275.8 658,272.5 659.4,265.3 661.6,259.4 665.4,252.5 670,246.4 671.2,242.5 671.8,237.7 671.2,233.3 669.2,224.1 667,220.4 663.6,218 660.9,215.1 659.3,211.2 657.1,207.5 653.9,204.2 650.9,200.5 647.2,192.9 644.4,190.5 641.7,187.4 638.7,184.4 634.9,182.1 630.3,180.6 625.7,180.6 622.2,179.1 621.8,178.5 621.1,176.3 618.9,173.8 616.9,169.3 613.8,164.7 605.5,157.1 600.8,153.5 589.4,143.4 585.7,140.3 581.7,136.4 579.5,131.9 573.9,113.2 574.2,112.4 575,112 583,112 583.7,111.6 584.5,110.5 586.8,106 587.5,101.7 587.4,100.9 585.1,97.4 581.5,95.2 577,94.5 572.3,95.2 567.8,96.8 563.9,99.8 560.9,103.5 558,111.5 557.3,111.9 555.8,112.1 555.2,112.7 555,121.3 554.4,122.3 542.3,126.3 534.6,130.8 531.6,131.8 527.9,131.9 519.8,131.1 515.8,131.4 511.6,132.4 508.1,133.9 505,136 499.4,141.6 497,145.1 495,148.6 494.5,148.9 492.9,149.2 491.3,151.2 488.3,153.5 484.4,154.7 480.6,155.3 476.7,156.3 473,157.8 468.9,160 461.9,160 461.2,160.2 460.7,160.8 457.7,169 455.2,173.4ZM650.6,386.1 651.3,386.1 651.9,386.4 653,387.5 653.2,388.4 652.9,390.5 652.6,391.1 652,391.5 650.1,392.1 649.3,391.7 648.1,390.3 647.9,388.1 648.4,387.2ZM523.6,582.2 523,581.9 522.3,581.9 521,582.7 520.6,583.2 520.4,583.8 520.8,585.7 521.4,586.5 523.4,586.8 524.3,586.1 524.9,584.5 524.9,583.9ZM510.5,123.4 510.3,124.2 510.7,125.4 512.8,126.5 515.9,126.2 517.3,125.1 517.7,124.3 517.4,122.5 515.2,121.2 512.2,121.7ZM486.4,561.4 485.9,561.9 485.7,562.5 486.2,564.7 487.1,565.2 488.2,565.4 488.9,565.2 489.9,563.7 489.8,562.7 488.2,561.1 487.6,561.1ZM475.9,520.2 475.3,520.7 475,521.3 475,524.6 475.3,525.3 475.8,525.7 477,526 479.8,525.3 480.2,524.7 480.6,523 480.3,521.9 478.2,520.1Z" fill="#ffff00"/>
<path d="M456.5,174.9 457.2,179.1 459.5,182.9 463.2,185.9 467,188.3 469.8,191.4 471.7,195.9 473.3,205.2 475.5,208.9 481.6,215 483.1,219.5 482.1,228.7 482.1,233.3 483.6,238 484.7,242.8 483.6,251.7 483.8,254.9 482.9,256.5 482.3,262 480.5,269.6 479.8,277.3 481.4,285 484.4,291.3 488.2,297.5 492,302.7 494.7,308.4 494.7,309.1 494.4,309.6 492.9,310.1 492.3,310.6 489.3,317.5 489.5,321 490.2,321.6 493.3,322.2 496.7,323.6 497.3,324 501.7,331.5 506.3,340.6 512.3,348.1 514.6,352 519.3,361.2 521.9,365.8 525.4,368.8 529.2,371.2 542.9,378 547.5,379.6 551.5,381.9 555.2,384.9 558.1,388.5 559.7,392.3 559.7,393 556.5,406.2 556.3,415 556,415.6 555,416.2 554.6,416.7 551.8,430.4 548.7,439 548.1,441.2 548.3,442 551.9,444.3 563.2,447.3 569.3,448.4 575.4,448.4 580.7,447.8 592.2,444.9 595.6,447.3 598.4,451.2 601.5,454.1 605.2,454.2 609.1,452.7 612.5,450.3 614.5,447.3 619,441.2 621,437.4 622.1,432.9 622.8,428.2 623.1,423.7 622.8,417.2 623.1,416.5 624.2,415.8 624.6,415.2 625,413.5 625.1,409 626.5,407.3 628.4,404.2 631,401.3 634.2,398.9 640.3,395.8 643.2,393.6 647.9,387.5 650.8,386 651.5,386 654.2,386.8 656.3,388.9 657.5,392 659.6,393.6 660.2,393.8 663.3,393.8 667,392.7 674.6,388.7 678.2,385.9 688,377.4 690.5,373.9 692.5,369.9 694.1,365.2 695,361 694.4,357.1 691.9,355 687.4,355 682.7,357.2 673.6,363.2 670.4,366.2 668.7,370.6 668.9,375.1 666.3,378.1 661.6,378.5 653.2,381.2 649.5,380 648.1,376.9 648.1,376.2 649.5,372.1 650.2,367.6 649.5,363 648.2,358.3 647.9,354 649.1,349.2 649.4,344.8 648.5,341.1 649.1,340.2 650.8,339.9 651.6,339.4 652.4,335 652.7,334.5 655,332.4 658.1,331.1 658.6,330.5 660.8,318.9 660.7,318.3 659.4,315.6 656.3,312.4 655.1,308.7 655.5,304.1 655.1,299.5 655.5,295 654.5,290.2 656,281.2 655.7,276.4 656.4,272.9 657.9,271.4 659.6,263.9 661.6,259.4 663.9,254.8 668.2,247.8 669.7,244.2 670.3,239.6 670,234.9 669.3,230.2 668.2,225.7 666.3,222.1 660.1,217 656,209.6 649.3,202.7 646.3,198.8 644.1,195.2 642.2,191.2 636.4,185.2 632.3,182.8 619.1,180.6 616.3,181.1 615.4,180.7 615,179.9 615.1,176.8 615.8,176.1 617.3,175.8 617.9,174.8 616.1,170.1 613,165.7 609.2,162.4 604.7,159.4 600,157.1 595.1,154 590.2,152.1 579.3,152.9 574,152 568.7,150.5 558.7,147.1 555.4,146.5 553.7,147 548.3,145.6 540.1,144.6 537.1,143.5 534.5,141.5 532.1,139 529.2,137.3 524.9,135.9 520.3,135.1 515.8,134.7 511.2,135.1 507,136.5 503.4,138.6 500.5,141.6 498,145.1 496.2,148.4 495.2,149.5 492.8,157.3 490.9,159.8 490.1,160 483.9,160 480.7,161.6 466.3,165.7 461.8,167.9 458.4,170.8ZM668.2,312.7 668.2,313.9 669.6,315.7 672.3,316.6 676.2,316.3 679.2,314.5 681.2,311.8 681.4,311 681.1,308.5 680.4,307.7 677.8,306.9 674,307.9 670,310.2ZM666.4,327.6 666.3,328.2 667,330.5 667.5,331 669.1,331.7 670.2,331.6 672,330.3 672.3,329.8 672.6,327.1 670.8,325.3 667.9,325.6ZM561.4,112 560.7,112.4 560.4,113 560.4,116.5 562.6,120.3 566.4,122.5 567.1,122.5 570.1,121.1 570.5,120.5 571.4,116.4 570.4,112.3 569.7,111.2 568.6,103.7 568.1,102.8 566.2,102.2 564,103.5 563.8,104.5 564.9,111 564.6,111.6 564,111.9ZM488.3,549.1 488.9,549.9 490.2,550.1 490.8,550.5 494.6,557.8 497.7,561.2 501.5,563.7 511.4,568.4 518.3,570.8 522.8,571.6 527.4,571.9 532.1,571.3 536.1,569.6 538.9,566.9 540.1,563.2 539,558.7 536.6,554.7 536.1,551.4 536.2,550.8 536.6,550.3 537.1,550 542.3,550 543.3,549.4 544.5,545.7 546.4,541.2 547.6,536.2 548.5,529.8 549.3,529.1 550.7,529.1 552.4,528.4 552.9,528 553.3,526.9 553.2,526.1 552.7,525.6 551.6,525.2 550,525.4 549.5,525.1 549.1,524.4 549.5,521 549.1,516.5 546.7,508.4 546.9,507.8 548.2,505.7 548.8,502.1 547.6,498.7 544.7,496.8 541.3,497 538.7,498.7 536.7,500.6 533,501.9 529.1,504.2 522.4,509.7 516.3,517 510,522.9 507.9,526 506.4,528.8 506,529.2 504.2,529.7 503.5,529.6 503,529.2 502,527.1 501.5,526.7 499.8,526.2 498.9,526.6 497.3,528.6 497,531.9 496.7,532.5 496.2,532.9 493.4,533.7 490.5,535.5 488.5,538.7 487.7,545.2Z" fill="#ffb200"/>
<path d="M655.3,382.2 653.7,382.4 653.2,383 653.1,383.7 653.4,384.4 656.4,386.7 658.7,389.7 661.7,391.2 665.6,391.6 669.4,390.4 673.2,388.6 677,385.8 686.8,378 689.5,374.4 691.6,370.3 693.2,365.6 694.1,361.4 693.4,357.7 690.3,355.7 685.8,356.1 681.2,358.7 676.6,361.7 672.7,364.8 670.3,368.3 669.1,372.7 669.6,377.4 670.7,380.9 670.6,381.6 669.8,382.5 668.9,382.7 665.5,381.6 661,381 656.5,381.6ZM672.1,313 672.1,313.9 672.7,315.1 674.6,315.6 675.3,315.6 678,314.5 680.1,312.3 680.4,311.6 680.3,309.8 679.6,309.1 678.1,308.5 677.3,308.6 674.3,310ZM478.1,204.3 479.4,209 481.7,212.8 483.6,216.6 483.6,221.1 482.7,225.8 482.4,230.4 483.1,234.1 485.1,238 486.2,242.5 485.8,247.1 486.6,255.2 484.4,272.1 484.9,279.6 488.2,286.1 499.6,305.2 500.8,308.6 500.4,310.5 501.7,314.6 502.4,319 502.5,324.5 503.8,327.1 504.3,327.7 507.9,329.2 510.8,332.1 514.2,336.1 518.4,338.2 522.9,339.7 527.7,339.1 530.4,340.5 530.8,341.2 531.1,345.2 533.1,349.7 536.8,352 540.7,353.6 543.7,355.8 546.8,360.5 552.9,368.1 555.2,372.7 558.3,383.4 560.7,388 564.5,390.3 578,394.8 582.7,395.6 584.2,396.1 585.3,397.2 589.1,399.5 590.7,404 590,408.7 591.2,414.9 590.8,416.4 591,420.7 590,434.1 588.5,437.9 585.4,439.8 584.3,442 584.2,442.9 585.7,444.4 586.3,444.7 590,444.3 593.9,445.2 596.8,447.4 599.2,450.8 602.2,452.9 606,452.7 609.6,451 612.4,448.2 613.7,445.1 616.5,442.2 619,439 620.5,435.1 621.6,430.6 622.2,426 622.1,417.1 622.7,416.2 623.9,415.9 624.4,415.5 625,413.5 625,399.6 625.2,398.9 630.2,395.4 634.2,393.5 638,391.2 644,385.9 646.9,383.7 649.9,382.9 650.6,382 650.4,381 648.6,379.9 646.8,376.6 648.3,372 649.1,367.5 647.2,358.5 646.7,354 647.9,349.2 648.2,344.8 647.5,341.2 647.8,340.5 649,339.4 649.4,336.2 650.9,332.4 657.1,326.1 659,322.5 659.6,319.1 659.5,318.3 657.8,315.6 655.1,312.5 654.2,308.9 654.4,304.1 654,299.5 654.4,295 653.5,290.1 654.7,276.7 655.4,273 656.8,271.3 661.6,256.3 666.3,248.5 667.7,244.8 668.5,241.1 667.7,231.8 667,227.4 665.3,223.6 662.1,220.7 659,218.5 654.7,211.9 651.8,209 647.9,206.6 645.8,204.5 644.8,199.7 642.6,196 641,192.5 638.6,189.4 635.7,186.5 632.2,184 627.9,182.9 619.1,181.4 616.1,181.8 614.4,180.5 609.2,180 603.9,180.1 599.3,181.6 594,183.8 589.2,183.8 584.8,181.5 581.1,177.8 578,174 574.9,170.9 571.1,168.6 566.4,166.2 563.4,162.4 561,157.8 558.1,154 555.3,151.7 550.2,150.3 541.5,149 531.7,149 530,148 527.1,147.2 524,147.7 521.3,149 516.7,149 515.8,149.2 515.2,149.8 514.9,150.8 514.4,151.4 507.4,154.3 503.9,156.5 500.6,159.2 499.4,159.9 489.3,160 488.3,160.5 488,161.4 489.2,169.1 488.5,174.4 486.2,179.1 484.7,182.9 482.7,192.2 478.6,200ZM508.5,530.9 508.5,531.5 509.7,535 514.2,542.6 517.4,548.6 517.3,549.3 516.5,550.4 516.7,552.7 514.9,557 510.1,564.4 510.1,565.2 511,567.9 511.6,568.4 515.3,569.8 519.8,570.8 524.3,571.3 529,570.8 533.7,569.3 537,566.7 538.6,563.1 537.4,558.7 535.1,554.4 534.5,550.9 535.1,550.2 537,549.9 537.7,549.3 543.5,536.9 546.3,527.9 547.3,519.1 546.3,514.7 544.6,511.5 544.7,510.9 545.7,508.7 545.1,505.5 543.1,503.4 540,503 538.5,504.4 538.1,506.9 537.6,507.6 531.7,508.9 528.5,510.2 522.1,515.3 512.6,524.7 510,528ZM503.2,556.2 503.1,556.8 503.4,558.6 505.5,560.1 508.5,559.6 508.9,559.1 509.7,557.1 509.5,556.1 507.9,554.4 507.3,554.1 504.6,554.2Z" fill="#ff6e00"/>
<path d="M654.7,382.6 654.3,383.4 654.4,384.2 656.3,385.8 664.7,387 668.2,385.7 668.7,385.1 669,383.8 668.8,382.9 668.1,382.4 665.5,381.6 661,381 656.5,381.6ZM511.9,269.4 513.7,276 521.3,288.6 524.6,295 526.4,301.4 525.5,309.5 526.5,310.7 530.7,319.2 534.1,329.8 536.9,335.2 548.3,348.9 552.1,354.3 556,358.9 563.6,368.9 578.8,387.2 582.7,391 584.6,392.3 585.5,394.3 589.3,396.7 591.5,401 599,414.4 598.7,415.5 597.3,416.2 596.8,416.9 595.6,429.6 596.1,434.3 597.6,438.2 600.7,441.2 604.5,443.2 609.1,443.5 613.5,442.2 616.8,439.5 619,436.2 620.5,432 621.3,427.5 621.6,422.9 621.5,417.1 621.8,416.5 623,415.4 625,407.6 625.1,396.9 634.1,388.2 643.3,380 645.6,376.6 647.2,372.1 647.9,367.4 646.1,358.3 645.8,354 647,349 647.3,344.6 646.7,341 647.1,340.4 648.3,339.4 648.6,336.2 650.2,331.9 656,325.8 658.1,322.7 658.9,319 658.8,318.3 657.1,315.6 654.5,312.5 653.2,308.7 653.5,304 653.2,299.4 653.5,294.9 652.9,290.3 653.5,281.1 654.7,272.9 656.1,271.3 657.5,266.1 660.5,256.8 662.6,252.5 665.1,248.6 666.6,244.9 667.7,241.1 667.7,236.4 667.3,231.9 666.1,227.1 663.6,223.4 657,218 654.7,214.9 651.7,212 647.9,208.9 645.2,207.6 644.4,207.5 636.4,210.4 631.8,211.1 623.5,205.9 618.9,203.5 615.4,202.1 614.1,202 604,198.4 599.4,196.1 596.3,193.1 593.2,189.2 589.3,186.9 584.7,185.7 579.5,185.1 574.1,185.4 568.7,186.1 563.4,187.2 558.9,189.2 555.5,191.2 555,192 554.9,193.7 554.3,194.4 551.2,194.9 547.4,195.9 544.1,198.1 541.3,201.9 537.4,211.2 535.1,215 533.6,218.9 531.3,222.7 528.5,226.6 526.4,230.4 518.8,248.6 516.6,255.2 515.1,256.7 514.9,258.2 512.4,264ZM540.6,510 539.8,509.8 539.1,510 538.6,510.6 538.6,511.3 539.4,513.3 540.7,514.1 541.5,514.1 542.5,513.6 542.7,512.4 542.1,511.3Z" fill="#ff0000"/>
<clipPath id="iceB"><path d="M430.2,185.6 430.2,185.6 430.5,190.2 430.5,190.2 430.5,190.2 432.5,193.2 432.5,193.2 432.5,193.2 435,195.9 435,195.9 435,195.9 435,195.9 435,195.9 435,196 435,196 435,196 435,196 435,196.7 435,196.7 435,196.7 439.6,196.7 439.6,196.7 444.2,196.4 444.2,196.4 448.7,196.7 448.7,196.7 448.8,196.7 448.8,196.7 448.8,196.7 448.8,196.7 452.6,199 452.6,199 452.6,199 452.6,199 452.6,199 452.6,199 455.6,203.6 455.6,203.6 457.9,207.4 457.9,207.4 461,211.2 464,215 464,215 464,215 466.3,219.6 466.3,219.6 466.3,219.6 467.4,224.2 467.4,224.2 467.4,224.2 467.4,224.2 467.4,224.2 466.8,228.8 466.8,228.8 466.8,228.8 467.9,233.4 467.9,233.4 469.4,238 469.4,238 470.5,242.5 470.5,242.5 470.5,242.5 470.5,242.6 470.5,242.6 469.9,247.1 469.9,247.1 468.9,251.7 468.9,251.7 468.6,255.9 468.6,255.9 468.6,255.9 468.6,255.9 468.6,255.9 468.6,256 468.6,256 468.6,256 468.6,256 468.6,256 468.6,256 468.6,256 468.6,256 468.6,256 468.5,256 468.5,256 468.2,256 468.2,256 468.2,256 467,261.9 467,261.9 466.5,269.6 466.5,269.6 467,277.2 467,277.2 467,277.2 466,284.8 466,284.8 465.3,292.5 465.3,292.5 464,300.1 464,300.1 462.7,306.5 462.7,306.5 462.7,306.5 465,311.1 465,311.1 465,311.1 465,310.1 465,310.1 465,310.1 465,310.1 465,310.1 465,310.1 465,310 465,310 465,310 465,310 465,310 465.1,310 465.1,310 465.1,310 465.1,310 465.1,310 465.1,310 470.3,310 470.3,310 470.3,310 470.3,310 470.3,310 470.3,310 470.3,310 470.3,310 470.3,310 470.3,310 470.3,310 470.3,310.1 470.4,310.1 470.4,310.1 470.4,310.1 470.4,310.1 470.8,314.6 470.8,314.6 471.9,319.2 471.9,319.2 471.9,319.2 475.7,321.9 475.7,321.9 475.7,321.9 475.7,321.9 475.7,321.9 475.7,321.9 475.7,322 475.7,322 476.5,325.3 476.5,325.3 478,334.4 478,334.4 478,334.4 478,334.5 478,334.5 478,334.5 478,334.5 476.5,338.3 476.5,338.3 476.5,338.3 476.5,338.3 476.5,338.3 474.2,340.6 474.2,340.6 474.2,340.6 475.7,344.4 475.7,344.4 475.7,344.4 478,348.2 478,348.2 478,348.2 479.5,352.8 479.5,352.8 479.5,352.8 480.3,357.4 480.3,357.4 480.3,357.4 480.3,357.4 480.3,357.4 480.3,357.4 479.5,359.6 479.5,359.6 479.5,359.7 479.5,359.7 479.5,359.7 479.5,359.7 479.5,359.7 479.5,359.7 479.5,359.7 474.5,362 474.5,362 474.5,362 474.9,366.9 474.9,366.9 474.9,366.9 480.3,368.1 480.3,368.1 480.3,368.1 480.3,368.1 480.3,368.1 480.3,368.1 480.3,368.1 480.3,368.1 482.1,370.4 482.1,370.4 482.1,370.4 482.1,370.4 482.1,370.4 482.1,370.4 482.1,370.4 482.1,370.4 481.8,375.7 481.8,375.7 480.3,384.9 480.3,384.9 480.3,384.9 480.3,384.9 480.3,384.9 480.3,384.9 480.3,384.9 477.2,388 477.2,388 474.9,391 474.9,391 474.9,391 475.7,395.6 475.7,395.6 475.7,395.6 477.2,400.2 477.2,400.2 478.7,405.9 478.7,405.9 478.7,405.9 478.7,405.9 478.7,405.9 478.7,405.9 478.7,405.9 478.7,405.9 478.7,405.9 478.7,406 478.7,406 478.7,406 478.7,406 478.7,406 478.7,406 478.7,406 478.7,406 478.6,406 478.6,406 478.6,406 477.9,406 477.8,406 477.8,406 478,406.6 479.8,414.3 479.8,414.3 480.5,421.9 480.5,421.9 480.5,421.9 479.8,429.6 479.8,429.6 479.7,430 479.7,430 479.7,430 482.1,430 482.1,430 482.1,430 482.1,430 482.1,430 482.1,430 482.1,430 482.1,430 482.2,430 482.2,430 482.2,430 482.2,430.1 482.2,430.1 482.2,430.1 482.2,430.1 482.2,430.1 482.2,430.1 482.2,430.1 482.2,430.1 482.2,430.1 482.2,430.1 482.2,430.1 482.2,430.2 480,433.8 480,433.8 477.7,438.4 477.7,438.4 476.1,443 476.1,443 476.1,443 475.4,447.6 475.4,447.6 475.4,447.6 475.4,447.6 475.4,447.6 473.9,449.8 473.9,449.8 473.9,449.8 473.9,449.8 473.9,449.8 473.9,449.8 473.9,449.8 473.8,449.8 473.8,449.8 473.8,449.8 473.8,449.8 473.8,449.8 473.8,449.8 473.8,449.8 473.8,449.8 473.8,449.8 470.8,448.4 470.8,448.3 470.8,448.3 470.8,448.3 467.7,445.3 467.7,445.3 467.7,445.3 463.9,443 463.9,443 460.1,439.9 460.1,439.9 460.1,439.9 456.3,439.2 456.3,439.2 456.3,439.2 454,443 454,443 454,443 452.9,448.3 452.9,448.3 452.9,448.3 453.2,452.2 453.2,452.2 453.2,452.2 455,455.2 455.1,455.2 455.1,455.2 458.6,456.8 458.6,456.8 458.6,456.8 462.4,455.2 462.4,455.2 462.4,455.2 466.2,453 466.2,453 466.2,452.9 466.2,452.9 466.2,452.9 466.2,452.9 466.2,452.9 466.2,452.9 466.2,452.9 466.2,453 466.3,453 467.9,453.8 467.9,453.8 467.9,453.8 467.9,453.8 467.9,453.8 467.9,453.8 467.9,453.8 467.9,453.8 467.9,453.8 468,453.8 468,453.9 468,453.9 468,453.9 468,453.9 468,453.9 467.9,453.9 467.9,453.9 467.9,453.9 467.9,453.9 467.9,453.9 467.9,453.9 467.9,453.9 466.2,455.2 466.2,455.2 466.2,455.2 466.2,455.2 466.2,455.2 466.2,455.2 462.4,456 462.4,456 462.4,456 460.9,459 460.9,459 460.9,459.1 458.6,462.1 458.6,462.1 456.3,465.9 456.3,465.9 456.3,465.9 455.1,470.5 455.1,470.5 455.1,470.5 456,475.1 456,475.1 456,475.1 456,475.1 456,475.1 456,475.1 454.4,479.7 454.4,479.7 454.4,479.7 453.5,485 453.5,485 453.2,490.4 452.9,495.7 452.9,495.7 452.9,495.7 453.5,501.1 453.5,501.1 453.5,501.1 453.2,506.4 453.2,506.4 453.2,506.4 454,511.8 454,511.8 454,512 454,512 454,512 454,512 454,512 454.1,512 454.1,512 454.1,512 454.1,512 454.1,512 454.1,512 454.1,512 454.1,512 454.1,512.1 454.1,512.1 454.1,512.1 454.1,512.1 454.9,515.8 454.9,515.8 454.9,515.8 457.9,519.6 457.9,519.6 457.9,519.7 460.2,524.2 460.2,524.2 460.2,524.2 460.2,524.2 460.2,524.2 460.2,524.3 460.2,524.3 459.5,528.8 459.5,528.8 459.5,528.8 460.7,533.4 460.7,533.4 460.7,533.4 463.3,538 463.3,538 463.3,538 464.8,542.6 464.8,542.6 464.8,542.6 465.6,547.9 466.3,553.3 466.3,553.3 466.3,553.3 467.9,557.9 467.9,557.9 467.9,557.9 470.9,562.4 470.9,562.5 473.2,567 475.5,571.6 477.8,576.2 477.8,576.2 477.8,576.2 480.9,580 480.9,580 480.9,580 484.7,581.6 484.7,581.6 484.7,581.6 489.3,582.6 489.3,582.6 489.3,582.6 493.9,584.6 493.9,584.6 497.7,586.1 497.7,586.1 497.7,586.1 501.5,585.4 501.5,585.4 501.5,585.4 501.5,585.4 501.5,585.4 501.5,585.4 501.5,585.4 501.5,585.4 504.5,586.9 504.5,586.9 504.5,586.9 504.6,586.9 504.6,586.9 504.6,586.9 504.6,586.9 506.8,590.7 509.1,594.5 511.4,598.4 511.4,598.4 514.5,602.2 514.5,602.2 514.5,602.2 518.3,605.2 518.3,605.2 521.4,608 521.4,608 521.4,608 522.6,608 522.6,608 522.6,608 527.7,608.8 527.7,608.8 527.7,608.8 529.8,608 529.8,608 529.8,608 529.9,608 535.9,608 535.9,608 535.9,608 538.9,603.7 538.9,603.7 542,599.1 542,599.1 544.3,594.5 544.3,594.5 544.3,594.5 545.8,589.2 547.4,583.9 547.4,583.8 549.3,578.5 549.3,578.5 550.9,573.1 550.9,573.1 551.9,567.8 551.9,567.8 552.7,562.4 552.7,562.4 552.7,562.4 551.9,557.1 551.9,557.1 551.9,557.1 551.9,557.1 551.9,557.1 553.5,551.7 553.5,551.7 554.2,550 554.2,550 554.2,550 552.2,550 552.2,550 552.2,550 552.2,550 552.2,550 552.2,550 552.2,550 552.2,550 552.2,550 552.2,550 552.2,550 552.2,549.9 552.1,549.9 552.1,549.9 552.1,549.9 552.1,549.9 552.1,549.9 552.1,549.9 552.1,549.9 552.1,549.9 552.1,549.9 552.2,549.9 553.3,547.7 553.3,547.7 555.5,543.9 555.5,543.9 557.8,540.1 557.8,540.1 561.6,532.4 561.6,532.4 561.6,532.4 564.2,529.2 564.2,529.2 566.1,526.1 566.1,526 567.7,522.2 567.7,522.2 569.3,517.8 569.3,517.8 570.5,513.3 571.8,508.9 571.8,508.9 572.8,504.4 572.8,504.4 572.8,504.4 573.1,499.9 573.1,499.9 573.7,495.5 573.7,495.5 573.7,495.5 575,491.7 575,491.7 575,491.7 575,490.8 575,490.8 575,490.8 575,490.8 575,490.8 575,490.8 575,490.8 575,490.8 576.2,489.4 576.2,489.4 579.3,486.6 579.3,486.6 579.3,486.6 579.3,486.6 579.3,486.6 583.1,485.1 583.1,485.1 586.9,483.3 586.9,483.3 586.9,483.3 590,481 590,481 590,481 592.3,477.1 592.3,477.1 592.3,477.1 593.8,473.4 593.8,473.4 593.8,473.3 593.8,473.3 593.8,473.3 593.8,473.3 593.8,473.3 593.8,473.3 596.8,471.8 596.8,471.8 596.8,471.8 596.8,471.8 596.8,471.8 596.9,471.8 596.9,471.8 596.9,471.8 596.9,471.8 599.9,472.9 599.9,472.9 599.9,472.9 603.7,472.6 603.7,472.6 603.7,472.6 607.5,471 607.5,471 607.5,471 610.6,468 610.6,468 613.7,464.2 616.7,460.3 616.7,460.3 616.7,460.3 619.8,457.6 619.8,457.6 623.6,454.2 623.6,454.2 627.4,450.4 627.4,450.4 630.5,446.6 630.5,446.6 630.5,446.6 633.5,437.4 633.5,437.4 634.1,436.1 634.1,436.1 634.1,436 634.1,436 634.1,436 634.1,436 634.1,436 634.1,436 634.1,436 634.1,436 634.1,436 634.2,436 634.2,436 636,436 636,436 636,436 636.5,433.3 636.5,433.2 637.5,428.7 637.5,428.7 638.8,424.1 638.8,424.1 640.3,420.3 640.3,420.3 640.3,420.2 642.6,416.4 642.6,416.4 642.6,416.4 645.6,413.4 645.6,413.4 648.7,410.6 648.7,410.6 648.7,410.6 648.7,410.6 648.7,410.6 651.7,409.6 651.8,409.6 655.6,408.8 655.6,408.8 655.6,408.8 660.2,406.5 660.2,406.5 664,404.2 664,404.2 664,404.2 667.8,403 667.8,403 671.6,401.1 671.6,401.1 676.2,398.9 676.2,398.9 676.2,398.9 680,395.8 683.9,392.7 683.9,392.7 683.9,392.7 686.9,388.9 686.9,388.9 690.7,385.1 690.7,385.1 693.8,382.8 693.8,382.8 696.8,380.1 696.8,380.1 696.8,380 699.6,376.7 699.6,376.7 699.6,376.7 702.2,372.1 702.2,372.1 705.3,367.5 705.3,367.5 707.5,362.9 707.5,362.9 709.4,358.3 709.4,358.3 710.9,353.8 710.9,353.8 710.9,353.8 710.6,349.9 710.6,349.9 710.6,349.9 707.5,347.6 707.5,347.6 707.5,347.6 703.7,345.8 703.7,345.8 703.7,345.8 699.1,344.6 699.1,344.6 694.6,343.8 694.6,343.8 694.5,343.8 690,342.3 690,342.3 690,342.3 686.5,340.2 686.4,340.2 686.4,340.2 686.4,340.2 686.4,340.2 686.4,340.2 686.4,340.1 686.4,340.1 686.4,340.1 686.4,340.1 686.4,340.1 686.4,340.1 686.4,340.1 686.4,340.1 686.4,340.1 686.4,340.1 686.4,340 686.4,340 686.4,340 686.4,340 686.5,340 686.5,340 686.5,340 686.5,340 686.5,340 686.5,340 686.5,340 689.1,340 689.1,340 689.1,340 686.9,336.2 686.8,336.2 686.8,336.2 685.3,331.6 685.3,331.6 685.3,331.6 685.3,331.6 685.3,331.6 685.3,331.6 686.1,327.1 686.1,327.1 686.1,327.1 686.1,327 686.1,327 686.1,327 686.1,327 686.1,327 686.1,327 689.1,324.8 689.1,324.8 689.1,324.7 689.1,324.7 689.1,324.7 689.2,324.7 689.2,324.7 689.2,324.7 693,324.7 693,324.7 693,324.7 696.8,323.2 696.8,323.2 696.8,323.2 698.8,319.4 698.8,319.4 698.8,319.4 697.5,315.6 697.5,315.6 697.5,315.6 693,314.8 693,314.8 693,314.8 688.4,316.3 688.4,316.3 688.4,316.3 688.4,316.3 688.4,316.3 688.4,316.3 688.4,316.3 688.4,316.3 688.4,316.3 688.3,316.3 688.3,316.3 688.3,316.3 686.2,314.1 686.1,314.1 686.1,314.1 686.1,314.1 686.1,314.1 686.1,314.1 686.1,314.1 686.1,314 686.1,314 686.1,314 686.1,314 686.1,314 686.1,314 686.1,314 686.1,314 686.1,314 686.2,314 688.4,311.7 688.4,311.7 688.4,311.7 689.9,307.2 689.9,307.2 689.9,307.2 690.7,302.6 690.7,302.6 690.7,302.6 690.7,302.6 690.7,302.6 690.7,302.6 690.7,302.6 690.7,302.6 690.7,302.5 693.7,300.3 693.7,300.3 693.7,300.3 696,296.5 696,296.5 696,296.5 694.5,291.9 694.5,291.9 694.5,291.9 694.5,291.9 694.5,291.9 694.5,291.8 695.3,286.5 695.3,286.5 695.3,286.5 694.5,281.2 694.5,281.2 694.5,281.2 693,276.6 691.4,272 691.4,272 691.4,272 689.7,272 689.7,272 689.6,272 689.6,272 689.6,272 689.6,272 689.6,272 689.6,272 689.6,272 689.6,272 689.6,272 689.6,271.9 689.6,271.9 688.1,268.5 688.1,268.5 686.9,264.7 686.9,264.7 686.9,264.7 686.9,264.7 686.9,264.7 686.9,264.6 686.9,264.6 688.1,260.9 688.1,260.9 688.1,260.8 688.1,260.8 688.1,260.8 688.1,260.8 690.7,258.5 690.7,258.5 693.7,256.3 693.7,256.3 693.7,256.3 694.5,252.4 694.5,252.4 694.5,252.4 691.4,249.4 691.4,249.4 691.4,249.4 688.8,247.9 688.7,247.9 688.7,247.9 688.7,247.9 688.7,247.9 688.7,247.9 688.7,247.8 688.7,247.8 688.7,247.8 688.7,247.8 688.7,247.8 688.7,247.8 688.7,247.8 688.7,247.8 688.7,247.8 688.7,247.8 689.9,244.8 689.9,244.8 689.9,244.8 689.1,240.2 689.1,240.2 688.1,235.6 688.1,235.6 686.8,231 686.8,231 686.8,231 685,227.2 685,227.2 683,223.4 681,219.6 681,219.6 679.2,215.8 679.2,215.8 679.2,215.8 679.2,215.8 679.2,215.8 679.2,215.8 679.2,215.8 679.2,215.8 679.2,215.8 679.2,215.7 679.2,215.7 679.3,215.7 679.3,215.7 679.3,215.7 679.3,215.7 679.3,215.7 679.3,215.7 682.3,214.2 682.3,214.2 682.3,214.2 683.8,211.2 683.8,211.2 683.8,211.2 683,206.6 683,206.6 682.3,202.8 682.3,202.8 682.3,202.7 680.7,198.9 680.7,198.9 680.7,198.9 678.4,195.9 676.2,192.8 676.2,192.8 676.2,192.8 676.1,192.8 676.1,192.8 676.1,192.8 675.4,189 675.4,189 675.4,189 673.1,186.7 673.1,186.7 673.1,186.7 673.1,186.7 673.1,186.7 673.1,186.7 673.1,186.7 673.1,186.7 673.1,186.7 673.1,186.7 673.1,186.6 673.8,182.9 673.9,182.9 673.9,182.9 673.9,182.9 676.1,179.1 676.1,179.1 678.4,176 678.4,176 678.4,176 675.2,176 675.2,176 675.2,176 675.1,176 675.1,176 675.1,176 675.1,176 675.1,176 675.1,176 675.1,176 675.1,176 675.1,175.9 675.1,175.9 675.1,175.9 675.1,175.9 675.1,175.9 675.1,175.9 675.1,175.9 675.1,175.9 675.4,174 675.4,174 675.4,174 675,169.6 675,169.5 675,167 675,167 675,167 673.9,162.4 673.9,162.4 673,156.3 673,156.3 671.9,151 671.9,151 670.4,145.6 670.4,145.6 668.9,141 668.9,141 668.9,141 665.8,137.2 665.8,137.2 663.5,133.4 663.5,133.4 663.5,133.4 663.5,133.4 663.5,133.4 662.8,128.8 662.8,128.8 662.8,128.8 660.5,125.8 660.5,125.8 660.5,125.8 656.7,125.5 656.7,125.5 656.6,125.4 652.9,124.2 652.9,124.2 652.8,124.2 652.8,124.2 652.8,124.2 652.8,124.2 652.8,124.2 650.6,121.2 650.6,121.2 650.5,121.2 650.5,121.2 650.5,121.2 650.5,121.1 649.8,116.6 649.8,116.6 649.8,116.6 649.8,116.6 650.5,112.1 650.5,112.1 650.5,112.1 650.5,112.1 650.5,112 650.5,112 650.6,112 650.6,112 650.6,112 650.6,112 650.6,112 650.6,112 650.6,112 650.6,112 650.6,112 651.8,112 651.8,112 651.8,112 653.8,107 653.8,107 653.8,107 653.8,107 653.8,107 653.8,107 653.8,107 657.6,104.5 657.6,104.5 657.6,104.5 660.2,100.6 660.2,100.6 662.7,95.5 662.7,95.5 662.7,95.5 661.4,90.4 661.4,90.4 661.4,90.4 657.6,91.2 657.6,91.2 657.6,91.2 653.8,95.5 653.8,95.5 653.8,95.5 651.8,100.6 651.8,100.6 650,107 650,107 650,107 650,107 650,107 649.9,107 646.2,110.8 646.2,110.8 646.1,110.8 646.1,110.8 646.1,110.8 646.1,110.8 642.6,112 642.6,112 642.6,112 642.6,112 642.3,112 642.3,112 642.2,112 642.2,112 642.2,112 642.2,112 642.2,112 642.2,112 642.2,112 639.8,109.6 639.8,109.6 639.8,109.6 636,107 636,107 636,107 635.1,106.7 635.1,106.7 635.1,106.7 635,106.7 635,106.7 635,106.7 635,106.7 635,106.7 635,106.7 635,106.7 635,106.6 635,106.6 635,106.6 635,106.6 635,105.2 635,105.2 635,105.2 629.7,105.9 629.7,105.9 629.7,105.9 629.6,105.9 629.6,105.9 629.6,105.9 625.9,104.4 625.8,104.4 625.8,104.4 625.8,104.4 625.8,104.4 625.8,104.4 625.8,104.4 623.9,101.4 623.8,101.4 623.8,101.3 623.8,101.3 623.8,101.3 623.8,101.3 623.5,96 623.5,96 622.8,90.6 622.8,90.6 622.8,90.6 619,88.3 618.9,88.3 618.9,88.3 614.4,90.6 614.4,90.6 614.4,90.6 614.4,90.6 614.4,90.6 614.4,90.6 614.3,90.6 614.3,90.6 614.3,90.6 614.3,90.6 612.9,89.9 612.9,89.9 612.9,89.9 612.9,89.9 612.9,89.9 612.9,89.9 612.9,89.9 612.9,89.9 612.9,89.9 612.9,89.8 612.9,89.8 612.9,89.8 612.9,89.8 612.9,89.8 612.9,89.8 612.9,89.8 614.4,85.3 614.4,85.3 614.4,85.3 612.8,80.7 612.8,80.7 612.8,80.7 609.8,76.9 609.8,76.9 606.7,73.8 606.7,73.8 606.7,73.8 606.7,73.8 606.7,73.8 606.7,73.8 606.7,73.8 606,70.1 606,70.1 606,70.1 606,70.1 606,70.1 606,70.1 606,70.1 606,70.1 606,70 606,70 606,70 606,70 606,70 606,70 606,70 606,70 606.1,70 606.1,70 606.1,70 610.5,70 610.5,70 610.5,70 610.5,66.2 610.5,66.2 610.5,66.2 606.7,62.4 606.7,62.4 606.7,62.4 600.3,62.4 600.3,62.4 600.3,62.4 600.3,62.4 600.3,62.4 600.3,62.4 600.3,62.4 600.3,62.4 600.3,62.4 596.5,58.6 596.5,58.6 596.5,58.6 596.5,58.6 596.5,58.6 596.5,58.6 596.5,58.6 595.2,53.5 595.2,53.5 595.2,53.5 590.1,51 590.1,51 590.1,51 585,52.2 585,52.2 585,52.2 585,58 585,58 585,58.1 585,58.1 585,58.1 585,58.1 585,58.1 585,58.1 585,58.1 585,58.1 585,58.1 579.9,61.1 579.9,61.1 579.9,61.1 576.1,65 576.1,65 572.3,70 572.3,70 572.3,70 572.3,70 572.3,70 572.3,70 572.3,70 572.3,70 569.3,73.1 569.3,73.1 565.4,76.1 565.4,76.1 560.9,79.2 560.9,79.2 557,81.5 557,81.5 557,81.5 553.2,83 553.2,83 553.2,83 551.7,85 551.7,85 551.7,85 551.7,85 551.7,85 551.7,85 551.7,85 551.7,85 551.7,85 551.7,85 551.4,85 551.4,85 551.4,85 550.9,88.1 550.4,91.1 550.4,91.1 550.4,91.1 550.4,91.1 550.4,91.1 550.4,91.1 550.4,91.1 548.4,93.1 548.4,93.1 548.4,93.1 548.4,93.1 548.4,93.2 548.4,93.2 548.3,93.2 545.3,93.7 545.3,93.7 545.3,93.7 542.8,95.2 542.8,95.2 540.3,97.2 540.2,97.2 540.2,97.2 540.2,97.2 540.2,97.2 540.2,97.2 540.2,97.2 540.2,97.2 537.2,97.2 537.2,97.2 537.2,97.2 537.2,97.2 533.6,96.2 530,95.2 530,95.2 526.5,94.7 526.5,94.7 526.5,94.7 522.9,95.2 522.9,95.2 522.9,95.2 519.8,96.2 519.8,96.2 519.8,96.2 517.8,98.2 517.8,98.2 517.8,98.2 517.8,98.2 517.8,98.2 517.8,98.2 517.8,98.2 517.8,98.2 517.8,98.2 517.8,98.2 517.7,98.2 515.8,97.7 515.8,97.7 512.7,97.2 509.7,96.7 509.7,96.7 509.7,96.7 509.6,96.7 509.6,96.7 506.6,94.7 506.6,94.7 506.6,94.7 503,93.7 503,93.7 503,93.7 499.5,93.7 499.5,93.7 499.5,93.7 496.4,94.7 496.4,94.7 496.4,94.7 493.9,96.2 493.9,96.2 493.9,96.2 491.8,99.3 491.8,99.3 491.8,99.3 490.8,103.3 490.8,103.3 490.3,107.4 490.3,107.4 490.1,111.5 490.1,111.5 490.1,111.5 490.5,115.6 490.5,115.6 490.5,115.6 490.3,119.5 490.3,119.5 490.3,119.5 490.3,119.5 490.3,119.5 490.3,119.5 490.3,119.6 490.3,119.6 490.3,119.6 490.3,119.6 490.2,119.6 490.2,119.6 490.2,119.6 490.2,119.6 490.2,119.6 490.2,119.6 490.2,119.6 490.2,119.6 490.2,119.6 490.2,119.6 490.1,119.6 488.3,118.6 488.3,118.6 488.3,118.6 488.2,118.6 488.2,118.6 488.2,118.6 486.2,115.6 486.2,115.6 484.2,113 484.2,113 484.2,113 482.1,111.5 482.1,111.5 482.1,111.5 479.6,112.5 479.6,112.5 479.6,112.5 477,114.5 477,114.6 477,114.6 475,115.6 475,115.6 475,115.6 475,122.6 475,122.6 475,122.6 475,122.6 475,122.6 475,122.6 475,122.6 475,122.6 475,122.6 475,122.6 475,122.7 474.5,122.9 474.5,122.9 470.7,126 470.7,126 466.9,129.8 466.8,129.8 463,132.9 463,132.9 463,132.9 463,132.9 459.2,134.4 459.2,134.4 459.2,134.4 459.2,134.4 455.4,134.9 455.4,134.9 455.4,134.9 453.1,136.7 453.1,136.7 453.1,136.7 453.8,138.9 453.8,138.9 453.8,138.9 453.8,138.9 453.8,138.9 453.8,138.9 453.8,139 453.8,139 453.8,139 453.8,139 453.8,139 453.8,139 453.8,139 453.8,139 453.8,139 453.8,139 450.8,140.5 450.8,140.5 447,142 447,142 444.2,143.6 444.2,143.6 444.2,143.6 443.2,146.6 443.2,146.6 443.2,146.6 443.6,150.4 443.6,150.4 443.6,150.4 443.6,150.4 443.6,150.4 443.6,150.5 443.6,150.5 443.6,150.5 443.6,150.5 441.6,152.7 441.6,152.7 441.6,152.7 442.4,156.6 442.4,156.6 442.4,156.6 444.4,159.8 444.4,159.9 444.4,159.9 444.4,159.9 444.4,159.9 444.4,159.9 444.4,159.9 444.4,159.9 444.4,159.9 444.4,159.9 444.4,159.9 444.4,159.9 444.4,160 444.4,160 444.3,160 444.3,160 444.3,160 444.3,160 444.3,160 444.3,160 444.3,160 444.3,160 444.3,160 444.2,160 444.2,160 444.2,160 443.4,164.6 443.4,164.6 441.9,169.9 441.9,169.9 441.9,169.9 441.9,169.9 441.9,170 438.8,174 438.8,174 438.8,174.1 438.8,174.1 438.8,174.1 438.8,174.1 438.8,174.1 435,175.3 435,175.3 435,175.3 435,179.5 435,179.5 435,179.5 435,179.5 435,179.5 435,179.5 435,179.6 435,179.6 435,179.6 431.7,182.5 431.7,182.5 431.7,182.5 430.2,185.6ZM444.1,47.1 444.1,47.1 444.1,50.4 444.1,50.4 444.1,50.4 447.4,53 447.4,53 447.4,53 453.8,54 453.8,54 460.1,54.8 460.2,54.8 460.2,54.8 460.2,54.8 460.2,54.8 465.3,57.3 465.3,57.3 470.3,59.1 470.4,59.1 470.4,59.1 475.4,58.6 475.5,58.6 481.8,58.6 481.8,58.6 481.8,58.6 486.9,57.3 486.9,57.3 486.9,57.3 488.2,53.5 488.2,53.5 488.2,53.5 483.1,52.2 483.1,52.2 483.1,52.2 478,52.2 478,52.2 478,52.2 478,52.2 478,52.2 478,52.2 472.9,49.7 472.9,49.7 472.9,49.7 469.6,47.2 469.6,47.2 469.6,47.2 469.6,47.1 469.6,47.1 469.6,47.1 469.6,47.1 469.6,47.1 469.6,47.1 469.6,47.1 469.6,47.1 469.6,47.1 470.3,41.3 470.4,41.3 470.3,41.3 466.5,43.3 466.5,43.3 466.5,43.3 462.7,47.1 462.7,47.1 462.7,47.1 458.9,49.7 458.9,49.7 458.9,49.7 458.9,49.7 458.9,49.7 458.9,49.7 458.9,49.7 458.9,49.7 458.8,49.7 458.8,49.7 453.8,47.9 453.8,47.9 448.7,45.4 448.7,45.4 448.7,45.4 444.1,47.1ZM428.8,81 428.8,81 430.9,85.3 430.9,85.4 430.9,85.4 436,87.9 436,87.9 442.3,90.4 442.3,90.4 447.4,91.7 447.4,91.7 447.4,91.7 453.8,90.4 460.2,89.2 460.2,89.2 460.2,89.2 462.7,84.1 462.7,84.1 462.7,84.1 461.4,79 461.4,79 461.4,79 453.8,77.7 453.8,77.7 453.8,77.7 443.6,78.5 443.6,78.5 434.7,79 434.7,79 434.7,79 428.8,81ZM428.6,136.7 428.6,136.7 429.9,139.4 429.9,139.4 429.9,139.4 432.9,141.3 432.9,141.3 436,142.8 436,142.8 436,142.8 437.8,140.1 437.8,140.1 437.8,140 435.1,136.7 435.1,136.7 435,136.7 431.7,133.9 431.7,133.9 431.7,133.9 428.6,136.7ZM400.4,108.4 400.4,108.4 400.8,112.2 400.8,112.2 400.8,112.2 403.4,113 403.4,113 403.4,113 406.5,109.9 406.5,109.9 406.5,109.9 408.8,105.4 408.8,105.4 408.8,105.3 408,101.5 408,101.5 408,101.5 404.9,100.8 404.9,100.8 404.9,100.8 401.9,103.8 401.9,103.8 401.9,103.8 400.4,108.4Z"/></clipPath>
<path d="M572.5,-93.2L-626.6,118.2M572.6,-92.8L-571.6,323.6M572.7,-92.5L-481.7,516.3M573.0,-92.1L-359.8,690.5M573.2,-91.9L-209.4,840.9M573.6,-91.6L-35.2,962.8M573.9,-91.5L157.5,1052.7M574.3,-91.4L362.9,1107.7M574.7,-91.3L574.7,1126.3M575.1,-91.4L786.5,1107.7M575.5,-91.5L991.9,1052.7M575.8,-91.6L1184.6,962.8M576.2,-91.9L1358.8,840.9M576.4,-92.1L1509.2,690.5M576.7,-92.5L1631.1,516.3M576.8,-92.8L1721.0,323.6M576.9,-93.2L1776.0,118.2M-377.4,-93.6A952.1,952.1 0 1 0 1526.8,-93.6M-126.3,-93.6A701.0,701.0 0 1 0 1275.7,-93.6M113.4,-93.6A461.3,461.3 0 1 0 1036.0,-93.6M345.8,-93.6A228.9,228.9 0 1 0 803.6,-93.6" fill="none" stroke="#8a8a8a" stroke-width="0.5" clip-path="url(#iceB)"/>
</g>
<rect x="218" y="560.5" width="164" height="52.0" fill="#fff"/>
<rect x="237.70" y="564.1" width="13.74" height="18.6" fill="#2a2aff"/>
<text x="244.4" y="592.2" font-size="10.6" text-anchor="middle" font-weight="normal" fill="#15151f" >1</text>
<rect x="251.14" y="564.1" width="13.74" height="18.6" fill="#33aaff"/>
<text x="257.9" y="592.2" font-size="10.6" text-anchor="middle" font-weight="normal" fill="#15151f" >2</text>
<rect x="264.58" y="564.1" width="13.74" height="18.6" fill="#00ffff"/>
<text x="271.3" y="592.2" font-size="10.6" text-anchor="middle" font-weight="normal" fill="#15151f" >3</text>
<rect x="278.02" y="564.1" width="13.74" height="18.6" fill="#96ffb4"/>
<text x="284.7" y="592.2" font-size="10.6" text-anchor="middle" font-weight="normal" fill="#15151f" >4</text>
<rect x="291.46" y="564.1" width="13.74" height="18.6" fill="#d5ff6a"/>
<text x="298.2" y="592.2" font-size="10.6" text-anchor="middle" font-weight="normal" fill="#15151f" >5</text>
<rect x="304.90" y="564.1" width="13.74" height="18.6" fill="#ffff00"/>
<text x="311.6" y="592.2" font-size="10.6" text-anchor="middle" font-weight="normal" fill="#15151f" >6</text>
<rect x="318.34" y="564.1" width="13.74" height="18.6" fill="#ffb200"/>
<text x="325.1" y="592.2" font-size="10.6" text-anchor="middle" font-weight="normal" fill="#15151f" >7</text>
<rect x="331.78" y="564.1" width="13.44" height="18.6" fill="#ff6e00"/>
<text x="338.5" y="592.2" font-size="10.6" text-anchor="middle" font-weight="normal" fill="#15151f" >8</text>
<text x="221.5" y="604.8" font-size="10.6" textLength="155.3" lengthAdjust="spacingAndGlyphs" fill="#1a1a1a">Number of models in agreement</text>
<rect x="581" y="559.5" width="164" height="52.0" fill="#fff"/>
<rect x="600.10" y="562.8" width="13.74" height="18.6" fill="#2a2aff"/>
<text x="606.8" y="591.0" font-size="10.6" text-anchor="middle" font-weight="normal" fill="#15151f" >1</text>
<rect x="613.54" y="562.8" width="13.74" height="18.6" fill="#33aaff"/>
<text x="620.3" y="591.0" font-size="10.6" text-anchor="middle" font-weight="normal" fill="#15151f" >2</text>
<rect x="626.98" y="562.8" width="13.74" height="18.6" fill="#00ffff"/>
<text x="633.7" y="591.0" font-size="10.6" text-anchor="middle" font-weight="normal" fill="#15151f" >3</text>
<rect x="640.42" y="562.8" width="13.74" height="18.6" fill="#96ffb4"/>
<text x="647.1" y="591.0" font-size="10.6" text-anchor="middle" font-weight="normal" fill="#15151f" >4</text>
<rect x="653.86" y="562.8" width="13.74" height="18.6" fill="#d5ff6a"/>
<text x="660.6" y="591.0" font-size="10.6" text-anchor="middle" font-weight="normal" fill="#15151f" >5</text>
<rect x="667.30" y="562.8" width="13.74" height="18.6" fill="#ffff00"/>
<text x="674.0" y="591.0" font-size="10.6" text-anchor="middle" font-weight="normal" fill="#15151f" >6</text>
<rect x="680.74" y="562.8" width="13.74" height="18.6" fill="#ffb200"/>
<text x="687.5" y="591.0" font-size="10.6" text-anchor="middle" font-weight="normal" fill="#15151f" >7</text>
<rect x="694.18" y="562.8" width="13.74" height="18.6" fill="#ff6e00"/>
<text x="700.9" y="591.0" font-size="10.6" text-anchor="middle" font-weight="normal" fill="#15151f" >8</text>
<rect x="707.62" y="562.8" width="13.44" height="18.6" fill="#ff0000"/>
<text x="714.3" y="591.0" font-size="10.6" text-anchor="middle" font-weight="normal" fill="#15151f" >9</text>
<text x="584.3" y="603.7" font-size="10.6" textLength="155.3" lengthAdjust="spacingAndGlyphs" fill="#1a1a1a">Number of models in agreement</text>
<rect x="42" y="592.5" width="72" height="17.5" fill="#fff"/>
<rect x="60" y="581.5" width="23" height="12" fill="#fff"/>
<rect x="45.9" y="596.3" width="49.6" height="10.3" fill="#000"/>
<text x="71.2" y="591.3" font-size="11" text-anchor="middle" font-weight="normal" fill="#111" >250</text>
<text x="98" y="605.3" font-size="11" text-anchor="start" font-weight="normal" fill="#111" >km</text>
<rect x="405.4" y="592.5" width="72" height="17.5" fill="#fff"/>
<rect x="423.4" y="581.5" width="23" height="12" fill="#fff"/>
<rect x="409.29999999999995" y="596.3" width="49.6" height="10.3" fill="#000"/>
<text x="434.59999999999997" y="591.3" font-size="11" text-anchor="middle" font-weight="normal" fill="#111" >250</text>
<text x="461.4" y="605.3" font-size="11" text-anchor="start" font-weight="normal" fill="#111" >km</text>
<rect x="34.4" y="17.5" width="352.4" height="600.0" fill="none" stroke="#000" stroke-width="1.0"/>
<rect x="397.65" y="17.5" width="353.0" height="600.0" fill="none" stroke="#000" stroke-width="1.0"/>
<text x="78.9" y="9.8" font-size="11.1" text-anchor="middle" font-weight="normal" fill="#111" >90°W</text>
<text x="147.2" y="9.8" font-size="11.1" text-anchor="middle" font-weight="normal" fill="#111" >70°W</text>
<text x="191.7" y="9.8" font-size="11.1" text-anchor="middle" font-weight="normal" fill="#111" >50°W</text>
<text x="230.9" y="9.8" font-size="11.1" text-anchor="middle" font-weight="normal" fill="#111" >30°W</text>
<text x="275.4" y="9.8" font-size="11.1" text-anchor="middle" font-weight="normal" fill="#111" >10°W</text>
<text x="304.5" y="9.8" font-size="11.1" text-anchor="middle" font-weight="normal" fill="#111" >0°</text>
<text x="343.7" y="9.8" font-size="11.1" text-anchor="middle" font-weight="normal" fill="#111" >10°E</text>
<text x="85.9" y="633.4" font-size="11.1" text-anchor="middle" font-weight="normal" fill="#111" >50°W</text>
<text x="211.3" y="633.4" font-size="11.1" text-anchor="middle" font-weight="normal" fill="#111" >40°W</text>
<text x="336.7" y="633.4" font-size="11.1" text-anchor="middle" font-weight="normal" fill="#111" >30°W</text>
<text x="442.3" y="9.8" font-size="11.1" text-anchor="middle" font-weight="normal" fill="#111" >90°W</text>
<text x="510.6" y="9.8" font-size="11.1" text-anchor="middle" font-weight="normal" fill="#111" >70°W</text>
<text x="555.1" y="9.8" font-size="11.1" text-anchor="middle" font-weight="normal" fill="#111" >50°W</text>
<text x="594.3" y="9.8" font-size="11.1" text-anchor="middle" font-weight="normal" fill="#111" >30°W</text>
<text x="638.8" y="9.8" font-size="11.1" text-anchor="middle" font-weight="normal" fill="#111" >10°W</text>
<text x="667.9" y="9.8" font-size="11.1" text-anchor="middle" font-weight="normal" fill="#111" >0°</text>
<text x="707.1" y="9.8" font-size="11.1" text-anchor="middle" font-weight="normal" fill="#111" >10°E</text>
<text x="449.3" y="633.4" font-size="11.1" text-anchor="middle" font-weight="normal" fill="#111" >50°W</text>
<text x="574.7" y="633.4" font-size="11.1" text-anchor="middle" font-weight="normal" fill="#111" >40°W</text>
<text x="700.1" y="633.4" font-size="11.1" text-anchor="middle" font-weight="normal" fill="#111" >30°W</text>
<text x="27.6" y="56.1" font-size="11.1" text-anchor="end" font-weight="normal" fill="#111" >80°N</text>
<text x="27.6" y="121.7" font-size="11.1" text-anchor="end" font-weight="normal" fill="#111" >80°W</text>
<text x="27.6" y="217.3" font-size="11.1" text-anchor="end" font-weight="normal" fill="#111" >70°W</text>
<text x="27.6" y="336.9" font-size="11.1" text-anchor="end" font-weight="normal" fill="#111" >70°N</text>
<text x="27.6" y="396.9" font-size="11.1" text-anchor="end" font-weight="normal" fill="#111" >60°W</text>
<text x="27.6" y="589.2" font-size="11.1" text-anchor="end" font-weight="normal" fill="#111" >60°N</text>
<text x="757.0" y="57.3" font-size="11.1" text-anchor="start" font-weight="normal" fill="#111" >80°N</text>
<text x="757.0" y="120.5" font-size="11.1" text-anchor="start" font-weight="normal" fill="#111" >0°</text>
<text x="757.0" y="215.6" font-size="11.1" text-anchor="start" font-weight="normal" fill="#111" >10°W</text>
<text x="757.0" y="337.3" font-size="11.1" text-anchor="start" font-weight="normal" fill="#111" >70°N</text>
<text x="757.0" y="394.2" font-size="11.1" text-anchor="start" font-weight="normal" fill="#111" >20°W</text>
<text x="757.0" y="589.4" font-size="11.1" text-anchor="start" font-weight="normal" fill="#111" >60°N</text>
<path d="M78.9,17.5v-5.6M118.1,17.5v-5.6M147.2,17.5v-5.6M170.9,17.5v-5.6M191.7,17.5v-5.6M211.3,17.5v-5.6M230.9,17.5v-5.6M251.7,17.5v-5.6M275.4,17.5v-5.6M304.5,17.5v-5.6M343.7,17.5v-5.6M85.9,617.5v5.3M211.3,617.5v5.3M336.7,617.5v5.3M442.3,17.5v-5.6M481.5,17.5v-5.6M510.6,17.5v-5.6M534.3,17.5v-5.6M555.1,17.5v-5.6M574.7,17.5v-5.6M594.3,17.5v-5.6M615.1,17.5v-5.6M638.8,17.5v-5.6M667.9,17.5v-5.6M707.1,17.5v-5.6M449.3,617.5v5.3M574.7,617.5v5.3M700.1,617.5v5.3M34.4,51.6h-5M34.4,117.2h-5M34.4,212.8h-5M34.4,332.4h-5M34.4,392.4h-5M34.4,584.7h-5M750.6,52.8h5M750.6,116.0h5M750.6,211.1h5M750.6,332.8h5M750.6,389.7h5M750.6,584.9h5" stroke="#000" stroke-width="1.0" fill="none"/>
<text x="377" y="35.2" font-size="17.2" text-anchor="middle" font-weight="bold" fill="#000" >A</text>
<text x="740.5" y="35.2" font-size="17.2" text-anchor="middle" font-weight="bold" fill="#000" >B</text>
</svg></body></html>
